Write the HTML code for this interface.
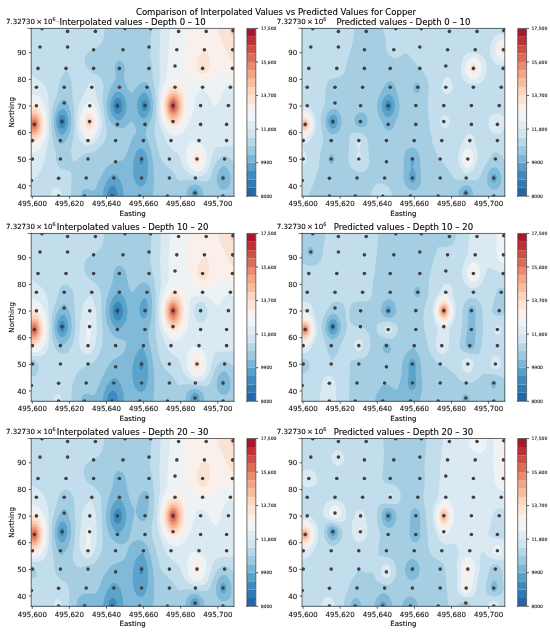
<!DOCTYPE html><html><head><meta charset="utf-8"><style>html,body{margin:0;padding:0;background:#fff;overflow:hidden}svg{display:block}text{stroke:#000;stroke-width:0.2px;stroke-opacity:0.5}</style></head><body><svg width="550px" height="633px" viewBox="0 0 550 633" version="1.1">
 
 <defs>
  <style type="text/css">*{stroke-linejoin: round; stroke-linecap: butt}</style>
 </defs>
 <g id="figure_1">
  <g id="patch_1">
   <path d="M 0 633 L 550 633 L 550 0 L 0 0 z " style="fill: #ffffff"/>
  </g>
  <g id="axes_1">
   <g id="patch_2">
    <path d="M 31.2 196.2 L 234 196.2 L 234 28.4 L 31.2 28.4 z " style="fill: #ffffff"/>
   </g>
   <g id="field0"><rect x="31.2" y="28.4" width="202.8" height="167.8" fill="#2b73b3"/>
<path fill="#3c8abe" fill-rule="evenodd" d="M31.2 28.4L234 28.4 234 196.2 113.5 196.2 112.8 193.8 111.6 193.7 110.9 195 110.7 196.2 31.2 196.2ZM61.8 118.8L60.7 120.1 60.5 121.4 60.5 122.6 61.8 124.5 63.1 123.8 63.7 121.4 63.1 119.4ZM116.7 102.8L115.7 104.5 115.6 106.9 116.7 109 117.9 109.3 119.1 108.1 119.5 106.9 119.3 104.5 117.9 102.6ZM144.7 104.9L144.4 105.7 144.7 106.3 145.1 105.7Z"/>
<path fill="#5ca3cb" fill-rule="evenodd" d="M31.2 28.4L234 28.4 234 196.2 117.7 196.2 117.5 192.6 116.5 189 114.9 186.5 114.1 185.8 112.8 185.5 111.6 185.9 110.3 186.9 109 188.7 107.6 192.6 107.2 196.2 31.2 196.2ZM61.8 114.8L60.5 115.6 59.3 117.6 58.5 121.4 59.3 125.9 60.5 127.9 61.8 128.6 63.1 128.3 64.4 127.2 65.4 125 65.9 121.4 65.6 118.9 64.4 116 63.1 114.9ZM116.7 98.1L115.4 99 114.1 101 113.4 103.2 113.1 106.9 113.5 109.3 114.5 111.7 116.7 113.9 117.9 114.2 119.2 113.8 121.2 111.7 122.1 109.3 122.5 105.7 121.8 102 120.5 99.4 119.2 98.3 117.9 97.9ZM140.9 156.5L140 157.6 139.3 160 139.6 162.7 140.9 164.8 142.2 164.3 143 162.4 143.4 160 142.8 157.6 142.2 156.6ZM143.4 100.2L142.2 101.7 141.6 103.2 141.4 106.9 142.2 109.5 143.4 111 144.7 111.2 146 110.6 147.3 108.4 147.7 104.5 147 102 146 100.5 144.7 99.9Z"/>
<path fill="#81bad8" fill-rule="evenodd" d="M31.2 28.4L234 28.4 234 196.2 198.1 196.2 198.3 193.8 197.9 191.4 197 189.9 195.7 189 194.5 188.9 193.2 189.6 192.1 191.4 191.6 193.8 191.9 196.2 123.6 196.2 122.9 187.7 121 181.7 117.9 176.7 115.4 174.5 114.1 174.2 112.7 174.5 110.3 176.3 106.4 181.7 103.6 189 102.7 196.2 31.2 196.2ZM61.8 109.1L59.3 111.4 57.7 114.1 56.6 117.7 56.2 122.6 56.7 126.6 58 130.6 59.3 132.9 60.5 134.2 61.8 134.7 63.1 134.4 64.4 133.4 66.8 129.8 68 126.2 68.5 121.4 68 116.5 66.3 111.7 64.4 109.3 63.1 108.8ZM116.7 91.8L114.1 93.6 111.6 98 110.3 103.2 110.2 108.1 111.2 112.9 112.9 116.5 115.4 119.3 117.9 120.4 119.2 120.4 122 118.9 124.6 115.3 126.1 110.5 126.4 104.5 124.9 98.4 123 94.7 120.5 92.2 117.9 91.6ZM142.2 93.3L139.7 96 138.3 98.7 137.4 102 137.1 106.9 137.9 111.7 139.4 115.3 140.9 117.2 142.2 118.2 143.4 118.5 144.7 118.3 146 117.5 148.5 113.9 150 109.3 150.3 104.5 149.5 99.6 147.3 94.6 146 93.2 144.7 92.6ZM222.5 175.2L221.6 176.9 221.6 179.3 222.5 180.8 223.8 180.7 224.7 179.3 224.8 176.9 223.8 175.2ZM139.6 148.5L138.3 149.3 136.5 151.5 134.4 156.4 133.3 162.4 133 169.6 133.7 176.9 135.2 181.7 137.6 185.3 139.6 186.6 140.9 186.8 142.2 186.5 143.8 185.3 145.5 182.9 146.5 180.5 147.7 173.3 148 163.6 147.1 156.4 145.2 151.5 143.4 149.2 142.2 148.4 140.9 148.2Z"/>
<path fill="#a5cee3" fill-rule="evenodd" d="M31.2 28.4L234 28.4 234 196.2 203.9 196.2 203.1 191.4 201.2 187.7 198.3 185.3 194.5 184.3 190.8 185.3 188.3 187.7 186.8 191.4 186.1 196.2 152.7 196.2 153.5 189 154 178.1 153.2 163.6 150.8 150.3 146.4 137 145.7 133.4 146.5 129.8 151.1 118.9 152.8 111.7 153.2 103.2 151.6 93.6 149.8 87.6 148.5 84.7 147.3 83.1 144.7 81.9 142.2 82.3 139.6 83.9 137.1 86.5 133.2 91.8 132 92.5 130.7 92.3 129.4 91.2 127.9 88.8 123.9 79.1 123.7 76.7 124.8 70.7 124.3 65.8 123.3 63.4 121.8 61.5 120.5 60.8 119.2 60.7 117.9 61.1 116.7 62.3 115.1 65.8 114.8 69.4 115.8 75.5 115.6 77.9 114.7 80.3 110.3 88.7 108.5 93.6 106.9 100.8 106.6 106.9 107.3 112.9 109 118.9 111.6 123.5 115.4 127.2 119.2 128.6 123 128.2 126.4 126.2 129.4 122.8 130.7 121.9 132 121.8 133.2 122.8 136 128.6 136.4 131 135.8 133.4 133.2 137 131.3 140.7 126 155.2 124.3 158.5 123 159.9 121.8 160.5 114.1 162.4 110.3 164.4 108.1 166 105.2 169.2 102.5 173.3 95 189.2 93.7 190.4 92.4 190.6 87.3 188.7 84.8 189 83.5 189.7 82 191.4 81 193.8 80.5 196.2 31.2 196.2ZM63.1 99.6L60.2 102 56.7 107.9 54.6 114.1 53.7 121.4 54.4 129.8 56.7 138.1 59.3 143.2 60.5 144.1 61.8 144.1 63.7 143.1 65.6 141 68.6 135.8 70.7 129.1 71.4 122.6 71 114.1 69.2 106.9 67.7 103.2 66.2 100.8 64.4 99.5ZM223.8 166L221.2 167.3 218.7 170.7 217.4 174.5 216.8 179.3 217.2 182.9 218.7 186.8 220 188.4 221.2 189.3 223.8 189.9 226.3 189.3 227.6 188.4 228.9 186.8 230.3 182.9 230.7 179.3 230.2 174.5 228.9 170.5 226.3 167 225.1 166.2Z"/>
<path fill="#c2ddec" fill-rule="evenodd" d="M31.2 28.4L104.8 28.4 103.9 36.9 103 40.5 101.8 42.9 100.1 45.1 97.5 47.3 93.7 49.6 89.9 51 87.3 52.9 85.2 56.2 84.5 59.8 85.5 64.6 88.4 69.4 92.3 73.1 97.5 75.2 99.7 76.7 101.6 79.1 103.3 82.7 103.7 87.6 102.7 97.2 102.8 103.2 107 133.4 106 138.3 103.6 143.1 99.4 147.9 95 151.2 92.4 152.3 87.3 153 84.4 153.9 75.8 161 74.6 161.6 73.3 161.1 72 157.4 70.8 150.3 73.1 139.5 73.8 133.4 74.3 120.1 74 105.7 72.3 94.8 72 86.3 71.4 81.5 69.5 75.3 66.9 71 65.6 70.7 61.8 76.5 60.5 79.3 59.2 83.9 58.1 91.2 54.2 102.1 52.2 109.3 51.3 118.9 51.7 132.2 52.6 139.5 55.5 151.5 56.3 161.2 58 165.5 60.5 168.1 63.1 169.3 69.5 170.8 70.7 172 71.3 174.5 71.5 179.3 70.8 196.2 31.2 196.2ZM152 28.4L234 28.4 234 162.6 230.3 158.8 226.3 156.1 223.8 155.7 221.2 157 218.7 159.2 216.1 162.4 214 167.2 210.3 178.1 208.6 180.5 207.2 181.5 204.7 181.8 197 180.3 190.6 179.7 184.3 179.7 180.4 180.6 179 180.5 177.9 179.9 173.8 173.3 171.9 170.8 163.8 163.3 161.3 159.6 160 156.8 157.5 147.8 154.4 133.4 155.8 114.1 155.6 96 155 90 152.7 77.9 152.3 67 150.6 58.6 150.3 55 150.9 46.5 150.6 38.1 151.9 30.8Z"/>
<path fill="#dbeaf2" fill-rule="evenodd" d="M160.6 28.4L234 28.4 234 144.9 228.9 146.5 220 146.8 216.1 148.1 214.9 149 213.1 152.7 210 164.8 207.9 170.8 206.2 173.3 204.9 174.5 202.1 175.7 197 176 193.2 175.3 188.5 173.3 185.7 170.8 183.3 167.2 179.2 156 177.9 153.8 171.5 149.2 167.5 144.3 164.6 138.3 160.1 126.2 158.5 116.5 158.1 104.5 158.5 93.6 159.7 80.3 159.5 55ZM31.2 74.3L42.1 82.7 44.9 86.3 46.7 90 47.8 93.6 48.6 98.4 49.1 122.6 48.6 140.7 44.9 158.8 42.7 166 40.1 171.3 36.3 177 32.4 180.5 32.1 181.7 32 196.2 31.2 196.2ZM89.2 83.9L91.1 83.1 92.4 83.4 93.7 84.7 94.5 86.3 95.7 93.6 98.8 103.7 100.3 110.5 101.5 117.7 101.9 123.8 101.7 127.4 100.7 132.2 98.1 138.3 96.2 140.9 93.7 143.4 91.1 144.9 88.6 145.6 86 145.3 83.5 143.9 80.9 141.6 78.8 138.3 77.4 132.2 76.9 122.6 77.5 112.9 78.8 105.7 80.9 100.1 85.4 91.2 87.3 86.3ZM55.2 187.7L58 188 59.3 188.8 60.4 190.2 61.5 192.6 61.9 196.2 50.9 196.2 51.2 192.6 52.1 190.2 53 189Z"/>
<path fill="#edf2f5" fill-rule="evenodd" d="M170.5 28.4L234 28.4 234 86.4 231.4 84 230.2 83.7 228.9 84 227.3 85.1 225.3 87.6 223.1 91.2 218.7 102.7 217.7 104.5 216.1 106 214.9 106.2 213.6 105.4 212.3 103.5 210.3 98.4 208 94.8 203.4 89 202.1 88.6 197.1 94.8 195.7 97.2 194.7 100.8 193.1 112.9 190.2 120.1 187.3 126.2 185 129.8 181.7 133.4 179.2 135 175.3 135.9 172.8 135.6 170.2 134.2 167.7 131.7 165.1 128.1 163 123.8 161.7 120.1 160.8 115.3 160.2 109.3 160.3 100.8 161.3 92.4 162.6 87.6 166.2 77.9 167.1 74.3 167.5 61ZM31.2 94.8L33.8 94.5 37.6 95.9 40.1 98.1 43 102 44.7 105.7 46 110.5 46.8 116.5 47.1 123.8 47 129.8 46.3 135.8 45.2 139.8 43.2 144.3 40.8 147.9 37.6 150.8 35 152.2 31.2 153.1ZM86.8 103.2L88.6 102.2 89.9 102 91.1 102.4 93.7 104.6 95.7 108.1 97.2 111.7 98.1 115.3 98.7 120.1 98.2 127.4 96.2 133.2 94.6 135.8 92.4 138.1 88.6 140.3 87.3 140 85.1 138.3 82.2 134.4 80.4 129.8 79.7 123.8 79.9 117.7 81.3 111.7 83.5 107ZM191.1 141.9L193.2 141.2 194.5 141.4 202.1 144.8 204.7 147.5 206.3 151.5 206.9 157.6 206.6 161.2 205.8 164.8 204.7 167.2 203.4 169.1 202.1 170.3 199.6 171.5 195.7 171.7 191.9 169.9 189.3 167.2 187.1 162.4 186.3 156.4 186.7 150.3 188.2 145.5 189.4 143.5Z"/>
<path fill="#f9f0eb" fill-rule="evenodd" d="M187 28.4L234 28.4 234 76.5 225.1 74.4 221.2 74 218.7 74.9 213 79.1 211 80.1 205.9 80.8 196.7 80.3 193.7 79.1 190.7 76.7 187.4 71.9 186.2 68.2 185.8 65.8 185.8 58.6 186.7 47.7 186.3 34.4ZM174.8 77.9L176.6 77.3 179.2 77.9 181.7 80.1 184.1 83.9 185.9 88.8 186.9 93.6 187.6 98.4 187.7 104.5 187.4 109.3 186.6 114.1 185.2 118.9 183.5 122.6 181.7 125.3 179.2 128 176.6 129.6 174.1 130.1 171.5 129.5 169 127.6 165.5 122.6 162.9 115.3 162.2 110.5 161.9 105.7 162.7 97.2 165.1 89.4 169 83 171.5 80.2ZM31.2 102L31.2 101.8 33.8 101.1 36.3 101.5 38.8 103.2 40.1 104.8 42.6 109.3 43.9 112.9 44.8 117.7 45.2 122.6 45.1 127.4 44.5 132.2 43.5 135.8 42 139.5 40.1 142.3 37.6 144.8 35 146.3 32.5 146.8 31.2 146.7ZM88.3 109.3L89.9 109.1 91.1 109.5 93.7 112.2 95.4 116.5 96.1 121.4 95.6 126.2 93.7 131 91.1 133.6 88.6 134.2 86 132.8 84.7 131 83.2 127.4 82.5 122.6 82.9 117.7 84.1 114.1 86 110.9ZM194.4 149.1L197 148.7 199.6 149.9 201.1 151.5 202.6 155.2 203 160 202.1 163.6 200.7 166 198.3 167.6 195.7 167.6 193.3 166 191.7 163.6 190.9 161.2 190.6 157.6 191.1 153.9 192.1 151.5 193.2 150Z"/>
<path fill="#fbe3d4" fill-rule="evenodd" d="M218 28.4L234 28.4 234 60.7 232.7 61.6 231.4 60.5 228.9 56.3 220.6 38.1 219 33.2ZM204.3 50.1L205.9 50.6 207.2 51.9 208.5 54.4 209.5 58.6 209.6 63.4 208.6 68.2 206.7 71.9 204.7 73.6 202.1 74.1 200.1 73.1 198.3 70.7 197.2 67 197.1 63.4 198.1 58.6 199.6 55.2 202.1 51.8ZM173.6 85.1L175.3 84.9 177.9 86 179.6 87.6 181.3 90 183.7 96 184.4 99.6 184.7 104.5 183.8 112.9 181.7 118.9 180.3 121.4 177.9 124.2 175.3 125.8 174.1 126.1 171.5 125.6 170.2 124.6 166.9 120.1 165.4 116.5 164.4 112.9 163.7 105.7 164.4 98.4 166.4 92.8 168 90 170.2 87.3ZM31.2 106.9L33.8 105.9 36.3 105.9 38.9 108.6 40.7 111.7 42.1 115.3 43.3 122.6 42.8 129.8 40.8 135.8 37.6 140.2 35 141.9 32.5 142.4 31.2 142.1ZM88.5 114.1L89.9 113.9 91.9 115.3 93.2 117.7 93.7 120.1 93.7 123.8 93 126.2 91.5 128.6 89.9 129.5 88.6 129.5 87.3 128.7 86.3 127.4 85.4 125 85 122.6 85.1 120.1 86 116.9 87.3 114.9ZM195.7 153.9L197 153.6 198.3 154.1 199.6 156 200 157.6 200 160 199.6 161.7 198.3 163.5 197 163.9 195.7 163.5 194.7 162.4 193.8 160 194.1 156.4Z"/>
<path fill="#fbceb7" fill-rule="evenodd" d="M230.1 28.4L234 28.4 234 35.4 232.7 35.6 231.4 34.8 230.5 33.2 229.9 30.8ZM172.8 90L175.3 89.8 176.6 90.4 179.5 93.6 180.7 96 181.8 99.6 182.4 105.7 181.7 111.7 179.3 117.7 176.4 121.4 174.1 122.8 172.8 122.9 170.2 120.8 167.5 116.5 165.9 111.7 165.3 105.7 165.8 100.8 167.3 96 170.2 91.7ZM32.5 110.5L35 110.2 36.3 110.7 38.4 112.9 40.7 117.7 41.5 122.6 41.1 128.6 39.5 133.4 36.6 137 33.8 138.4 32.5 138.4 31.2 137.8 31.2 111.2ZM89.4 117.7L89.9 117.6 91.1 118.7 91.9 121.4 91.1 124.6 89.9 125.8 88.6 125.5 88.2 125 87.2 122.6 87.3 120.1 87.8 118.9 88.6 117.9ZM196.2 158.8L197 157.6 197.8 158.8 197 160.4Z"/>
<path fill="#f7b596" fill-rule="evenodd" d="M172.8 93.6L175.3 93.8 177.9 96.1 179.9 100.8 180.4 105.7 179.9 110.5 178 115.3 175.3 118.4 174.1 119.1 172.8 119.2 170.2 117 168.5 114.1 167.3 110.5 166.8 105.7 167.4 100.8 168.8 97.2 170.2 95.3ZM32.6 114.1L35 113.9 36.3 114.5 37.6 115.9 39.1 118.9 39.9 123.8 39.6 127.4 38.5 131 36.3 133.9 33.8 134.9 32.5 134.6 31.2 133.8 31.2 115.1ZM89.3 121.4L89.9 120.8 90.2 121.4 89.9 122.5Z"/>
<path fill="#ee9677" fill-rule="evenodd" d="M171.5 97.2L172.8 96.6 174.1 96.5 175.3 97.1 177.4 99.6 178.5 103.2 178.7 106.9 177.9 110.7 176.6 113.4 175.3 114.8 174.1 115.5 172.8 115.6 171.5 114.9 170.2 113.4 169 110.8 168.3 108.1 168.2 104.5 168.6 102 169.6 99.6ZM32.1 117.7L33.8 116.8 35 117 36.3 117.8 37.1 118.9 38.1 121.4 38.4 125 38 127.4 37 129.8 35 131.7 33.8 131.9 32.5 131.4 31.2 130 31.2 118.8Z"/>
<path fill="#df765e" fill-rule="evenodd" d="M171.9 99.6L172.8 99.1 174.1 99.2 175.3 100.1 176.5 102 177.1 104.5 177.1 106.9 176.6 109.3 175.3 111.6 174.1 112.6 172.8 112.6 171.5 111.9 170.2 109.9 169.7 108.1 169.4 105.7 169.7 103.2 170.7 100.8ZM32.9 120.1L33.8 119.5 35 119.6 36.3 121 36.9 122.6 36.9 126.2 36.3 127.7 35 129.1 33.8 129.2 32.8 128.6 31.5 126.2 31.6 122.6Z"/>
<path fill="#cf5246" fill-rule="evenodd" d="M171.9 102L172.8 101.3 174.1 101.6 175.3 103.4 175.6 106.9 175.3 108.1 174.1 109.9 172.8 110.2 171.5 109.1 171 108.1 170.7 104.5ZM33.3 122.6L33.8 121.9 35 122.1 35.4 122.6 35.8 125 35 126.7 33.8 126.8 33.2 126.2 32.8 123.8Z"/>
<path fill="#bd2d35" fill-rule="evenodd" d="M172 104.5L172.8 103.4 174.3 104.5 174.3 106.9 172.8 108 172 106.9 171.7 105.7Z"/></g>
   <g id="matplotlib.axis_1">
    <g id="xtick_1">
     <g id="line2d_1">
      
      <g>
       <path d="M 0 0 L 0 2.43 " transform="translate(32.3 196.2)" style="fill: #333333; stroke: #333333; stroke-width: 0.8"/>
      </g>
     </g>
     <g id="text_1">
      <text style="font-size: 7.05px; font-family: 'DejaVu Sans', sans-serif; text-anchor: middle; fill: #222222" x="32.3" y="206.416898" transform="rotate(-0 32.3 206.416898)">495,600</text>
     </g>
    </g>
    <g id="xtick_2">
     <g id="line2d_2">
      <g>
       <path d="M 0 0 L 0 2.43 " transform="translate(69.4 196.2)" style="fill: #333333; stroke: #333333; stroke-width: 0.8"/>
      </g>
     </g>
     <g id="text_2">
      <text style="font-size: 7.05px; font-family: 'DejaVu Sans', sans-serif; text-anchor: middle; fill: #222222" x="69.4" y="206.416898" transform="rotate(-0 69.4 206.416898)">495,620</text>
     </g>
    </g>
    <g id="xtick_3">
     <g id="line2d_3">
      <g>
       <path d="M 0 0 L 0 2.43 " transform="translate(106.5 196.2)" style="fill: #333333; stroke: #333333; stroke-width: 0.8"/>
      </g>
     </g>
     <g id="text_3">
      <text style="font-size: 7.05px; font-family: 'DejaVu Sans', sans-serif; text-anchor: middle; fill: #222222" x="106.5" y="206.416898" transform="rotate(-0 106.5 206.416898)">495,640</text>
     </g>
    </g>
    <g id="xtick_4">
     <g id="line2d_4">
      <g>
       <path d="M 0 0 L 0 2.43 " transform="translate(143.6 196.2)" style="fill: #333333; stroke: #333333; stroke-width: 0.8"/>
      </g>
     </g>
     <g id="text_4">
      <text style="font-size: 7.05px; font-family: 'DejaVu Sans', sans-serif; text-anchor: middle; fill: #222222" x="143.6" y="206.416898" transform="rotate(-0 143.6 206.416898)">495,660</text>
     </g>
    </g>
    <g id="xtick_5">
     <g id="line2d_5">
      <g>
       <path d="M 0 0 L 0 2.43 " transform="translate(180.7 196.2)" style="fill: #333333; stroke: #333333; stroke-width: 0.8"/>
      </g>
     </g>
     <g id="text_5">
      <text style="font-size: 7.05px; font-family: 'DejaVu Sans', sans-serif; text-anchor: middle; fill: #222222" x="180.7" y="206.416898" transform="rotate(-0 180.7 206.416898)">495,680</text>
     </g>
    </g>
    <g id="xtick_6">
     <g id="line2d_6">
      <g>
       <path d="M 0 0 L 0 2.43 " transform="translate(217.8 196.2)" style="fill: #333333; stroke: #333333; stroke-width: 0.8"/>
      </g>
     </g>
     <g id="text_6">
      <text style="font-size: 7.05px; font-family: 'DejaVu Sans', sans-serif; text-anchor: middle; fill: #222222" x="217.8" y="206.416898" transform="rotate(-0 217.8 206.416898)">495,700</text>
     </g>
    </g>
    <g id="text_7">
     <text style="font-size: 7.05px; font-family: 'DejaVu Sans', sans-serif; text-anchor: middle" x="132.6" y="215.639977" transform="rotate(-0 132.6 215.639977)">Easting</text>
    </g>
   </g>
   <g id="matplotlib.axis_2">
    <g id="ytick_1">
     <g id="line2d_7">
      
      <g>
       <path d="M 0 0 L -2.43 0 " transform="translate(31.2 52.7)" style="fill: #333333; stroke: #333333; stroke-width: 0.8"/>
      </g>
     </g>
     <g id="text_8">
      <text style="font-size: 7.05px; font-family: 'DejaVu Sans', sans-serif; text-anchor: end; fill: #222222" x="26.34" y="55.378449" transform="rotate(-0 26.34 55.378449)">90</text>
     </g>
    </g>
    <g id="ytick_2">
     <g id="line2d_8">
      <g>
       <path d="M 0 0 L -2.43 0 " transform="translate(31.2 79.34)" style="fill: #333333; stroke: #333333; stroke-width: 0.8"/>
      </g>
     </g>
     <g id="text_9">
      <text style="font-size: 7.05px; font-family: 'DejaVu Sans', sans-serif; text-anchor: end; fill: #222222" x="26.34" y="82.018449" transform="rotate(-0 26.34 82.018449)">80</text>
     </g>
    </g>
    <g id="ytick_3">
     <g id="line2d_9">
      <g>
       <path d="M 0 0 L -2.43 0 " transform="translate(31.2 105.98)" style="fill: #333333; stroke: #333333; stroke-width: 0.8"/>
      </g>
     </g>
     <g id="text_10">
      <text style="font-size: 7.05px; font-family: 'DejaVu Sans', sans-serif; text-anchor: end; fill: #222222" x="26.34" y="108.658449" transform="rotate(-0 26.34 108.658449)">70</text>
     </g>
    </g>
    <g id="ytick_4">
     <g id="line2d_10">
      <g>
       <path d="M 0 0 L -2.43 0 " transform="translate(31.2 132.62)" style="fill: #333333; stroke: #333333; stroke-width: 0.8"/>
      </g>
     </g>
     <g id="text_11">
      <text style="font-size: 7.05px; font-family: 'DejaVu Sans', sans-serif; text-anchor: end; fill: #222222" x="26.34" y="135.298449" transform="rotate(-0 26.34 135.298449)">60</text>
     </g>
    </g>
    <g id="ytick_5">
     <g id="line2d_11">
      <g>
       <path d="M 0 0 L -2.43 0 " transform="translate(31.2 159.26)" style="fill: #333333; stroke: #333333; stroke-width: 0.8"/>
      </g>
     </g>
     <g id="text_12">
      <text style="font-size: 7.05px; font-family: 'DejaVu Sans', sans-serif; text-anchor: end; fill: #222222" x="26.34" y="161.938449" transform="rotate(-0 26.34 161.938449)">50</text>
     </g>
    </g>
    <g id="ytick_6">
     <g id="line2d_12">
      <g>
       <path d="M 0 0 L -2.43 0 " transform="translate(31.2 185.9)" style="fill: #333333; stroke: #333333; stroke-width: 0.8"/>
      </g>
     </g>
     <g id="text_13">
      <text style="font-size: 7.05px; font-family: 'DejaVu Sans', sans-serif; text-anchor: end; fill: #222222" x="26.34" y="188.578449" transform="rotate(-0 26.34 188.578449)">40</text>
     </g>
    </g>
    <g id="text_14">
     <text style="font-size: 7.05px; font-family: 'DejaVu Sans', sans-serif; text-anchor: middle" x="14.402695" y="112.3" transform="rotate(-90 14.402695 112.3)">Northing</text>
    </g>
   </g>
   <g id="patch_3">
    <path d="M 31.2 196.2 L 31.2 28.4 " style="fill: none; stroke: #333333; stroke-width: 0.7; stroke-linejoin: miter; stroke-linecap: square"/>
   </g>
   <g id="patch_4">
    <path d="M 234 196.2 L 234 28.4 " style="fill: none; stroke: #333333; stroke-width: 0.7; stroke-linejoin: miter; stroke-linecap: square"/>
   </g>
   <g id="patch_5">
    <path d="M 31.2 196.2 L 234 196.2 " style="fill: none; stroke: #333333; stroke-width: 0.7; stroke-linejoin: miter; stroke-linecap: square"/>
   </g>
   <g id="patch_6">
    <path d="M 31.2 28.4 L 234 28.4 " style="fill: none; stroke: #333333; stroke-width: 0.7; stroke-linejoin: miter; stroke-linecap: square"/>
   </g>
   <g id="PathCollection_1">
    
    <g clip-path="url(#p26a045d4e1)">
     <circle cx="42" cy="28.6" r="1.80" style="fill: #404040"/>
     <circle cx="67.6" cy="31.4" r="1.80" style="fill: #404040"/>
     <circle cx="95.4" cy="31.4" r="1.80" style="fill: #404040"/>
     <circle cx="125" cy="28.6" r="1.80" style="fill: #404040"/>
     <circle cx="150.6" cy="28.6" r="1.80" style="fill: #404040"/>
     <circle cx="178.6" cy="31.4" r="1.80" style="fill: #404040"/>
     <circle cx="206.2" cy="31.4" r="1.80" style="fill: #404040"/>
     <circle cx="233" cy="30.6" r="1.80" style="fill: #404040"/>
     <circle cx="40" cy="47" r="1.80" style="fill: #404040"/>
     <circle cx="67.6" cy="47" r="1.80" style="fill: #404040"/>
     <circle cx="93.6" cy="49.8" r="1.80" style="fill: #404040"/>
     <circle cx="123" cy="49.8" r="1.80" style="fill: #404040"/>
     <circle cx="149" cy="47" r="1.80" style="fill: #404040"/>
     <circle cx="176.8" cy="49.8" r="1.80" style="fill: #404040"/>
     <circle cx="204.4" cy="49.8" r="1.80" style="fill: #404040"/>
     <circle cx="232.6" cy="49.8" r="1.80" style="fill: #404040"/>
     <circle cx="38" cy="68.4" r="1.80" style="fill: #404040"/>
     <circle cx="66" cy="68.4" r="1.80" style="fill: #404040"/>
     <circle cx="93.6" cy="68.4" r="1.80" style="fill: #404040"/>
     <circle cx="119.4" cy="68.4" r="1.80" style="fill: #404040"/>
     <circle cx="149" cy="68.4" r="1.80" style="fill: #404040"/>
     <circle cx="175" cy="66" r="1.80" style="fill: #404040"/>
     <circle cx="202.6" cy="68.4" r="1.80" style="fill: #404040"/>
     <circle cx="232.4" cy="68.4" r="1.80" style="fill: #404040"/>
     <circle cx="36.4" cy="87.2" r="1.80" style="fill: #404040"/>
     <circle cx="64.2" cy="87.2" r="1.80" style="fill: #404040"/>
     <circle cx="91.8" cy="87.2" r="1.80" style="fill: #404040"/>
     <circle cx="119.4" cy="87.2" r="1.80" style="fill: #404040"/>
     <circle cx="147" cy="87.2" r="1.80" style="fill: #404040"/>
     <circle cx="175" cy="87.2" r="1.80" style="fill: #404040"/>
     <circle cx="202.6" cy="87.2" r="1.80" style="fill: #404040"/>
     <circle cx="230.4" cy="87.2" r="1.80" style="fill: #404040"/>
     <circle cx="36.4" cy="105.8" r="1.80" style="fill: #404040"/>
     <circle cx="64.2" cy="103" r="1.80" style="fill: #404040"/>
     <circle cx="89.8" cy="105.8" r="1.80" style="fill: #404040"/>
     <circle cx="117.4" cy="105.8" r="1.80" style="fill: #404040"/>
     <circle cx="145" cy="105.6" r="1.80" style="fill: #404040"/>
     <circle cx="173" cy="105.6" r="1.80" style="fill: #404040"/>
     <circle cx="200.6" cy="105.6" r="1.80" style="fill: #404040"/>
     <circle cx="228.4" cy="105.6" r="1.80" style="fill: #404040"/>
     <circle cx="34.4" cy="124.4" r="1.80" style="fill: #404040"/>
     <circle cx="62" cy="121.6" r="1.80" style="fill: #404040"/>
     <circle cx="89.6" cy="121.6" r="1.80" style="fill: #404040"/>
     <circle cx="117.4" cy="124.4" r="1.80" style="fill: #404040"/>
     <circle cx="145" cy="124.4" r="1.80" style="fill: #404040"/>
     <circle cx="173" cy="121.6" r="1.80" style="fill: #404040"/>
     <circle cx="200.6" cy="124.4" r="1.80" style="fill: #404040"/>
     <circle cx="226.6" cy="124.4" r="1.80" style="fill: #404040"/>
     <circle cx="32.4" cy="140.6" r="1.80" style="fill: #404040"/>
     <circle cx="60.4" cy="140.6" r="1.80" style="fill: #404040"/>
     <circle cx="88" cy="140.6" r="1.80" style="fill: #404040"/>
     <circle cx="115.6" cy="140.6" r="1.80" style="fill: #404040"/>
     <circle cx="143.4" cy="140.6" r="1.80" style="fill: #404040"/>
     <circle cx="171" cy="140.6" r="1.80" style="fill: #404040"/>
     <circle cx="199" cy="140.6" r="1.80" style="fill: #404040"/>
     <circle cx="226.6" cy="140.6" r="1.80" style="fill: #404040"/>
     <circle cx="32.4" cy="159" r="1.80" style="fill: #404040"/>
     <circle cx="60.4" cy="159" r="1.80" style="fill: #404040"/>
     <circle cx="88" cy="159" r="1.80" style="fill: #404040"/>
     <circle cx="115.6" cy="161.8" r="1.80" style="fill: #404040"/>
     <circle cx="141.6" cy="159" r="1.80" style="fill: #404040"/>
     <circle cx="169.4" cy="159" r="1.80" style="fill: #404040"/>
     <circle cx="197" cy="159" r="1.80" style="fill: #404040"/>
     <circle cx="224.6" cy="159" r="1.80" style="fill: #404040"/>
     <circle cx="31.4" cy="180.5" r="1.80" style="fill: #404040"/>
     <circle cx="58.6" cy="178.2" r="1.80" style="fill: #404040"/>
     <circle cx="86.2" cy="178" r="1.80" style="fill: #404040"/>
     <circle cx="113.8" cy="178" r="1.80" style="fill: #404040"/>
     <circle cx="141.6" cy="178" r="1.80" style="fill: #404040"/>
     <circle cx="169.4" cy="178" r="1.80" style="fill: #404040"/>
     <circle cx="195.4" cy="178" r="1.80" style="fill: #404040"/>
     <circle cx="223" cy="178" r="1.80" style="fill: #404040"/>
     <circle cx="58.6" cy="196" r="1.80" style="fill: #404040"/>
     <circle cx="84.4" cy="196" r="1.80" style="fill: #404040"/>
     <circle cx="112" cy="196" r="1.80" style="fill: #404040"/>
     <circle cx="139.6" cy="196" r="1.80" style="fill: #404040"/>
     <circle cx="167.4" cy="196" r="1.80" style="fill: #404040"/>
     <circle cx="195" cy="193" r="1.80" style="fill: #404040"/>
     <circle cx="223" cy="196" r="1.80" style="fill: #404040"/>
    </g>
   </g>
   <g id="text_15">
    <text style="font-size: 8.55px; font-family: 'DejaVu Sans', sans-serif; text-anchor: middle" x="132.6" y="25.3" transform="rotate(-0 132.6 25.3)">Interpolated values - Depth 0 – 10</text>
   </g>
  </g>
  <g id="axes_2">
   <g id="patch_7">
    <path d="M 246.9 196.2 L 255.8 196.2 L 255.8 28.4 L 246.9 28.4 z " style="fill: #ffffff"/>
   </g>
   <g id="QuadMesh_1">
    <path d="M 246.9 196.2 L 255.8 196.2 L 255.8 187.81 L 246.9 187.81 L 246.9 196.2 " clip-path="url(#p0f8dd139ea)" style="fill: #2267ac"/>
    <path d="M 246.9 187.81 L 255.8 187.81 L 255.8 179.42 L 246.9 179.42 L 246.9 187.81 " clip-path="url(#p0f8dd139ea)" style="fill: #2f79b5"/>
    <path d="M 246.9 179.42 L 255.8 179.42 L 255.8 171.03 L 246.9 171.03 L 246.9 179.42 " clip-path="url(#p0f8dd139ea)" style="fill: #3e8cbf"/>
    <path d="M 246.9 171.03 L 255.8 171.03 L 255.8 162.64 L 246.9 162.64 L 246.9 171.03 " clip-path="url(#p0f8dd139ea)" style="fill: #59a1ca"/>
    <path d="M 246.9 162.64 L 255.8 162.64 L 255.8 154.25 L 246.9 154.25 L 246.9 162.64 " clip-path="url(#p0f8dd139ea)" style="fill: #7bb6d6"/>
    <path d="M 246.9 154.25 L 255.8 154.25 L 255.8 145.86 L 246.9 145.86 L 246.9 154.25 " clip-path="url(#p0f8dd139ea)" style="fill: #9bc9e0"/>
    <path d="M 246.9 145.86 L 255.8 145.86 L 255.8 137.47 L 246.9 137.47 L 246.9 145.86 " clip-path="url(#p0f8dd139ea)" style="fill: #b6d7e8"/>
    <path d="M 246.9 137.47 L 255.8 137.47 L 255.8 129.08 L 246.9 129.08 L 246.9 137.47 " clip-path="url(#p0f8dd139ea)" style="fill: #d1e5f0"/>
    <path d="M 246.9 129.08 L 255.8 129.08 L 255.8 120.69 L 246.9 120.69 L 246.9 129.08 " clip-path="url(#p0f8dd139ea)" style="fill: #e0ecf3"/>
    <path d="M 246.9 120.69 L 255.8 120.69 L 255.8 112.3 L 246.9 112.3 L 246.9 120.69 " clip-path="url(#p0f8dd139ea)" style="fill: #f0f4f6"/>
    <path d="M 246.9 112.3 L 255.8 112.3 L 255.8 103.91 L 246.9 103.91 L 246.9 112.3 " clip-path="url(#p0f8dd139ea)" style="fill: #f9f0eb"/>
    <path d="M 246.9 103.91 L 255.8 103.91 L 255.8 95.52 L 246.9 95.52 L 246.9 103.91 " clip-path="url(#p0f8dd139ea)" style="fill: #fbe4d6"/>
    <path d="M 246.9 95.52 L 255.8 95.52 L 255.8 87.13 L 246.9 87.13 L 246.9 95.52 " clip-path="url(#p0f8dd139ea)" style="fill: #fcd5bf"/>
    <path d="M 246.9 87.13 L 255.8 87.13 L 255.8 78.74 L 246.9 78.74 L 246.9 87.13 " clip-path="url(#p0f8dd139ea)" style="fill: #f8bda1"/>
    <path d="M 246.9 78.74 L 255.8 78.74 L 255.8 70.35 L 246.9 70.35 L 246.9 78.74 " clip-path="url(#p0f8dd139ea)" style="fill: #f4a683"/>
    <path d="M 246.9 70.35 L 255.8 70.35 L 255.8 61.96 L 246.9 61.96 L 246.9 70.35 " clip-path="url(#p0f8dd139ea)" style="fill: #e98b6e"/>
    <path d="M 246.9 61.96 L 255.8 61.96 L 255.8 53.57 L 246.9 53.57 L 246.9 61.96 " clip-path="url(#p0f8dd139ea)" style="fill: #dc6e57"/>
    <path d="M 246.9 53.57 L 255.8 53.57 L 255.8 45.18 L 246.9 45.18 L 246.9 53.57 " clip-path="url(#p0f8dd139ea)" style="fill: #ce4f45"/>
    <path d="M 246.9 45.18 L 255.8 45.18 L 255.8 36.79 L 246.9 36.79 L 246.9 45.18 " clip-path="url(#p0f8dd139ea)" style="fill: #be3036"/>
    <path d="M 246.9 36.79 L 255.8 36.79 L 255.8 28.4 L 246.9 28.4 L 246.9 36.79 " clip-path="url(#p0f8dd139ea)" style="fill: #ab162a"/>
   </g>
   <g id="matplotlib.axis_3"/>
   <g id="matplotlib.axis_4">
    <g id="ytick_7">
     <g id="line2d_13">
      
      <g>
       <path d="M 0 0 L 2.43 0 " transform="translate(255.8 196.2)" style="fill: #333333; stroke: #333333; stroke-width: 0.8"/>
      </g>
     </g>
     <g id="text_16">
      <text style="font-size: 4.53px; font-family: 'DejaVu Sans', sans-serif; text-anchor: start; fill: #222222" x="260.66" y="197.921046" transform="rotate(-0 260.66 197.921046)">8000</text>
     </g>
    </g>
    <g id="ytick_8">
     <g id="line2d_14">
      <g>
       <path d="M 0 0 L 2.43 0 " transform="translate(255.8 162.64)" style="fill: #333333; stroke: #333333; stroke-width: 0.8"/>
      </g>
     </g>
     <g id="text_17">
      <text style="font-size: 4.53px; font-family: 'DejaVu Sans', sans-serif; text-anchor: start; fill: #222222" x="260.66" y="164.361046" transform="rotate(-0 260.66 164.361046)">9900</text>
     </g>
    </g>
    <g id="ytick_9">
     <g id="line2d_15">
      <g>
       <path d="M 0 0 L 2.43 0 " transform="translate(255.8 129.08)" style="fill: #333333; stroke: #333333; stroke-width: 0.8"/>
      </g>
     </g>
     <g id="text_18">
      <text style="font-size: 4.53px; font-family: 'DejaVu Sans', sans-serif; text-anchor: start; fill: #222222" x="260.66" y="130.801046" transform="rotate(-0 260.66 130.801046)">11,800</text>
     </g>
    </g>
    <g id="ytick_10">
     <g id="line2d_16">
      <g>
       <path d="M 0 0 L 2.43 0 " transform="translate(255.8 95.52)" style="fill: #333333; stroke: #333333; stroke-width: 0.8"/>
      </g>
     </g>
     <g id="text_19">
      <text style="font-size: 4.53px; font-family: 'DejaVu Sans', sans-serif; text-anchor: start; fill: #222222" x="260.66" y="97.241046" transform="rotate(-0 260.66 97.241046)">13,700</text>
     </g>
    </g>
    <g id="ytick_11">
     <g id="line2d_17">
      <g>
       <path d="M 0 0 L 2.43 0 " transform="translate(255.8 61.96)" style="fill: #333333; stroke: #333333; stroke-width: 0.8"/>
      </g>
     </g>
     <g id="text_20">
      <text style="font-size: 4.53px; font-family: 'DejaVu Sans', sans-serif; text-anchor: start; fill: #222222" x="260.66" y="63.681046" transform="rotate(-0 260.66 63.681046)">15,600</text>
     </g>
    </g>
    <g id="ytick_12">
     <g id="line2d_18">
      <g>
       <path d="M 0 0 L 2.43 0 " transform="translate(255.8 28.4)" style="fill: #333333; stroke: #333333; stroke-width: 0.8"/>
      </g>
     </g>
     <g id="text_21">
      <text style="font-size: 4.53px; font-family: 'DejaVu Sans', sans-serif; text-anchor: start; fill: #222222" x="260.66" y="30.121046" transform="rotate(-0 260.66 30.121046)">17,500</text>
     </g>
    </g>
   </g>
   <g id="LineCollection_1"/>
   <g id="patch_8">
    <path d="M 246.9 196.2 L 251.35 196.2 L 255.8 196.2 L 255.8 28.4 L 251.35 28.4 L 246.9 28.4 L 246.9 196.2 z " style="fill: none; stroke: #333333; stroke-width: 0.7; stroke-linejoin: miter; stroke-linecap: square"/>
   </g>
  </g>
  <g id="axes_3">
   <g id="patch_9">
    <path d="M 302 196.2 L 504.8 196.2 L 504.8 28.4 L 302 28.4 z " style="fill: #ffffff"/>
   </g>
   <g id="field1"><rect x="302.0" y="28.4" width="202.8" height="167.8" fill="#2b73b3"/>
<path fill="#3c8abe" fill-rule="evenodd" d="M302 28.4L504.8 28.4 504.8 196.2 302 196.2ZM387.5 105.1L387.5 106.4 388.7 107 389.2 105.7 388.7 104.7Z"/>
<path fill="#5ca3cb" fill-rule="evenodd" d="M302 28.4L504.8 28.4 504.8 196.2 302 196.2ZM332.6 118.6L331.3 119.7 330.9 121.4 331.3 123.5 332.6 124.6 334.3 123.8 334.9 121.4 333.9 118.9ZM387.5 100.5L386.2 101.5 385.2 103.2 384.8 106.9 386.2 110.2 387.5 111.2 388.7 111.2 390 110.5 391.3 108.3 391.6 104.5 391.3 103.2 390 101.1 388.7 100.4Z"/>
<path fill="#81bad8" fill-rule="evenodd" d="M302 28.4L504.8 28.4 504.8 196.2 468.2 196.2 468.8 193.8 468.3 191.4 466.5 189.6 465.3 189.6 464 190.4 462.9 192.6 463 195 463.4 196.2 302 196.2ZM331.3 115L329.8 116.5 328.7 118.9 328.4 121.4 328.6 123.8 329.5 126.2 330.3 127.4 331.3 128.3 332.6 128.7 333.9 128.6 335.8 127.4 337.2 125 337.8 122.6 337.7 120.1 337.1 117.7 335.2 115.1 333.9 114.5 332.6 114.5ZM387.5 94.7L384.9 96.5 382.9 99.6 381.8 103.2 381.6 106.9 382.3 110.5 383.9 114.1 386.2 116.5 387.5 117.2 388.7 117.2 391.3 115.8 393.3 112.9 394.5 109.3 394.8 104.5 394.2 100.8 392.6 97.1 391.3 95.6 390 94.7 388.7 94.5ZM411.7 156.5L410.7 157.6 410.2 160 411.6 167.2 409.3 173.3 408.8 176.9 409.1 179.3 410.2 181.7 411.7 182.8 413 182.9 414.2 182.2 415.4 180.5 416 176.9 415.5 173.3 413.1 167.2 413.3 164.8 414.4 161.2 414.3 158.8 413 156.5ZM493.3 173.9L491.5 175.7 491.1 176.9 491 179.3 492 181.7 493.3 182.6 494.6 182.6 495.9 181.6 496.5 180.5 496.8 176.9 495.5 174.5 494.6 173.9Z"/>
<path fill="#a5cee3" fill-rule="evenodd" d="M302 28.4L504.8 28.4 504.8 196.2 473.4 196.2 472.9 191.4 471 187.7 469.7 186.5 467.8 185.6 465.3 185.2 464 185.4 461.8 186.5 459.7 189 458.5 192.6 458.4 196.2 302 196.2ZM332.6 108.9L330.1 110.1 327.5 113 326 116.5 325.2 121.4 325.8 126.2 327.5 130.5 330.1 133.4 332.6 134.5 335.2 134.1 336.4 133.4 339 130.8 341.1 126.2 341.8 121.4 341.2 116.5 339 111.9 336.4 109.5 335.2 108.9ZM359.4 112.6L356.8 114.2 355.3 116.5 354.4 120.1 354.7 122.6 356.1 125 358.1 126.5 360.7 127.3 363.2 127.1 365.8 125.7 367.1 123.8 367.6 121.4 367.2 117.7 366.1 115.3 364.5 113.5 361.9 112.5ZM388.7 81.3L387.5 82.1 386.2 83.6 379.5 94.8 377.7 99.6 376.9 105.7 377.9 112.9 380.6 120.1 384.9 128.3 386.2 129.6 388.7 130.6 391.3 129.8 393.3 127.4 398.1 115.3 399.3 110.5 399.6 105.7 398.4 97.2 394.6 85.1 392.6 82.1 391.3 81.3 390 81ZM410.4 147.7L407.9 148.8 406.6 150.1 405 152.7 404.3 155.2 403.9 158.8 403.6 178.1 404.5 182.9 406.6 187 409.1 189.3 413 190.5 415.5 189.9 416.8 189.2 419.2 186.5 420.9 181.7 421.2 176.9 419.7 157.6 418.8 153.9 417.6 151.5 415.5 149.1 413 147.8ZM416.8 82.7L414.8 83.9 414 85.1 413.4 87.6 413.6 90 414.2 91.4 415.5 92.6 416.8 93 418.1 92.6 419.3 91.4 420.1 90 420.5 87.6 420 85.1 419.3 83.9 418.1 82.9ZM494.6 167.2L492 168 489.4 170.8 487.7 174.5 486.9 179.3 487.7 184.1 489.5 187.4 492 189.4 494.6 189.8 497.1 189 499.6 186.5 501.1 182.9 501.5 179.3 500.8 174.5 499.3 170.8 497.1 168.2ZM330.1 154.8L328.8 156.8 328.4 160 329.1 162.4 330.1 163.6 331.3 164.1 332.6 163.7 333.9 162.2 334.5 160 334.4 157.6 333.9 156.1 332.6 154.6 331.3 154.2Z"/>
<path fill="#c2ddec" fill-rule="evenodd" d="M302 28.4L354.8 28.4 353.1 40.5 350.3 51.3 347.9 57.9 345.8 68.2 344.7 71.9 342.8 74.7 340.3 76.6 337.7 77.4 332.6 78.2 330.1 79.3 327.8 81.5 326.7 83.9 325.7 90 325 103.2 321.9 111.7 320.8 117.7 320.9 126.2 323.1 137 323.3 139.5 322.9 143.1 319.6 157.6 318.6 168.7 312.8 185.3 307.9 196.2 302 196.2ZM382.5 28.4L504.8 28.4 504.8 160 499.7 153.7 497.1 152.4 494.6 152.6 493.3 153.3 491.6 155.2 484.8 166 479.3 177.4 478 179.3 476.7 180.4 470.4 180 466.5 180.3 461.4 179.5 456.3 179.9 455.1 179.8 454.5 179.3 447.3 168.4 438.3 156.4 435 150.3 432.5 143.1 429.7 127.4 428.2 112.9 427.6 103.2 428.7 92.4 428.7 86.3 427.9 81.5 426.2 76.7 423.2 71.8 417.2 65.8 407.9 53.9 406.6 53.2 405.3 53.3 398.9 57.3 395.1 58.2 392.6 57.7 391.3 57 389 55 387.4 52.5 386.2 48.9 385 35.6ZM352.7 133.4L356.8 132.6 359.4 132.8 361.9 133.6 365.3 135.8 366.3 137 367.5 139.5 369.2 158.8 369 163.6 368.1 167.2 367 169.1 365.3 170.8 363.2 171.8 360.7 172.1 358.1 171.7 355.6 170.8 353.4 169.6 350.5 166.4 348.9 162.4 348.5 158.8 349.2 139.5 350.1 135.8 351 134.6ZM376.6 184.1L378.5 183.5 381.1 183.4 384.9 184.4 387.5 185.9 389.3 187.7 390.7 190.2 391.6 192.6 392.3 196.2 371.3 196.2 371.6 192.6 372.6 189 373.8 186.5Z"/>
<path fill="#dbeaf2" fill-rule="evenodd" d="M498.4 34.4L501 34 504.8 34.1 504.8 65.3 499.7 65.1 497.1 64.4 495.4 63.4 494 62.2 492.2 59.8 490.5 55 490.1 51.3 490.2 47.7 491.5 41.7 492.6 39.3 494.5 36.9 496 35.6ZM469.6 52.5L471.6 52.3 476.7 53.1 480.6 54.6 483.7 57.4 485.2 59.8 486.1 62.2 486.7 65.8 486.7 69.4 486.3 73.1 485.2 76.7 484 79.1 482 81.5 480.4 82.7 478 83.8 471.6 84.1 467.8 83.3 465.3 81.6 464.1 80.3 461.7 75.5 460.9 71.9 460.8 67 462.3 59.8 463.4 57.4 465.3 55 467.8 53.1ZM446.9 76.7L447.4 76.5 448.7 76.9 450.6 79.1 452.2 82.7 452.8 86.3 452.3 90 451.2 92.1 449.6 93.6 447.4 94.2 444.9 93.4 443.6 92.2 442.4 90 441.9 87.6 442.2 83.9 443.5 80.3 444.9 78.1ZM302 106.9L302 106.4 303.3 106 307.1 105.8 310.9 109.4 313.3 112.9 314.8 116.5 315.6 120.1 316 125 315.1 131 313.8 134.6 312.2 137.4 309.7 140.4 307.1 142.5 302 145.4ZM492.4 114.1L495.9 113.2 499.7 113.8 502.4 115.3 504.8 118.3 504.8 128.3 502.2 132.1 499.7 133.7 495.9 134 493.3 133.2 490.9 131 489 127.4 488.3 123.8 488.8 118.9 489.9 116.5ZM442.3 116.5L443.6 115.6 446.1 115.5 447.8 116.5 449.2 118.9 449.6 121.4 449.3 123.8 448.2 126.2 446.1 128 444.9 128.2 443.6 127.9 442.3 127 441 124.8 440.5 122.6 440.6 120.1 441 118.6ZM467.4 134.6L469.1 134.1 471.6 134.6 472.9 135.6 474 137 477 150.3 477.5 156.4 477.3 160 476.4 163.6 474.2 168.5 472.4 170.8 470.4 172.8 467.8 173.8 466.5 173.9 465.3 173.5 463.4 172.1 460.3 167.2 458.6 161.2 458.3 156.4 459 151.5 460.6 146.7 465.3 137 466 135.8ZM356.9 139.5L358.1 138.4 359.4 138.5 360.4 139.5 361 140.7 361 144.3 359.4 148.9 358.1 148.9 356.8 145.7 356.2 141.9ZM302 146.7L302 145.7 305.8 152.5 306.8 157.6 306.6 160 305.8 162.4 304.6 164.2 302 165.4ZM358 151.5L358.1 150.8 359.4 150.8 361.3 156.4 361.1 160 360.4 161.2 359.4 162 358.1 161.9 357.3 161.2 356.3 158.8 356.6 155.2ZM380.9 193.8L382.4 192.8 383.6 193.1 384.9 194.9 385.1 196.2 380.2 196.2Z"/>
<path fill="#edf2f5" fill-rule="evenodd" d="M501.5 39.3L504.8 39.1 504.8 60.4 501 60 498.7 58.6 496.8 56.2 495.6 52.5 495.5 47.7 496.5 44.1 498.4 41.1ZM471.6 57.4L472.9 57.2 475.5 57.6 478 59 480.4 62.2 481.7 67 481.4 71.9 480 75.5 478 77.9 476.7 78.8 474.2 79.6 471.6 79.4 468.9 77.9 466.5 74.8 465.3 70.7 465.3 65.8 466.4 62.2 467.8 59.9 469.1 58.6ZM302.1 111.7L304.6 111 305.8 111 308.4 112.2 309.7 113.3 312.3 117.7 313.4 122.6 313.1 128.6 311.1 133.4 308.4 136.6 307.1 137.3 304.6 138.1 302 137.6ZM465.8 149.1L467.8 148.1 469.1 148.1 470.4 148.8 472.3 151.5 473.7 156.4 473.6 160 472.5 163.6 470.4 166.6 467.8 167.7 465.3 166.8 464 165.5 462.7 162.9 462 160 462.1 156.4 462.6 153.9 464 151.1Z"/>
<path fill="#f9f0eb" fill-rule="evenodd" d="M502.6 42.9L504.8 43 504.8 56.5 503.5 56.8 501.5 56.2 500 55 498.8 52.5 498.4 50.1 498.6 47.7 499.5 45.3 501 43.6ZM472 61L474.2 60.8 476.6 62.2 478.2 64.6 478.9 67 478.7 70.7 477.8 73.1 476.7 74.6 474.2 76 471.6 75.7 470.4 74.8 468.5 71.9 467.9 69.4 468 67 468.6 64.6 470.1 62.2ZM302 115.3L304.6 114.3 307.1 114.8 309.7 117.3 311.3 121.4 311.5 126.2 310.6 129.8 308.4 133.1 305.8 134.5 303.3 134.4 302 133.8ZM467.4 153.9L469.1 154.2 470 155.2 470.6 156.4 470.9 158.8 470.4 161.2 469.6 162.4 467.8 163.4 466.5 163 465.9 162.4 465.2 161.2 464.7 158.8 465.3 156 466.5 154.3Z"/>
<path fill="#fbe3d4" fill-rule="evenodd" d="M502.1 46.5L503.5 46 504.8 46.5 504.8 53 503.5 53.6 502.2 53.2 501 51.3 500.8 48.9ZM471.5 64.6L472.9 63.8 474.2 63.8 475.5 64.8 476.6 67 476.3 70.7 475.5 72.1 474.2 73 472.9 73 471.6 72.3 470.5 70.7 470.2 67ZM302.9 117.7L304.6 117 305.8 117.1 307.1 117.6 309.1 120.1 309.8 122.6 309.8 126.2 309.1 128.6 307.3 131 305.8 131.8 303.3 131.5 302 130.5 302 118.5ZM467 158.8L467.8 157.7 468.6 158.8 467.8 160.2Z"/>
<path fill="#fbceb7" fill-rule="evenodd" d="M503.3 48.9L503.7 48.9 504 50.1 503.5 50.8 502.9 50.1ZM472.4 67L472.9 66.4 474.5 67 474.9 68.2 474.2 70.1 472.9 70.3 472.2 69.4 472 68.2ZM303.1 120.1L304.6 119.3 305.8 119.4 307.1 120.2 308.3 122.6 308.3 126.2 307.1 128.6 305.8 129.5 304.6 129.6 303.3 128.9 302 126.9 302 122Z"/>
<path fill="#f7b596" fill-rule="evenodd" d="M303.4 122.6L304.6 121.4 305.8 121.4 306.8 122.6 307.2 125 306.9 126.2 305.8 127.4 304.6 127.5 303.3 126.2 303 123.8Z"/>
<path fill="#ee9677" fill-rule="evenodd" d="M304.3 123.8L304.6 123.4 305.8 123.5 305.8 125.3 304.6 125.4Z"/></g>
   <g id="matplotlib.axis_5">
    <g id="xtick_7">
     <g id="line2d_19">
      <g>
       <path d="M 0 0 L 0 2.43 " transform="translate(303.1 196.2)" style="fill: #333333; stroke: #333333; stroke-width: 0.8"/>
      </g>
     </g>
     <g id="text_22">
      <text style="font-size: 7.05px; font-family: 'DejaVu Sans', sans-serif; text-anchor: middle; fill: #222222" x="303.1" y="206.416898" transform="rotate(-0 303.1 206.416898)">495,600</text>
     </g>
    </g>
    <g id="xtick_8">
     <g id="line2d_20">
      <g>
       <path d="M 0 0 L 0 2.43 " transform="translate(340.2 196.2)" style="fill: #333333; stroke: #333333; stroke-width: 0.8"/>
      </g>
     </g>
     <g id="text_23">
      <text style="font-size: 7.05px; font-family: 'DejaVu Sans', sans-serif; text-anchor: middle; fill: #222222" x="340.2" y="206.416898" transform="rotate(-0 340.2 206.416898)">495,620</text>
     </g>
    </g>
    <g id="xtick_9">
     <g id="line2d_21">
      <g>
       <path d="M 0 0 L 0 2.43 " transform="translate(377.3 196.2)" style="fill: #333333; stroke: #333333; stroke-width: 0.8"/>
      </g>
     </g>
     <g id="text_24">
      <text style="font-size: 7.05px; font-family: 'DejaVu Sans', sans-serif; text-anchor: middle; fill: #222222" x="377.3" y="206.416898" transform="rotate(-0 377.3 206.416898)">495,640</text>
     </g>
    </g>
    <g id="xtick_10">
     <g id="line2d_22">
      <g>
       <path d="M 0 0 L 0 2.43 " transform="translate(414.4 196.2)" style="fill: #333333; stroke: #333333; stroke-width: 0.8"/>
      </g>
     </g>
     <g id="text_25">
      <text style="font-size: 7.05px; font-family: 'DejaVu Sans', sans-serif; text-anchor: middle; fill: #222222" x="414.4" y="206.416898" transform="rotate(-0 414.4 206.416898)">495,660</text>
     </g>
    </g>
    <g id="xtick_11">
     <g id="line2d_23">
      <g>
       <path d="M 0 0 L 0 2.43 " transform="translate(451.5 196.2)" style="fill: #333333; stroke: #333333; stroke-width: 0.8"/>
      </g>
     </g>
     <g id="text_26">
      <text style="font-size: 7.05px; font-family: 'DejaVu Sans', sans-serif; text-anchor: middle; fill: #222222" x="451.5" y="206.416898" transform="rotate(-0 451.5 206.416898)">495,680</text>
     </g>
    </g>
    <g id="xtick_12">
     <g id="line2d_24">
      <g>
       <path d="M 0 0 L 0 2.43 " transform="translate(488.6 196.2)" style="fill: #333333; stroke: #333333; stroke-width: 0.8"/>
      </g>
     </g>
     <g id="text_27">
      <text style="font-size: 7.05px; font-family: 'DejaVu Sans', sans-serif; text-anchor: middle; fill: #222222" x="488.6" y="206.416898" transform="rotate(-0 488.6 206.416898)">495,700</text>
     </g>
    </g>
    <g id="text_28">
     <text style="font-size: 7.05px; font-family: 'DejaVu Sans', sans-serif; text-anchor: middle" x="403.4" y="215.639977" transform="rotate(-0 403.4 215.639977)">Easting</text>
    </g>
   </g>
   <g id="matplotlib.axis_6">
    <g id="ytick_13">
     <g id="line2d_25">
      <g>
       <path d="M 0 0 L -2.43 0 " transform="translate(302 52.7)" style="fill: #333333; stroke: #333333; stroke-width: 0.8"/>
      </g>
     </g>
     <g id="text_29">
      <text style="font-size: 7.05px; font-family: 'DejaVu Sans', sans-serif; text-anchor: end; fill: #222222" x="297.14" y="55.378449" transform="rotate(-0 297.14 55.378449)">90</text>
     </g>
    </g>
    <g id="ytick_14">
     <g id="line2d_26">
      <g>
       <path d="M 0 0 L -2.43 0 " transform="translate(302 79.34)" style="fill: #333333; stroke: #333333; stroke-width: 0.8"/>
      </g>
     </g>
     <g id="text_30">
      <text style="font-size: 7.05px; font-family: 'DejaVu Sans', sans-serif; text-anchor: end; fill: #222222" x="297.14" y="82.018449" transform="rotate(-0 297.14 82.018449)">80</text>
     </g>
    </g>
    <g id="ytick_15">
     <g id="line2d_27">
      <g>
       <path d="M 0 0 L -2.43 0 " transform="translate(302 105.98)" style="fill: #333333; stroke: #333333; stroke-width: 0.8"/>
      </g>
     </g>
     <g id="text_31">
      <text style="font-size: 7.05px; font-family: 'DejaVu Sans', sans-serif; text-anchor: end; fill: #222222" x="297.14" y="108.658449" transform="rotate(-0 297.14 108.658449)">70</text>
     </g>
    </g>
    <g id="ytick_16">
     <g id="line2d_28">
      <g>
       <path d="M 0 0 L -2.43 0 " transform="translate(302 132.62)" style="fill: #333333; stroke: #333333; stroke-width: 0.8"/>
      </g>
     </g>
     <g id="text_32">
      <text style="font-size: 7.05px; font-family: 'DejaVu Sans', sans-serif; text-anchor: end; fill: #222222" x="297.14" y="135.298449" transform="rotate(-0 297.14 135.298449)">60</text>
     </g>
    </g>
    <g id="ytick_17">
     <g id="line2d_29">
      <g>
       <path d="M 0 0 L -2.43 0 " transform="translate(302 159.26)" style="fill: #333333; stroke: #333333; stroke-width: 0.8"/>
      </g>
     </g>
     <g id="text_33">
      <text style="font-size: 7.05px; font-family: 'DejaVu Sans', sans-serif; text-anchor: end; fill: #222222" x="297.14" y="161.938449" transform="rotate(-0 297.14 161.938449)">50</text>
     </g>
    </g>
    <g id="ytick_18">
     <g id="line2d_30">
      <g>
       <path d="M 0 0 L -2.43 0 " transform="translate(302 185.9)" style="fill: #333333; stroke: #333333; stroke-width: 0.8"/>
      </g>
     </g>
     <g id="text_34">
      <text style="font-size: 7.05px; font-family: 'DejaVu Sans', sans-serif; text-anchor: end; fill: #222222" x="297.14" y="188.578449" transform="rotate(-0 297.14 188.578449)">40</text>
     </g>
    </g>
   </g>
   <g id="patch_10">
    <path d="M 302 196.2 L 302 28.4 " style="fill: none; stroke: #333333; stroke-width: 0.7; stroke-linejoin: miter; stroke-linecap: square"/>
   </g>
   <g id="patch_11">
    <path d="M 504.8 196.2 L 504.8 28.4 " style="fill: none; stroke: #333333; stroke-width: 0.7; stroke-linejoin: miter; stroke-linecap: square"/>
   </g>
   <g id="patch_12">
    <path d="M 302 196.2 L 504.8 196.2 " style="fill: none; stroke: #333333; stroke-width: 0.7; stroke-linejoin: miter; stroke-linecap: square"/>
   </g>
   <g id="patch_13">
    <path d="M 302 28.4 L 504.8 28.4 " style="fill: none; stroke: #333333; stroke-width: 0.7; stroke-linejoin: miter; stroke-linecap: square"/>
   </g>
   <g id="PathCollection_2">
    <g clip-path="url(#pcc8509c935)">
     <circle cx="312.8" cy="28.6" r="1.80" style="fill: #404040"/>
     <circle cx="338.4" cy="31.4" r="1.80" style="fill: #404040"/>
     <circle cx="366.2" cy="31.4" r="1.80" style="fill: #404040"/>
     <circle cx="395.8" cy="28.6" r="1.80" style="fill: #404040"/>
     <circle cx="421.4" cy="28.6" r="1.80" style="fill: #404040"/>
     <circle cx="449.4" cy="31.4" r="1.80" style="fill: #404040"/>
     <circle cx="477" cy="31.4" r="1.80" style="fill: #404040"/>
     <circle cx="503.8" cy="30.6" r="1.80" style="fill: #404040"/>
     <circle cx="310.8" cy="47" r="1.80" style="fill: #404040"/>
     <circle cx="338.4" cy="47" r="1.80" style="fill: #404040"/>
     <circle cx="364.4" cy="49.8" r="1.80" style="fill: #404040"/>
     <circle cx="393.8" cy="49.8" r="1.80" style="fill: #404040"/>
     <circle cx="419.8" cy="47" r="1.80" style="fill: #404040"/>
     <circle cx="447.6" cy="49.8" r="1.80" style="fill: #404040"/>
     <circle cx="475.2" cy="49.8" r="1.80" style="fill: #404040"/>
     <circle cx="503.4" cy="49.8" r="1.80" style="fill: #404040"/>
     <circle cx="308.8" cy="68.4" r="1.80" style="fill: #404040"/>
     <circle cx="336.8" cy="68.4" r="1.80" style="fill: #404040"/>
     <circle cx="364.4" cy="68.4" r="1.80" style="fill: #404040"/>
     <circle cx="390.2" cy="68.4" r="1.80" style="fill: #404040"/>
     <circle cx="419.8" cy="68.4" r="1.80" style="fill: #404040"/>
     <circle cx="445.8" cy="66" r="1.80" style="fill: #404040"/>
     <circle cx="473.4" cy="68.4" r="1.80" style="fill: #404040"/>
     <circle cx="503.2" cy="68.4" r="1.80" style="fill: #404040"/>
     <circle cx="307.2" cy="87.2" r="1.80" style="fill: #404040"/>
     <circle cx="335" cy="87.2" r="1.80" style="fill: #404040"/>
     <circle cx="362.6" cy="87.2" r="1.80" style="fill: #404040"/>
     <circle cx="390.2" cy="87.2" r="1.80" style="fill: #404040"/>
     <circle cx="417.8" cy="87.2" r="1.80" style="fill: #404040"/>
     <circle cx="445.8" cy="87.2" r="1.80" style="fill: #404040"/>
     <circle cx="473.4" cy="87.2" r="1.80" style="fill: #404040"/>
     <circle cx="501.2" cy="87.2" r="1.80" style="fill: #404040"/>
     <circle cx="307.2" cy="105.8" r="1.80" style="fill: #404040"/>
     <circle cx="335" cy="103" r="1.80" style="fill: #404040"/>
     <circle cx="360.6" cy="105.8" r="1.80" style="fill: #404040"/>
     <circle cx="388.2" cy="105.8" r="1.80" style="fill: #404040"/>
     <circle cx="415.8" cy="105.6" r="1.80" style="fill: #404040"/>
     <circle cx="443.8" cy="105.6" r="1.80" style="fill: #404040"/>
     <circle cx="471.4" cy="105.6" r="1.80" style="fill: #404040"/>
     <circle cx="499.2" cy="105.6" r="1.80" style="fill: #404040"/>
     <circle cx="305.2" cy="124.4" r="1.80" style="fill: #404040"/>
     <circle cx="332.8" cy="121.6" r="1.80" style="fill: #404040"/>
     <circle cx="360.4" cy="121.6" r="1.80" style="fill: #404040"/>
     <circle cx="388.2" cy="124.4" r="1.80" style="fill: #404040"/>
     <circle cx="415.8" cy="124.4" r="1.80" style="fill: #404040"/>
     <circle cx="443.8" cy="121.6" r="1.80" style="fill: #404040"/>
     <circle cx="471.4" cy="124.4" r="1.80" style="fill: #404040"/>
     <circle cx="497.4" cy="124.4" r="1.80" style="fill: #404040"/>
     <circle cx="303.2" cy="140.6" r="1.80" style="fill: #404040"/>
     <circle cx="331.2" cy="140.6" r="1.80" style="fill: #404040"/>
     <circle cx="358.8" cy="140.6" r="1.80" style="fill: #404040"/>
     <circle cx="386.4" cy="140.6" r="1.80" style="fill: #404040"/>
     <circle cx="414.2" cy="140.6" r="1.80" style="fill: #404040"/>
     <circle cx="441.8" cy="140.6" r="1.80" style="fill: #404040"/>
     <circle cx="469.8" cy="140.6" r="1.80" style="fill: #404040"/>
     <circle cx="497.4" cy="140.6" r="1.80" style="fill: #404040"/>
     <circle cx="303.2" cy="159" r="1.80" style="fill: #404040"/>
     <circle cx="331.2" cy="159" r="1.80" style="fill: #404040"/>
     <circle cx="358.8" cy="159" r="1.80" style="fill: #404040"/>
     <circle cx="386.4" cy="161.8" r="1.80" style="fill: #404040"/>
     <circle cx="412.4" cy="159" r="1.80" style="fill: #404040"/>
     <circle cx="440.2" cy="159" r="1.80" style="fill: #404040"/>
     <circle cx="467.8" cy="159" r="1.80" style="fill: #404040"/>
     <circle cx="495.4" cy="159" r="1.80" style="fill: #404040"/>
     <circle cx="302.2" cy="180.5" r="1.80" style="fill: #404040"/>
     <circle cx="329.4" cy="178.2" r="1.80" style="fill: #404040"/>
     <circle cx="357" cy="178" r="1.80" style="fill: #404040"/>
     <circle cx="384.6" cy="178" r="1.80" style="fill: #404040"/>
     <circle cx="412.4" cy="178" r="1.80" style="fill: #404040"/>
     <circle cx="440.2" cy="178" r="1.80" style="fill: #404040"/>
     <circle cx="466.2" cy="178" r="1.80" style="fill: #404040"/>
     <circle cx="493.8" cy="178" r="1.80" style="fill: #404040"/>
     <circle cx="329.4" cy="196" r="1.80" style="fill: #404040"/>
     <circle cx="355.2" cy="196" r="1.80" style="fill: #404040"/>
     <circle cx="382.8" cy="196" r="1.80" style="fill: #404040"/>
     <circle cx="410.4" cy="196" r="1.80" style="fill: #404040"/>
     <circle cx="438.2" cy="196" r="1.80" style="fill: #404040"/>
     <circle cx="465.8" cy="193" r="1.80" style="fill: #404040"/>
     <circle cx="493.8" cy="196" r="1.80" style="fill: #404040"/>
    </g>
   </g>
   <g id="text_35">
    <text style="font-size: 8.55px; font-family: 'DejaVu Sans', sans-serif; text-anchor: middle" x="403.4" y="25.3" transform="rotate(-0 403.4 25.3)">Predicted values - Depth 0 – 10</text>
   </g>
  </g>
  <g id="axes_4">
   <g id="patch_14">
    <path d="M 517.7 196.2 L 526.6 196.2 L 526.6 28.4 L 517.7 28.4 z " style="fill: #ffffff"/>
   </g>
   <g id="QuadMesh_2">
    <path d="M 517.7 196.2 L 526.6 196.2 L 526.6 187.81 L 517.7 187.81 L 517.7 196.2 " clip-path="url(#paae025ffdf)" style="fill: #2267ac"/>
    <path d="M 517.7 187.81 L 526.6 187.81 L 526.6 179.42 L 517.7 179.42 L 517.7 187.81 " clip-path="url(#paae025ffdf)" style="fill: #2f79b5"/>
    <path d="M 517.7 179.42 L 526.6 179.42 L 526.6 171.03 L 517.7 171.03 L 517.7 179.42 " clip-path="url(#paae025ffdf)" style="fill: #3e8cbf"/>
    <path d="M 517.7 171.03 L 526.6 171.03 L 526.6 162.64 L 517.7 162.64 L 517.7 171.03 " clip-path="url(#paae025ffdf)" style="fill: #59a1ca"/>
    <path d="M 517.7 162.64 L 526.6 162.64 L 526.6 154.25 L 517.7 154.25 L 517.7 162.64 " clip-path="url(#paae025ffdf)" style="fill: #7bb6d6"/>
    <path d="M 517.7 154.25 L 526.6 154.25 L 526.6 145.86 L 517.7 145.86 L 517.7 154.25 " clip-path="url(#paae025ffdf)" style="fill: #9bc9e0"/>
    <path d="M 517.7 145.86 L 526.6 145.86 L 526.6 137.47 L 517.7 137.47 L 517.7 145.86 " clip-path="url(#paae025ffdf)" style="fill: #b6d7e8"/>
    <path d="M 517.7 137.47 L 526.6 137.47 L 526.6 129.08 L 517.7 129.08 L 517.7 137.47 " clip-path="url(#paae025ffdf)" style="fill: #d1e5f0"/>
    <path d="M 517.7 129.08 L 526.6 129.08 L 526.6 120.69 L 517.7 120.69 L 517.7 129.08 " clip-path="url(#paae025ffdf)" style="fill: #e0ecf3"/>
    <path d="M 517.7 120.69 L 526.6 120.69 L 526.6 112.3 L 517.7 112.3 L 517.7 120.69 " clip-path="url(#paae025ffdf)" style="fill: #f0f4f6"/>
    <path d="M 517.7 112.3 L 526.6 112.3 L 526.6 103.91 L 517.7 103.91 L 517.7 112.3 " clip-path="url(#paae025ffdf)" style="fill: #f9f0eb"/>
    <path d="M 517.7 103.91 L 526.6 103.91 L 526.6 95.52 L 517.7 95.52 L 517.7 103.91 " clip-path="url(#paae025ffdf)" style="fill: #fbe4d6"/>
    <path d="M 517.7 95.52 L 526.6 95.52 L 526.6 87.13 L 517.7 87.13 L 517.7 95.52 " clip-path="url(#paae025ffdf)" style="fill: #fcd5bf"/>
    <path d="M 517.7 87.13 L 526.6 87.13 L 526.6 78.74 L 517.7 78.74 L 517.7 87.13 " clip-path="url(#paae025ffdf)" style="fill: #f8bda1"/>
    <path d="M 517.7 78.74 L 526.6 78.74 L 526.6 70.35 L 517.7 70.35 L 517.7 78.74 " clip-path="url(#paae025ffdf)" style="fill: #f4a683"/>
    <path d="M 517.7 70.35 L 526.6 70.35 L 526.6 61.96 L 517.7 61.96 L 517.7 70.35 " clip-path="url(#paae025ffdf)" style="fill: #e98b6e"/>
    <path d="M 517.7 61.96 L 526.6 61.96 L 526.6 53.57 L 517.7 53.57 L 517.7 61.96 " clip-path="url(#paae025ffdf)" style="fill: #dc6e57"/>
    <path d="M 517.7 53.57 L 526.6 53.57 L 526.6 45.18 L 517.7 45.18 L 517.7 53.57 " clip-path="url(#paae025ffdf)" style="fill: #ce4f45"/>
    <path d="M 517.7 45.18 L 526.6 45.18 L 526.6 36.79 L 517.7 36.79 L 517.7 45.18 " clip-path="url(#paae025ffdf)" style="fill: #be3036"/>
    <path d="M 517.7 36.79 L 526.6 36.79 L 526.6 28.4 L 517.7 28.4 L 517.7 36.79 " clip-path="url(#paae025ffdf)" style="fill: #ab162a"/>
   </g>
   <g id="matplotlib.axis_7"/>
   <g id="matplotlib.axis_8">
    <g id="ytick_19">
     <g id="line2d_31">
      <g>
       <path d="M 0 0 L 2.43 0 " transform="translate(526.6 196.2)" style="fill: #333333; stroke: #333333; stroke-width: 0.8"/>
      </g>
     </g>
     <g id="text_36">
      <text style="font-size: 4.53px; font-family: 'DejaVu Sans', sans-serif; text-anchor: start; fill: #222222" x="531.46" y="197.921046" transform="rotate(-0 531.46 197.921046)">8000</text>
     </g>
    </g>
    <g id="ytick_20">
     <g id="line2d_32">
      <g>
       <path d="M 0 0 L 2.43 0 " transform="translate(526.6 162.64)" style="fill: #333333; stroke: #333333; stroke-width: 0.8"/>
      </g>
     </g>
     <g id="text_37">
      <text style="font-size: 4.53px; font-family: 'DejaVu Sans', sans-serif; text-anchor: start; fill: #222222" x="531.46" y="164.361046" transform="rotate(-0 531.46 164.361046)">9900</text>
     </g>
    </g>
    <g id="ytick_21">
     <g id="line2d_33">
      <g>
       <path d="M 0 0 L 2.43 0 " transform="translate(526.6 129.08)" style="fill: #333333; stroke: #333333; stroke-width: 0.8"/>
      </g>
     </g>
     <g id="text_38">
      <text style="font-size: 4.53px; font-family: 'DejaVu Sans', sans-serif; text-anchor: start; fill: #222222" x="531.46" y="130.801046" transform="rotate(-0 531.46 130.801046)">11,800</text>
     </g>
    </g>
    <g id="ytick_22">
     <g id="line2d_34">
      <g>
       <path d="M 0 0 L 2.43 0 " transform="translate(526.6 95.52)" style="fill: #333333; stroke: #333333; stroke-width: 0.8"/>
      </g>
     </g>
     <g id="text_39">
      <text style="font-size: 4.53px; font-family: 'DejaVu Sans', sans-serif; text-anchor: start; fill: #222222" x="531.46" y="97.241046" transform="rotate(-0 531.46 97.241046)">13,700</text>
     </g>
    </g>
    <g id="ytick_23">
     <g id="line2d_35">
      <g>
       <path d="M 0 0 L 2.43 0 " transform="translate(526.6 61.96)" style="fill: #333333; stroke: #333333; stroke-width: 0.8"/>
      </g>
     </g>
     <g id="text_40">
      <text style="font-size: 4.53px; font-family: 'DejaVu Sans', sans-serif; text-anchor: start; fill: #222222" x="531.46" y="63.681046" transform="rotate(-0 531.46 63.681046)">15,600</text>
     </g>
    </g>
    <g id="ytick_24">
     <g id="line2d_36">
      <g>
       <path d="M 0 0 L 2.43 0 " transform="translate(526.6 28.4)" style="fill: #333333; stroke: #333333; stroke-width: 0.8"/>
      </g>
     </g>
     <g id="text_41">
      <text style="font-size: 4.53px; font-family: 'DejaVu Sans', sans-serif; text-anchor: start; fill: #222222" x="531.46" y="30.121046" transform="rotate(-0 531.46 30.121046)">17,500</text>
     </g>
    </g>
   </g>
   <g id="LineCollection_2"/>
   <g id="patch_15">
    <path d="M 517.7 196.2 L 522.15 196.2 L 526.6 196.2 L 526.6 28.4 L 522.15 28.4 L 517.7 28.4 L 517.7 196.2 z " style="fill: none; stroke: #333333; stroke-width: 0.7; stroke-linejoin: miter; stroke-linecap: square"/>
   </g>
  </g>
  <g id="axes_5">
   <g id="patch_16">
    <path d="M 31.2 401.25 L 234 401.25 L 234 233.45 L 31.2 233.45 z " style="fill: #ffffff"/>
   </g>
   <g id="field2"><rect x="31.2" y="233.5" width="202.8" height="167.8" fill="#2b73b3"/>
<path fill="#3c8abe" fill-rule="evenodd" d="M31.2 233.5L234 233.5 234 401.2 113.5 401.2 112.8 398.9 111.6 398.8 110.7 401.2 31.2 401.2ZM61.8 325.3L61.3 326.4 61.8 327.9 62.7 326.4ZM116.7 307.4L115.5 309.5 115.4 311.9 116.7 314.5 117.9 314.8 119.4 313.1 119.6 309.5 119.2 308.3 117.9 307.1Z"/>
<path fill="#5ca3cb" fill-rule="evenodd" d="M31.2 233.5L234 233.5 234 401.2 117.8 401.2 117.6 397.6 116.5 394 114.9 391.6 114.1 390.9 112.8 390.6 111.6 391 110.3 392.1 109 393.8 107.6 397.6 107.2 401.2 31.2 401.2ZM61.8 321.1L60.1 322.8 59.2 326.4 59.9 330 60.5 331.1 61.8 331.9 63.1 331.7 64.4 330.2 65.2 326.4 64.4 322.7 63.1 321.3ZM116.7 301.9L114.8 303.5 113.5 305.9 112.9 308.3 112.6 311.9 112.9 314.3 114.1 317.6 115.4 319.4 116.7 320.3 117.9 320.6 119.2 320.3 120.5 319.4 121.8 317.5 122.8 314.3 123 309.5 122.2 305.9 120.5 302.9 119.2 301.9 117.9 301.6ZM140.9 361L139.6 362.6 139.1 365 139.6 368.3 140.9 370 142.2 369.5 143.1 367.4 143.5 365 143.1 362.6 142.4 361.4ZM194.5 396.7L193.9 397.6 193.9 398.8 194.5 400.1 195.7 399.9 196.1 398.8 195.7 397Z"/>
<path fill="#81bad8" fill-rule="evenodd" d="M31.2 233.5L234 233.5 234 401.2 199.5 401.2 199.4 397.6 198.6 395.2 197 393.3 195.7 392.7 194.5 392.6 193.2 393 191.3 395.2 190.5 397.6 190.5 401.2 124 401.2 123.3 392.8 121.2 385.6 117.9 379.9 115.8 378.3 114.1 378 112.8 378.4 110.3 380.6 106.3 386.8 103.6 394 102.7 401.2 31.2 401.2ZM61.8 315.1L59.3 317.6 58 320.2 57.2 322.8 56.8 326.4 57.1 330 58.2 333.6 59.9 336.1 61.8 337.2 63.1 337 64.4 336.3 66.4 333.6 67.7 330 68.1 326.4 67.6 321.6 65.7 316.7 64.4 315.2 63.1 314.8ZM119.2 292.4L117.9 292.7 115.4 294.5 112.8 297.7 110.4 303.5 109.4 309.5 109.7 315.5 111.4 321.6 114.1 326.1 116.7 328.7 117.9 329.2 121.8 327.2 124.4 324 126.4 319.2 127.5 311.9 126.8 305.9 125 299.8 121.8 294.3ZM144.7 297.9L143.4 298.7 141.1 302.3 140.1 304.7 139.5 308.3 139.6 311.9 140.6 315.5 142.2 317.8 143.4 318.4 144.7 318.2 146.3 316.7 147.5 314.3 148.3 310.7 148.2 307.1 147.3 302.7 146 299ZM222.5 380.3L221.6 381.9 221.6 384.3 222.5 385.8 223.8 385.8 224.7 384.3 224.7 381.9 223.8 380.3ZM140.9 347.9L137.1 352.3 134.5 357.8 132.8 365 132.3 373.5 132.9 380.7 134.6 386.8 137.1 390.5 138.7 391.6 140.9 392.1 142.2 391.8 144 390.4 145.7 388 146.6 385.6 147.8 379.5 148.2 369.9 147.8 362.6 146 355.2 143.4 347.6 142.2 347Z"/>
<path fill="#a5cee3" fill-rule="evenodd" d="M31.2 233.5L234 233.5 234 401.2 204.8 401.2 204 396.4 202.3 392.8 200.8 391.2 198.3 389.5 194.5 388.6 190.6 389.5 187.9 391.6 186.1 395.2 185.1 401.2 153.3 401.2 154.4 386.8 154.1 374.7 152.3 357.8 148.7 339.7 148.3 336.1 148.7 331.2 151.4 316.7 152.1 310.7 151.9 298.6 150.7 290.2 149.4 286.6 147.3 283.6 146 282.7 143.4 282.4 141.7 282.9 139.6 284.3 136.4 287.8 133.2 292 132 292.3 130.7 291.3 130.1 290.2 128.3 285.4 126.7 275.7 125.2 270.9 122.8 267.3 120.5 265.8 119.2 265.7 117.9 266.1 116.4 267.3 114.8 269.7 114 272.1 112.5 281.7 108.7 292.6 106.7 299.8 105.7 307.1 105.6 313.1 106.2 319.2 107.2 324 108.9 328.8 110.9 332.4 114.1 336 116.7 337.7 120.5 339.3 124.3 340.3 125.6 340.9 126 343.3 125.6 346.9 124.3 351 123 353.3 120.9 355.4 112.8 360.2 109.5 363.8 103.9 374 96.2 391.7 95 393.9 93.7 395.1 92.4 395.3 87.3 393.6 84.8 394 83.5 394.8 82.2 396.4 81.1 398.8 80.7 401.2 31.2 401.2ZM63.1 304.4L60.5 306.8 56.7 313.8 55 319.2 54.1 325.2 54.4 331.2 55.4 336.2 58 342 60.5 345.4 64.4 343.9 66.4 342.1 68.2 339.7 70.6 333.6 71.5 327.6 71.1 319.2 69 310.7 67.4 307.1 65.6 304.7 64.4 304.1ZM222.5 371.5L220 373.7 218.1 377.1 217.1 380.7 216.9 385.6 217.5 389.2 218.7 391.9 220 393.5 221.2 394.3 223.8 394.9 226.3 394.4 227.6 393.4 228.9 391.7 230.2 388 230.6 383.1 229.8 378.3 227.6 373.6 225.1 371.4 223.8 371.2Z"/>
<path fill="#c2ddec" fill-rule="evenodd" d="M31.2 233.5L104.3 233.5 103.1 241.9 101.9 245.5 100.7 247.9 97.6 251.6 93.7 254.6 89.9 256.1 87.3 257.9 85 261.2 84 266 84.4 270.9 86.6 275.7 90 279.3 96.7 284.2 99.1 287.8 100.8 292.6 101.3 297.4 101.6 316.7 102.7 332.4 102.5 340.9 101.9 345.7 99.1 354.2 97.2 357.8 95 361 92.4 363.2 87.3 365 84.8 367.1 79.7 370.1 78.4 371.2 77.1 373.1 73.8 380.7 72.4 385.6 71.7 391.6 71.2 401.2 31.2 401.2 31.2 376 33.8 376.6 36.3 375.3 38.1 372.3 38.6 368.7 38.1 365 37.1 362.6 36.1 361.4 33.8 360 31.2 360.1ZM63.1 285.1L61.4 286.6 59.9 289 53.9 308.3 52 316.7 51.5 326.4 52.1 338.5 52.9 342.5 54.2 346.1 55.9 349.3 58 352 60.5 353.5 63.1 353.9 65.6 353.3 68.2 351.8 70.1 349.3 71.8 345.7 73.3 340.9 74.5 334.9 75.5 322.8 73.6 295 72.9 291.4 70.9 287.8 68.2 285.5 65.6 284.7ZM152.1 233.5L234 233.5 234 368 230.3 363.8 226.3 361 223.8 360.6 221.2 361.9 218.7 364.1 216.1 367.4 214 372.3 210.3 383.1 208.5 385.5 207.2 386.2 204.7 386.5 198.3 385.2 190.6 384.3 184.3 384.3 179.2 385.2 177.9 384.5 172.8 376.7 164.7 368.7 162.4 365 160.7 361.4 158.7 354 155.8 337.3 155.4 330 155.8 292.6 153.1 274.5 150.1 261.2 151 251.6 150.9 243.1ZM200.8 308.2L199.6 308.9 199 310.7 199.6 312.7 200.8 313.5 202.1 311.9 202.2 310.7 202 309.5Z"/>
<path fill="#dbeaf2" fill-rule="evenodd" d="M160.9 233.5L234 233.5 234 350.5 228.9 351.5 220 351.4 214.9 353 213.2 356.6 210.3 368.7 208.5 374.7 206.2 378.3 203.4 380.3 199.6 381 194.5 380.7 189.4 378.7 185.7 375.9 183.4 372.3 178.7 359 177.9 357.8 171.5 353.8 169 351 167.7 349 165.1 343.5 160.6 331.2 158.9 322.8 158.2 311.9 158.9 299.8 161.1 284.2 160.1 262.4ZM199.6 302L197 303.4 195.4 305.9 194.5 309.5 194.4 313.1 195 316.7 196.7 320.4 198.3 321.9 200.8 322.6 203.4 322 204.7 320.9 205.8 319.2 207.1 315.5 207.4 311.9 206.9 308.3 205.2 304.7 204.2 303.5 202.3 302.3ZM31.2 279.3L40.1 285.9 44 290 46.6 295 48.3 302.3 49.2 328.8 49 339.7 48.5 346.9 47.4 350.5 45.9 353 44 354.7 40.1 356 31.2 356ZM91.1 295L94.1 302.3 95.8 309.5 96.8 325.2 96.7 333.6 95.5 343.3 93.7 349.3 91.1 353.1 89.9 354.1 87.3 354.8 84.8 354.3 83.5 353.5 81.9 351.8 80.5 349.3 79.1 344.5 79 337.3 80.5 320.4 82.6 307.1 84.4 302.3 86 299.4 88.6 296.6ZM55.2 395.2L56.7 394.2 58 394.1 59.3 394.6 60.5 395.9 61.4 397.6 62 401.2 53.1 401.2 53.7 397.6Z"/>
<path fill="#edf2f5" fill-rule="evenodd" d="M170.7 233.5L234 233.5 234 297.8 230.2 293 223.8 298.6 219.3 304.7 218.7 305.2 217.4 305.3 216.1 304.6 209.8 298.6 204.7 296.1 200.8 295.3 197 295.2 194.5 295.9 191.9 297.3 190.6 299.2 190 302.3 188.8 321.6 188 326.4 186.9 330 185 333.6 181.7 337.6 179.2 339.6 175.3 340.8 172.8 340.6 170.2 339.2 167.7 336.6 165.1 332.7 163.3 328.8 161.8 324 160.4 314.3 160.6 305.9 162 297.4 163.8 291.7 168.3 281.7 169 279.3 168.6 263.6ZM31.2 299.8L33.8 299.6 37.6 300.9 40.1 303.1 42.2 305.9 44.1 309.5 45.4 313.1 46.5 319.1 47 325.2 47 332.4 46.6 338.5 45.9 342.1 44.5 345.7 42.7 348.5 40.1 350.7 37.6 351.9 33.8 352.6 31.2 352.6ZM88.3 321.6L88.6 321.2 89.9 321.3 91.1 323.2 91.9 327.6 90.2 336.1 89.9 345.7 88.6 347.9 87.3 348 85.8 345.7 85.5 342.1 86.3 336.1 86.3 326.4 87.3 322.9ZM192.7 346.9L194.5 346.7 195.7 347.1 202.1 350 204.7 352.9 206.1 356.6 206.8 362.6 206.5 366.2 205.8 369.9 204.8 372.3 203.4 374.3 201.3 375.9 199.6 376.6 195.7 376.8 191.9 375 189.3 372.3 187.2 367.4 186.6 360.2 187.5 354.2 189.7 349.3 190.7 348.1Z"/>
<path fill="#f9f0eb" fill-rule="evenodd" d="M187.6 233.5L234 233.5 234 283.5 222.5 280.5 220 280.3 217.4 281.7 212.3 286.9 208.5 288.3 204.7 288.6 202.1 288.4 198.3 287.3 195.7 286.1 193.2 284.2 191.4 281.7 190.5 279.3 189.1 274.5 188.3 269.7 187.9 263.6 188.3 251.6 187.1 240.7ZM173.7 286.6L176.6 286.1 179.2 287 181.3 289 183 291.4 184.3 293.9 185.3 297.4 186 302.3 186.3 308.3 185.8 318 184.9 322.8 183.6 326.4 181.5 330 179.2 332.7 176.6 334.5 174.1 335.1 171.5 334.5 170.2 333.6 167.7 330.9 165.7 327.6 163.2 320.4 162.3 311.9 163 303.5 165.3 296.2 167.2 292.6 169 290.2 171.5 287.8ZM31.2 307.1L33.8 306.2 36.3 306.5 38.8 308.3 40.1 309.9 42.5 314.3 43.8 318 44.7 322.8 45.1 327.6 45 332.4 44.5 337.3 43.4 340.9 42.3 343.3 40.1 346.2 37.7 348.1 35 349.3 32.5 349.6 31.2 349.4ZM195.3 354.2L197 354 198.3 354.4 200.8 356.5 202.1 359 202.9 362.6 202.8 366.2 201.6 369.9 199.6 372.1 197 372.9 194.8 372.3 193.2 371 191.7 368.7 190.7 365 190.8 361.4 191.7 357.8 193.2 355.5Z"/>
<path fill="#fbe3d4" fill-rule="evenodd" d="M217.9 233.5L234 233.5 234 264.9 232.7 265.5 231.4 264.5 227.6 258.4 220.4 243.1 218.8 238.3ZM204.6 255.2L205.9 256.1 207.2 257.9 208.5 261.2 209.3 266 209.3 270.9 208.6 274.5 207.1 278.1 204.7 280.4 202.1 280.7 199.9 279.3 198.4 276.9 197.5 273.3 197.5 269.7 198.1 266 199.6 262.1 202.1 258ZM173 292.6L175.3 292.3 176.6 292.7 179.2 294.7 180.4 296.3 181.7 298.7 182.9 302.3 183.9 309.5 183.2 318 181.2 324 177.9 328.9 175.3 330.7 174.1 331.1 171.5 330.5 170.2 329.5 167.2 325.2 165 319.2 164.1 311.9 164.5 305.9 166.4 299.7 169 295.5 171.5 293.3ZM31.6 311.9L33.8 311.1 36.3 311 38.9 313.8 40.6 316.7 42 320.4 42.9 324 43.3 328.8 42.6 336.1 40.7 340.9 37.6 344.6 35 346.2 32.5 346.9 31.2 346.4 31.2 312.1ZM196.2 359L197.5 359 199 360.2 199.6 361.4 200.1 363.8 199.8 366.2 199.3 367.4 198.3 368.6 197 369.1 195.7 368.7 194.6 367.4 193.8 365 194.1 361.4 194.7 360.2Z"/>
<path fill="#fbceb7" fill-rule="evenodd" d="M230 233.5L234 233.5 234 240.6 232.7 240.8 231.1 239.5 230.1 237.1ZM171.4 297.4L172.8 296.8 175.3 296.8 177.9 298.6 179.6 301.1 180.6 303.5 181.7 309.5 181.4 315.5 179.5 321.6 176.6 325.9 174.3 327.6 172.8 327.9 170.2 325.6 167.7 321.2 166.3 316.7 165.7 311.9 166.1 307.1 167 303.5 169 299.7ZM33.3 315.5L35 315.4 36.3 315.9 38.9 318.8 40.9 324 41.5 330 40.9 334.9 38.9 339.6 36.3 342.2 33.8 343.4 32.5 343.5 31.2 342.8 31.2 316.5ZM196.2 363.8L197 362.7 197.8 363.8 197 365.4Z"/>
<path fill="#f7b596" fill-rule="evenodd" d="M171 301.1L172.8 300.1 174.1 300 176.6 301.3 178.7 304.7 179.6 308.3 179.7 313.1 178.6 318 176.6 321.6 174.1 323.8 172.8 323.9 170.2 321.5 168.4 318 167.5 314.3 167.2 310.7 167.7 307.1 169 303.6ZM33.2 319.2L35 319.1 36.3 319.7 37.6 321.1 39 324 39.9 328.8 39.7 332.4 38.5 336.1 36.3 339 33.8 340.1 32.5 339.9 31.2 339 31.2 320.4Z"/>
<path fill="#ee9677" fill-rule="evenodd" d="M171.5 303.5L172.8 302.8 174.1 302.8 175.3 303.5 177.1 305.9 178 309.5 178 313.1 177.4 315.5 176.3 318 174.1 319.9 172.8 320 171.5 319.2 170.5 318 169.3 315.5 168.8 313.1 168.7 309.5 169.2 307.1 170.2 304.9ZM32.3 322.8L33.8 322 35 322.1 36.3 323 37.6 325 38.3 327.6 38.3 331.2 37.6 334 36.3 336 35 336.9 33.8 337.1 32.5 336.6 31.2 335.3 31.2 324.1Z"/>
<path fill="#df765e" fill-rule="evenodd" d="M171.7 305.9L172.8 305.2 174.1 305.4 175.7 307.1 176.4 309.5 176.5 311.9 176 314.3 175.3 315.6 174.1 316.8 172.8 316.9 171.5 316.1 170.1 313.1 170 309.5 170.8 307.1ZM33 325.2L33.8 324.6 35 324.8 36.3 326.1 36.9 327.6 36.9 331.2 36.3 332.9 35 334.3 33.8 334.4 32.6 333.6 31.5 331.2 31.6 327.6Z"/>
<path fill="#cf5246" fill-rule="evenodd" d="M171.8 308.3L172.8 307.4 174.1 307.7 175 309.5 175.1 311.9 174.1 314 172.8 314.4 171.5 313 171.1 310.7ZM33.3 327.6L33.8 327 35 327.1 35.3 327.6 35.8 330 35 331.9 33.8 332 33.2 331.2 32.8 328.8Z"/>
<path fill="#bd2d35" fill-rule="evenodd" d="M172.6 309.5L173.1 309.5 173.9 310.7 172.8 312.2 172.2 310.7Z"/></g>
   <g id="matplotlib.axis_9">
    <g id="xtick_13">
     <g id="line2d_37">
      <g>
       <path d="M 0 0 L 0 2.43 " transform="translate(32.3 401.25)" style="fill: #333333; stroke: #333333; stroke-width: 0.8"/>
      </g>
     </g>
     <g id="text_42">
      <text style="font-size: 7.05px; font-family: 'DejaVu Sans', sans-serif; text-anchor: middle; fill: #222222" x="32.3" y="411.466898" transform="rotate(-0 32.3 411.466898)">495,600</text>
     </g>
    </g>
    <g id="xtick_14">
     <g id="line2d_38">
      <g>
       <path d="M 0 0 L 0 2.43 " transform="translate(69.4 401.25)" style="fill: #333333; stroke: #333333; stroke-width: 0.8"/>
      </g>
     </g>
     <g id="text_43">
      <text style="font-size: 7.05px; font-family: 'DejaVu Sans', sans-serif; text-anchor: middle; fill: #222222" x="69.4" y="411.466898" transform="rotate(-0 69.4 411.466898)">495,620</text>
     </g>
    </g>
    <g id="xtick_15">
     <g id="line2d_39">
      <g>
       <path d="M 0 0 L 0 2.43 " transform="translate(106.5 401.25)" style="fill: #333333; stroke: #333333; stroke-width: 0.8"/>
      </g>
     </g>
     <g id="text_44">
      <text style="font-size: 7.05px; font-family: 'DejaVu Sans', sans-serif; text-anchor: middle; fill: #222222" x="106.5" y="411.466898" transform="rotate(-0 106.5 411.466898)">495,640</text>
     </g>
    </g>
    <g id="xtick_16">
     <g id="line2d_40">
      <g>
       <path d="M 0 0 L 0 2.43 " transform="translate(143.6 401.25)" style="fill: #333333; stroke: #333333; stroke-width: 0.8"/>
      </g>
     </g>
     <g id="text_45">
      <text style="font-size: 7.05px; font-family: 'DejaVu Sans', sans-serif; text-anchor: middle; fill: #222222" x="143.6" y="411.466898" transform="rotate(-0 143.6 411.466898)">495,660</text>
     </g>
    </g>
    <g id="xtick_17">
     <g id="line2d_41">
      <g>
       <path d="M 0 0 L 0 2.43 " transform="translate(180.7 401.25)" style="fill: #333333; stroke: #333333; stroke-width: 0.8"/>
      </g>
     </g>
     <g id="text_46">
      <text style="font-size: 7.05px; font-family: 'DejaVu Sans', sans-serif; text-anchor: middle; fill: #222222" x="180.7" y="411.466898" transform="rotate(-0 180.7 411.466898)">495,680</text>
     </g>
    </g>
    <g id="xtick_18">
     <g id="line2d_42">
      <g>
       <path d="M 0 0 L 0 2.43 " transform="translate(217.8 401.25)" style="fill: #333333; stroke: #333333; stroke-width: 0.8"/>
      </g>
     </g>
     <g id="text_47">
      <text style="font-size: 7.05px; font-family: 'DejaVu Sans', sans-serif; text-anchor: middle; fill: #222222" x="217.8" y="411.466898" transform="rotate(-0 217.8 411.466898)">495,700</text>
     </g>
    </g>
    <g id="text_48">
     <text style="font-size: 7.05px; font-family: 'DejaVu Sans', sans-serif; text-anchor: middle" x="132.6" y="420.689977" transform="rotate(-0 132.6 420.689977)">Easting</text>
    </g>
   </g>
   <g id="matplotlib.axis_10">
    <g id="ytick_25">
     <g id="line2d_43">
      <g>
       <path d="M 0 0 L -2.43 0 " transform="translate(31.2 257.75)" style="fill: #333333; stroke: #333333; stroke-width: 0.8"/>
      </g>
     </g>
     <g id="text_49">
      <text style="font-size: 7.05px; font-family: 'DejaVu Sans', sans-serif; text-anchor: end; fill: #222222" x="26.34" y="260.428449" transform="rotate(-0 26.34 260.428449)">90</text>
     </g>
    </g>
    <g id="ytick_26">
     <g id="line2d_44">
      <g>
       <path d="M 0 0 L -2.43 0 " transform="translate(31.2 284.39)" style="fill: #333333; stroke: #333333; stroke-width: 0.8"/>
      </g>
     </g>
     <g id="text_50">
      <text style="font-size: 7.05px; font-family: 'DejaVu Sans', sans-serif; text-anchor: end; fill: #222222" x="26.34" y="287.068449" transform="rotate(-0 26.34 287.068449)">80</text>
     </g>
    </g>
    <g id="ytick_27">
     <g id="line2d_45">
      <g>
       <path d="M 0 0 L -2.43 0 " transform="translate(31.2 311.03)" style="fill: #333333; stroke: #333333; stroke-width: 0.8"/>
      </g>
     </g>
     <g id="text_51">
      <text style="font-size: 7.05px; font-family: 'DejaVu Sans', sans-serif; text-anchor: end; fill: #222222" x="26.34" y="313.708449" transform="rotate(-0 26.34 313.708449)">70</text>
     </g>
    </g>
    <g id="ytick_28">
     <g id="line2d_46">
      <g>
       <path d="M 0 0 L -2.43 0 " transform="translate(31.2 337.67)" style="fill: #333333; stroke: #333333; stroke-width: 0.8"/>
      </g>
     </g>
     <g id="text_52">
      <text style="font-size: 7.05px; font-family: 'DejaVu Sans', sans-serif; text-anchor: end; fill: #222222" x="26.34" y="340.348449" transform="rotate(-0 26.34 340.348449)">60</text>
     </g>
    </g>
    <g id="ytick_29">
     <g id="line2d_47">
      <g>
       <path d="M 0 0 L -2.43 0 " transform="translate(31.2 364.31)" style="fill: #333333; stroke: #333333; stroke-width: 0.8"/>
      </g>
     </g>
     <g id="text_53">
      <text style="font-size: 7.05px; font-family: 'DejaVu Sans', sans-serif; text-anchor: end; fill: #222222" x="26.34" y="366.988449" transform="rotate(-0 26.34 366.988449)">50</text>
     </g>
    </g>
    <g id="ytick_30">
     <g id="line2d_48">
      <g>
       <path d="M 0 0 L -2.43 0 " transform="translate(31.2 390.95)" style="fill: #333333; stroke: #333333; stroke-width: 0.8"/>
      </g>
     </g>
     <g id="text_54">
      <text style="font-size: 7.05px; font-family: 'DejaVu Sans', sans-serif; text-anchor: end; fill: #222222" x="26.34" y="393.628449" transform="rotate(-0 26.34 393.628449)">40</text>
     </g>
    </g>
    <g id="text_55">
     <text style="font-size: 7.05px; font-family: 'DejaVu Sans', sans-serif; text-anchor: middle" x="14.402695" y="317.35" transform="rotate(-90 14.402695 317.35)">Northing</text>
    </g>
   </g>
   <g id="patch_17">
    <path d="M 31.2 401.25 L 31.2 233.45 " style="fill: none; stroke: #333333; stroke-width: 0.7; stroke-linejoin: miter; stroke-linecap: square"/>
   </g>
   <g id="patch_18">
    <path d="M 234 401.25 L 234 233.45 " style="fill: none; stroke: #333333; stroke-width: 0.7; stroke-linejoin: miter; stroke-linecap: square"/>
   </g>
   <g id="patch_19">
    <path d="M 31.2 401.25 L 234 401.25 " style="fill: none; stroke: #333333; stroke-width: 0.7; stroke-linejoin: miter; stroke-linecap: square"/>
   </g>
   <g id="patch_20">
    <path d="M 31.2 233.45 L 234 233.45 " style="fill: none; stroke: #333333; stroke-width: 0.7; stroke-linejoin: miter; stroke-linecap: square"/>
   </g>
   <g id="PathCollection_3">
    <g clip-path="url(#p59c1ee8912)">
     <circle cx="42" cy="233.65" r="1.80" style="fill: #404040"/>
     <circle cx="67.6" cy="236.45" r="1.80" style="fill: #404040"/>
     <circle cx="95.4" cy="236.45" r="1.80" style="fill: #404040"/>
     <circle cx="125" cy="233.65" r="1.80" style="fill: #404040"/>
     <circle cx="150.6" cy="233.65" r="1.80" style="fill: #404040"/>
     <circle cx="178.6" cy="236.45" r="1.80" style="fill: #404040"/>
     <circle cx="206.2" cy="236.45" r="1.80" style="fill: #404040"/>
     <circle cx="233" cy="235.65" r="1.80" style="fill: #404040"/>
     <circle cx="40" cy="252.05" r="1.80" style="fill: #404040"/>
     <circle cx="67.6" cy="252.05" r="1.80" style="fill: #404040"/>
     <circle cx="93.6" cy="254.85" r="1.80" style="fill: #404040"/>
     <circle cx="123" cy="254.85" r="1.80" style="fill: #404040"/>
     <circle cx="149" cy="252.05" r="1.80" style="fill: #404040"/>
     <circle cx="176.8" cy="254.85" r="1.80" style="fill: #404040"/>
     <circle cx="204.4" cy="254.85" r="1.80" style="fill: #404040"/>
     <circle cx="232.6" cy="254.85" r="1.80" style="fill: #404040"/>
     <circle cx="38" cy="273.45" r="1.80" style="fill: #404040"/>
     <circle cx="66" cy="273.45" r="1.80" style="fill: #404040"/>
     <circle cx="93.6" cy="273.45" r="1.80" style="fill: #404040"/>
     <circle cx="119.4" cy="273.45" r="1.80" style="fill: #404040"/>
     <circle cx="149" cy="273.45" r="1.80" style="fill: #404040"/>
     <circle cx="175" cy="271.05" r="1.80" style="fill: #404040"/>
     <circle cx="202.6" cy="273.45" r="1.80" style="fill: #404040"/>
     <circle cx="232.4" cy="273.45" r="1.80" style="fill: #404040"/>
     <circle cx="36.4" cy="292.25" r="1.80" style="fill: #404040"/>
     <circle cx="64.2" cy="292.25" r="1.80" style="fill: #404040"/>
     <circle cx="91.8" cy="292.25" r="1.80" style="fill: #404040"/>
     <circle cx="119.4" cy="292.25" r="1.80" style="fill: #404040"/>
     <circle cx="147" cy="292.25" r="1.80" style="fill: #404040"/>
     <circle cx="175" cy="292.25" r="1.80" style="fill: #404040"/>
     <circle cx="202.6" cy="292.25" r="1.80" style="fill: #404040"/>
     <circle cx="230.4" cy="292.25" r="1.80" style="fill: #404040"/>
     <circle cx="36.4" cy="310.85" r="1.80" style="fill: #404040"/>
     <circle cx="64.2" cy="308.05" r="1.80" style="fill: #404040"/>
     <circle cx="89.8" cy="310.85" r="1.80" style="fill: #404040"/>
     <circle cx="117.4" cy="310.85" r="1.80" style="fill: #404040"/>
     <circle cx="145" cy="310.65" r="1.80" style="fill: #404040"/>
     <circle cx="173" cy="310.65" r="1.80" style="fill: #404040"/>
     <circle cx="200.6" cy="310.65" r="1.80" style="fill: #404040"/>
     <circle cx="228.4" cy="310.65" r="1.80" style="fill: #404040"/>
     <circle cx="34.4" cy="329.45" r="1.80" style="fill: #404040"/>
     <circle cx="62" cy="326.65" r="1.80" style="fill: #404040"/>
     <circle cx="89.6" cy="326.65" r="1.80" style="fill: #404040"/>
     <circle cx="117.4" cy="329.45" r="1.80" style="fill: #404040"/>
     <circle cx="145" cy="329.45" r="1.80" style="fill: #404040"/>
     <circle cx="173" cy="326.65" r="1.80" style="fill: #404040"/>
     <circle cx="200.6" cy="329.45" r="1.80" style="fill: #404040"/>
     <circle cx="226.6" cy="329.45" r="1.80" style="fill: #404040"/>
     <circle cx="32.4" cy="345.65" r="1.80" style="fill: #404040"/>
     <circle cx="60.4" cy="345.65" r="1.80" style="fill: #404040"/>
     <circle cx="88" cy="345.65" r="1.80" style="fill: #404040"/>
     <circle cx="115.6" cy="345.65" r="1.80" style="fill: #404040"/>
     <circle cx="143.4" cy="345.65" r="1.80" style="fill: #404040"/>
     <circle cx="171" cy="345.65" r="1.80" style="fill: #404040"/>
     <circle cx="199" cy="345.65" r="1.80" style="fill: #404040"/>
     <circle cx="226.6" cy="345.65" r="1.80" style="fill: #404040"/>
     <circle cx="32.4" cy="364.05" r="1.80" style="fill: #404040"/>
     <circle cx="60.4" cy="364.05" r="1.80" style="fill: #404040"/>
     <circle cx="88" cy="364.05" r="1.80" style="fill: #404040"/>
     <circle cx="115.6" cy="366.85" r="1.80" style="fill: #404040"/>
     <circle cx="141.6" cy="364.05" r="1.80" style="fill: #404040"/>
     <circle cx="169.4" cy="364.05" r="1.80" style="fill: #404040"/>
     <circle cx="197" cy="364.05" r="1.80" style="fill: #404040"/>
     <circle cx="224.6" cy="364.05" r="1.80" style="fill: #404040"/>
     <circle cx="31.4" cy="385.55" r="1.80" style="fill: #404040"/>
     <circle cx="58.6" cy="383.25" r="1.80" style="fill: #404040"/>
     <circle cx="86.2" cy="383.05" r="1.80" style="fill: #404040"/>
     <circle cx="113.8" cy="383.05" r="1.80" style="fill: #404040"/>
     <circle cx="141.6" cy="383.05" r="1.80" style="fill: #404040"/>
     <circle cx="169.4" cy="383.05" r="1.80" style="fill: #404040"/>
     <circle cx="195.4" cy="383.05" r="1.80" style="fill: #404040"/>
     <circle cx="223" cy="383.05" r="1.80" style="fill: #404040"/>
     <circle cx="58.6" cy="401.05" r="1.80" style="fill: #404040"/>
     <circle cx="84.4" cy="401.05" r="1.80" style="fill: #404040"/>
     <circle cx="112" cy="401.05" r="1.80" style="fill: #404040"/>
     <circle cx="139.6" cy="401.05" r="1.80" style="fill: #404040"/>
     <circle cx="167.4" cy="401.05" r="1.80" style="fill: #404040"/>
     <circle cx="195" cy="398.05" r="1.80" style="fill: #404040"/>
     <circle cx="223" cy="401.05" r="1.80" style="fill: #404040"/>
    </g>
   </g>
   <g id="text_56">
    <text style="font-size: 8.55px; font-family: 'DejaVu Sans', sans-serif; text-anchor: middle" x="132.6" y="230.35" transform="rotate(-0 132.6 230.35)">Interpolated values - Depth 10 – 20</text>
   </g>
  </g>
  <g id="axes_6">
   <g id="patch_21">
    <path d="M 246.9 401.25 L 255.8 401.25 L 255.8 233.45 L 246.9 233.45 z " style="fill: #ffffff"/>
   </g>
   <g id="QuadMesh_3">
    <path d="M 246.9 401.25 L 255.8 401.25 L 255.8 392.86 L 246.9 392.86 L 246.9 401.25 " clip-path="url(#pb5ca246788)" style="fill: #2267ac"/>
    <path d="M 246.9 392.86 L 255.8 392.86 L 255.8 384.47 L 246.9 384.47 L 246.9 392.86 " clip-path="url(#pb5ca246788)" style="fill: #2f79b5"/>
    <path d="M 246.9 384.47 L 255.8 384.47 L 255.8 376.08 L 246.9 376.08 L 246.9 384.47 " clip-path="url(#pb5ca246788)" style="fill: #3e8cbf"/>
    <path d="M 246.9 376.08 L 255.8 376.08 L 255.8 367.69 L 246.9 367.69 L 246.9 376.08 " clip-path="url(#pb5ca246788)" style="fill: #59a1ca"/>
    <path d="M 246.9 367.69 L 255.8 367.69 L 255.8 359.3 L 246.9 359.3 L 246.9 367.69 " clip-path="url(#pb5ca246788)" style="fill: #7bb6d6"/>
    <path d="M 246.9 359.3 L 255.8 359.3 L 255.8 350.91 L 246.9 350.91 L 246.9 359.3 " clip-path="url(#pb5ca246788)" style="fill: #9bc9e0"/>
    <path d="M 246.9 350.91 L 255.8 350.91 L 255.8 342.52 L 246.9 342.52 L 246.9 350.91 " clip-path="url(#pb5ca246788)" style="fill: #b6d7e8"/>
    <path d="M 246.9 342.52 L 255.8 342.52 L 255.8 334.13 L 246.9 334.13 L 246.9 342.52 " clip-path="url(#pb5ca246788)" style="fill: #d1e5f0"/>
    <path d="M 246.9 334.13 L 255.8 334.13 L 255.8 325.74 L 246.9 325.74 L 246.9 334.13 " clip-path="url(#pb5ca246788)" style="fill: #e0ecf3"/>
    <path d="M 246.9 325.74 L 255.8 325.74 L 255.8 317.35 L 246.9 317.35 L 246.9 325.74 " clip-path="url(#pb5ca246788)" style="fill: #f0f4f6"/>
    <path d="M 246.9 317.35 L 255.8 317.35 L 255.8 308.96 L 246.9 308.96 L 246.9 317.35 " clip-path="url(#pb5ca246788)" style="fill: #f9f0eb"/>
    <path d="M 246.9 308.96 L 255.8 308.96 L 255.8 300.57 L 246.9 300.57 L 246.9 308.96 " clip-path="url(#pb5ca246788)" style="fill: #fbe4d6"/>
    <path d="M 246.9 300.57 L 255.8 300.57 L 255.8 292.18 L 246.9 292.18 L 246.9 300.57 " clip-path="url(#pb5ca246788)" style="fill: #fcd5bf"/>
    <path d="M 246.9 292.18 L 255.8 292.18 L 255.8 283.79 L 246.9 283.79 L 246.9 292.18 " clip-path="url(#pb5ca246788)" style="fill: #f8bda1"/>
    <path d="M 246.9 283.79 L 255.8 283.79 L 255.8 275.4 L 246.9 275.4 L 246.9 283.79 " clip-path="url(#pb5ca246788)" style="fill: #f4a683"/>
    <path d="M 246.9 275.4 L 255.8 275.4 L 255.8 267.01 L 246.9 267.01 L 246.9 275.4 " clip-path="url(#pb5ca246788)" style="fill: #e98b6e"/>
    <path d="M 246.9 267.01 L 255.8 267.01 L 255.8 258.62 L 246.9 258.62 L 246.9 267.01 " clip-path="url(#pb5ca246788)" style="fill: #dc6e57"/>
    <path d="M 246.9 258.62 L 255.8 258.62 L 255.8 250.23 L 246.9 250.23 L 246.9 258.62 " clip-path="url(#pb5ca246788)" style="fill: #ce4f45"/>
    <path d="M 246.9 250.23 L 255.8 250.23 L 255.8 241.84 L 246.9 241.84 L 246.9 250.23 " clip-path="url(#pb5ca246788)" style="fill: #be3036"/>
    <path d="M 246.9 241.84 L 255.8 241.84 L 255.8 233.45 L 246.9 233.45 L 246.9 241.84 " clip-path="url(#pb5ca246788)" style="fill: #ab162a"/>
   </g>
   <g id="matplotlib.axis_11"/>
   <g id="matplotlib.axis_12">
    <g id="ytick_31">
     <g id="line2d_49">
      <g>
       <path d="M 0 0 L 2.43 0 " transform="translate(255.8 401.25)" style="fill: #333333; stroke: #333333; stroke-width: 0.8"/>
      </g>
     </g>
     <g id="text_57">
      <text style="font-size: 4.53px; font-family: 'DejaVu Sans', sans-serif; text-anchor: start; fill: #222222" x="260.66" y="402.971046" transform="rotate(-0 260.66 402.971046)">8000</text>
     </g>
    </g>
    <g id="ytick_32">
     <g id="line2d_50">
      <g>
       <path d="M 0 0 L 2.43 0 " transform="translate(255.8 367.69)" style="fill: #333333; stroke: #333333; stroke-width: 0.8"/>
      </g>
     </g>
     <g id="text_58">
      <text style="font-size: 4.53px; font-family: 'DejaVu Sans', sans-serif; text-anchor: start; fill: #222222" x="260.66" y="369.411046" transform="rotate(-0 260.66 369.411046)">9900</text>
     </g>
    </g>
    <g id="ytick_33">
     <g id="line2d_51">
      <g>
       <path d="M 0 0 L 2.43 0 " transform="translate(255.8 334.13)" style="fill: #333333; stroke: #333333; stroke-width: 0.8"/>
      </g>
     </g>
     <g id="text_59">
      <text style="font-size: 4.53px; font-family: 'DejaVu Sans', sans-serif; text-anchor: start; fill: #222222" x="260.66" y="335.851046" transform="rotate(-0 260.66 335.851046)">11,800</text>
     </g>
    </g>
    <g id="ytick_34">
     <g id="line2d_52">
      <g>
       <path d="M 0 0 L 2.43 0 " transform="translate(255.8 300.57)" style="fill: #333333; stroke: #333333; stroke-width: 0.8"/>
      </g>
     </g>
     <g id="text_60">
      <text style="font-size: 4.53px; font-family: 'DejaVu Sans', sans-serif; text-anchor: start; fill: #222222" x="260.66" y="302.291046" transform="rotate(-0 260.66 302.291046)">13,700</text>
     </g>
    </g>
    <g id="ytick_35">
     <g id="line2d_53">
      <g>
       <path d="M 0 0 L 2.43 0 " transform="translate(255.8 267.01)" style="fill: #333333; stroke: #333333; stroke-width: 0.8"/>
      </g>
     </g>
     <g id="text_61">
      <text style="font-size: 4.53px; font-family: 'DejaVu Sans', sans-serif; text-anchor: start; fill: #222222" x="260.66" y="268.731046" transform="rotate(-0 260.66 268.731046)">15,600</text>
     </g>
    </g>
    <g id="ytick_36">
     <g id="line2d_54">
      <g>
       <path d="M 0 0 L 2.43 0 " transform="translate(255.8 233.45)" style="fill: #333333; stroke: #333333; stroke-width: 0.8"/>
      </g>
     </g>
     <g id="text_62">
      <text style="font-size: 4.53px; font-family: 'DejaVu Sans', sans-serif; text-anchor: start; fill: #222222" x="260.66" y="235.171046" transform="rotate(-0 260.66 235.171046)">17,500</text>
     </g>
    </g>
   </g>
   <g id="LineCollection_3"/>
   <g id="patch_22">
    <path d="M 246.9 401.25 L 251.35 401.25 L 255.8 401.25 L 255.8 233.45 L 251.35 233.45 L 246.9 233.45 L 246.9 401.25 z " style="fill: none; stroke: #333333; stroke-width: 0.7; stroke-linejoin: miter; stroke-linecap: square"/>
   </g>
  </g>
  <g id="axes_7">
   <g id="patch_23">
    <path d="M 302 401.25 L 504.8 401.25 L 504.8 233.45 L 302 233.45 z " style="fill: #ffffff"/>
   </g>
   <g id="field3"><rect x="302.0" y="233.5" width="202.8" height="167.8" fill="#2b73b3"/>
<path fill="#3c8abe" fill-rule="evenodd" d="M302 233.5L504.8 233.5 504.8 401.2 302 401.2ZM332.6 325.7L332.1 326.4 332.6 327.6 333.3 326.4Z"/>
<path fill="#5ca3cb" fill-rule="evenodd" d="M302 233.5L504.8 233.5 504.8 401.2 302 401.2ZM332.6 322.7L331 324 330.3 326.4 330.7 328.8 331.3 329.9 332.6 330.6 333.9 330.3 335.1 328.8 335.5 326.4 334.8 324 333.9 322.9Z"/>
<path fill="#81bad8" fill-rule="evenodd" d="M302 233.5L504.8 233.5 504.8 401.2 302 401.2ZM332.6 319L331.3 319.5 329.4 321.6 328.4 324 328.1 326.4 328.3 328.8 329 331.2 330.1 332.9 331.3 334 332.6 334.4 333.9 334.2 335.2 333.5 336.4 332 337.4 330 337.9 326.4 337.6 324 336.4 321 335.2 319.6 333.9 319ZM387.5 306.2L386.2 307.2 385.6 308.3 385.2 310.7 386.2 313.1 387.5 314 388.7 314.1 390 313.5 391.1 311.9 391.4 309.5 391.1 308.3 390 306.7 388.7 306ZM411.7 358.9L409.9 360.2 408.5 363.8 408.7 373.5 407.9 381.9 408.2 385.6 408.9 388 410.4 389.8 411.7 390.3 413 390.1 415.1 388 416 385.6 416.3 381.9 415.4 373.5 416 366.2 415.6 362.6 414.2 359.8 413 358.9Z"/>
<path fill="#a5cee3" fill-rule="evenodd" d="M302 233.5L504.8 233.5 504.8 401.2 469.2 401.2 469.4 398.8 468.8 396.4 467.8 394.9 466.5 394.1 465.3 394 464 394.6 462.6 396.4 462 398.8 462.3 401.2 419.7 401.2 421.7 391.6 422.4 385.6 420.7 363.8 420.1 360.2 419.1 356.6 414.2 347.3 413 347.4 407.9 351.5 405.3 355 403.4 359 402.2 363.8 401.5 375 398.9 385.8 397.7 388.9 395.1 389.8 389.6 385.6 384.9 383.3 381.1 387 377.8 391.6 375.8 396.4 375 401.2 302 401.2ZM309.7 247L308 249.1 307.8 252.8 309.3 255.2 310.9 255.7 312.2 255.1 313 254 313.4 252.8 313.5 250.4 312.2 247.5 310.9 246.8ZM332.6 313.8L330.1 315.3 327.5 318.5 325.9 322.8 325.4 326.4 325.9 331.2 327.5 335.4 330.1 338.6 332.6 339.6 333.9 339.4 336.4 337.9 338.8 334.9 340.3 331.2 341 326.4 340.4 321.6 338.2 316.7 336.4 314.7 335.2 313.9ZM386.2 299.7L383.6 302 381.7 305.9 381 309.5 381.4 313.1 382.9 315.5 384.9 317 387.5 317.8 391.3 317.4 394.4 315.5 395.8 313.1 396.2 309.5 395.6 305.9 393.8 302.1 391.3 299.7 388.7 299ZM415.5 287.5L414.1 290.2 414.1 293.8 415.5 296.6 416.8 297.2 418.1 296.9 419.3 295.8 420.2 293.8 420.3 290.2 419.3 288.1 418.1 287 416.8 286.8ZM471.6 305.6L470.4 305.9 469.1 307 467.8 310.7 468.4 321.6 465.7 342.1 465.8 344.5 466.6 346.9 467.8 348.4 469.1 349.2 470.4 349.4 471.6 349.1 472.9 348.2 474.4 345.7 475.7 333.6 475.1 321.6 475.6 314.3 475.5 310.7 474.2 307.1 472.9 305.9ZM493.3 380.4L492 381 491.3 381.9 490.7 384.3 491.4 386.8 492 387.7 493.3 388.5 494.6 388.3 495.9 387.1 496.6 384.3 495.9 381.8 494.6 380.6ZM386.2 343.2L384.9 343.5 383.7 344.5 382.9 345.7 382.5 348.1 383.2 350.5 384 351.8 386.2 353.3 387.5 353.5 388.7 353.1 390.2 351.8 390.9 350.5 391.1 348.1 390.7 346.9 388.9 344.5 387.5 343.5Z"/>
<path fill="#c2ddec" fill-rule="evenodd" d="M325.6 233.5L378.3 233.5 378 240.7 374.6 273.3 373 282.9 371.9 293.8 371.1 297.4 369.6 299.8 367 301.3 364.5 301.6 356.8 301.4 353 302.6 351.7 303.8 350.6 305.9 349.5 309.5 349 313.1 349.4 318 350 320.4 351.2 322.8 353 325 354.3 325.7 360.7 326.7 363.2 327.6 365.3 328.8 367 330.7 369 334.9 370 338.5 370.4 342.1 370.3 346.9 369.5 350.5 368.6 353 365.8 356.7 361.9 358.6 351.7 360.7 350.6 361.4 350 362.6 349.1 401.2 302 401.2 302 373.4 304.6 373.3 307.1 371.5 308.8 368.7 309.6 365 309.2 362.6 307.6 360.2 304.6 358.7 302 358.8 302 263.3 307.1 265.3 312.2 265.9 316 265 319.3 262.4 321.4 258.8 322.8 254 323.7 244.1ZM333.9 302L331.3 303.9 325.3 313.1 322.8 319.2 321.8 325.2 322 330 323.1 336.1 326 344.5 327.5 351.7 331 359 331.3 360.8 332.6 360.4 337.4 353 339.9 345.7 343.7 338.5 345.8 333.6 347 326.4 345.7 315.5 345.8 310.7 344.4 305.9 342.2 303.5 339.9 302.3 336.4 301.6ZM455.6 233.5L504.8 233.5 504.8 289.9 503.5 288.3 502.2 287.5 501 287.3 499.7 287.7 498.4 288.6 497.2 290.2 495.4 295 491.6 310.7 492.6 313.1 494.1 314.3 497.1 315.7 501 316 503.5 315.1 504.8 313.9 504.8 378.8 502.3 377.1 495.9 375 489.5 374 484.4 373.8 483.1 374.2 480.6 376.8 474.2 381.6 471.6 382.4 466.5 382.9 463.4 381.9 459 379.5 455.1 374.2 446.1 367 438.5 363.4 435.9 361.6 431.9 356.6 429.2 350.5 424.6 331.2 423.8 325.2 423.4 318 423.8 310.7 428.1 295 429.2 278.1 432.3 264.8 436.7 250.4 437.8 247.9 438.5 247.2 439.8 246.7 447.4 246.8 451.2 245.5 453.5 243.1 454.7 240.7 455.6 237.1ZM469.1 298.4L466.5 300.3 465 302.3 463.8 304.7 462.8 308.3 462 326.4 459.8 343.3 459.7 346.9 460.7 349.3 463.7 351.8 470.4 354 476.7 354.6 478.3 354.2 479.7 353 481 348.1 483.2 330 482.6 320.4 482.6 310.7 480.9 304.7 479.5 302.3 477.4 299.8 475.5 298.5 472.9 297.7 470.4 297.9ZM378.9 322.8L383.6 321.8 388.7 321.6 392.6 322.2 396.2 324 397.6 326.4 397.9 330 397.2 333.6 395.8 336.1 394.4 337.3 392.6 338.2 388.7 338.5 383.3 337.3 379.1 334.9 377.2 332.4 376.4 328.8 376.9 325.2 377.4 324Z"/>
<path fill="#dbeaf2" fill-rule="evenodd" d="M469.4 233.5L504.8 233.5 504.8 273.3 502.2 273.2 499.7 272.6 497.1 271.6 492 268.4 488.2 267.7 486.9 268.9 485 276.9 482.1 282.9 480 285.4 478 286.9 474.2 288.2 470.4 287.9 467.8 286.6 466.4 285.4 464.5 282.9 463.3 280.5 462 274.5 462.1 269.7 463.2 264.8 467.7 254ZM445.1 284.2L447.4 283.7 448.7 284.1 450.3 285.4 451.8 287.8 452.5 290.2 452.8 293.8 455.4 304.7 455.8 310.7 455.5 314.3 454.4 319.2 453.1 322.8 449.8 328.8 449 331.2 449 343.3 448.3 348.1 447.4 350.5 446.1 352.4 444.9 353.5 442.3 354.2 439.8 353.5 438.5 352.5 437.1 350.5 436.2 348.1 435.7 345.7 435.8 342.1 437.9 330 433.6 319.2 432.6 314.3 432.4 309.5 433.1 304.7 435.3 298.6 440.6 290.2 442.3 286.7 443.6 285.1ZM302.4 302.3L305.8 301.5 308.4 302.2 310.1 303.5 311.8 305.9 316.4 322.8 317.1 330 316.6 334.9 315.2 339.7 313.2 344.5 310.9 348.6 309.3 350.5 307.1 352 304.6 352.8 302 352.9 302 302.5ZM385.7 326.4L387.5 325.5 388.7 325.5 390.4 326.4 391.4 327.6 391.8 328.8 391.6 331.2 390 333.2 388.7 333.7 387.5 333.7 386.2 333 384.9 331.4 384.4 328.8ZM495.7 326.4L497.1 325.6 498.4 325.8 499.7 326.8 500.8 328.8 500.9 331.2 500.6 332.4 499.7 333.9 498.4 334.8 497.1 334.8 495.9 334.1 494.6 331.8 494.4 328.8ZM356.6 339.7L358.1 339 359.4 339 360.7 339.6 361.9 341.1 362.9 343.3 363.1 345.7 362.6 348.1 360.8 350.5 359.4 351.3 358.1 351.4 356.3 350.5 355.2 349.3 354.2 346.9 354.3 343.3 355.4 340.9ZM493.2 356.6L494.6 355.8 497.1 355.9 499.5 357.8 500.6 360.2 501 363.8 500.4 366.2 498.4 368.5 497.1 369.1 494.6 369.1 493.3 368.5 492 367.4 490.7 365 490.4 362.6 490.9 360.2 492 357.8ZM463.5 359L466.5 357.8 469.1 358.2 472.1 360.2 473.4 362.6 473.8 365 472.9 368.7 471.4 371.1 469.1 372.7 466.5 372.7 465.3 372.1 464 370.9 462.6 368.7 461.8 366.2 461.7 362.6 462.5 360.2ZM326.3 375.9L328.8 375.4 331.3 376.2 333.6 378.3 334.8 380.7 335.8 386.8 336 401.2 319.6 401.2 322 381.9 323.5 378.3Z"/>
<path fill="#edf2f5" fill-rule="evenodd" d="M496.3 233.5L504.8 233.5 504.8 263.1 502.2 263.1 500.8 262.4 498.5 260 497.4 257.6 496.7 252.8ZM471.8 262.4L474.2 261.7 476.7 262.8 479.1 266 480.2 269.7 480.2 274.5 479.1 278.1 476.7 281.3 474.2 282.5 471.6 282.2 469.3 280.5 467.8 278.1 466.8 274.5 466.9 270.9 467.9 267.3 469.2 264.8ZM444 293.8L446.1 292.9 450.4 298.6 452.6 304.7 453.3 310.7 452.4 316.7 450.5 321.6 448.7 324.3 446.1 327 444.9 328 443.6 328.3 442.3 327.7 439.8 325.1 436.7 320.4 435.1 315.5 434.6 310.7 435.2 305.9 437.2 300.7 439.8 297.1ZM305.4 311.9L307.1 311.2 309.7 314.4 312.2 318.5 314.3 325.2 314.5 331.2 313.3 337.3 310.9 342.2 307.1 346.6 304.6 348.2 303.3 348.4 302 348.1 302 313.8ZM440.7 343.3L441 342.8 442.3 342.4 443.6 344.3 443.6 345.8 443.2 346.9 442.3 347.8 441 347.5 440.6 346.9 440.2 345.7ZM467 362.6L467.8 362.2 469.3 363.8 469.1 365.4 467.8 366.5 466.3 365 466.2 363.8Z"/>
<path fill="#f9f0eb" fill-rule="evenodd" d="M502 234.7L502.7 233.5 504.8 233.5 504.8 239.4 503.5 239.9 502.2 238.4 501.8 235.9ZM502.3 251.6L503.5 250.6 504.8 251.8 504.8 255.9 503.5 257 502.2 256.3 501.7 255.2 501.6 254ZM471.9 268.5L472.9 267.8 474.2 267.8 475.5 268.7 476.7 270.9 477 273.3 476.4 275.7 475.5 277.3 474.2 278.1 472.9 278.2 471.6 277.5 470.1 274.5 470.3 270.9ZM442.1 298.6L444.9 297.9 446.1 298.3 448 299.8 449.6 302.3 450.6 304.7 451.5 309.5 451.1 314.3 449.4 319.2 447.7 321.6 446.1 323 444.9 323.8 443.6 324 441 322.6 438.5 319.5 436.9 315.5 436.3 311.9 436.7 307.1 437.9 303.5 439.8 300.6ZM303.8 316.7L305.8 316.4 307.1 316.7 309.8 319.2 312.1 324 312.8 330 312.1 334.9 309.9 339.7 307.1 342.8 303.3 345.3 302 344 302 317.7Z"/>
<path fill="#fbe3d4" fill-rule="evenodd" d="M472.5 273.3L472.9 272.2 474.2 272.8 474.4 273.3 474.2 273.9 472.9 274.5ZM442.9 301.1L444.9 300.9 446.1 301.4 447.4 302.5 449.3 305.9 450 310.7 449.6 314.3 448 318 446.1 320.1 443.6 320.9 441 319.6 439.8 318.1 438.5 315.5 437.8 311.9 438 308.3 439.2 304.7 441 302.2ZM302.5 320.4L304.6 319.4 305.8 319.4 308.4 320.8 310.4 324 311.3 327.6 311.1 332.4 309.9 336.1 307.1 339.6 304.6 340.8 303.3 340.6 302 339.7 302 320.7Z"/>
<path fill="#fbceb7" fill-rule="evenodd" d="M442.6 303.5L444.9 303.2 446.1 303.9 447.6 305.9 448.6 309.5 448.4 313.1 447.4 315.9 446.1 317.5 444.9 318.3 443.6 318.5 442.3 318.1 440.8 316.7 439.6 314.3 439.1 311.9 439.1 309.5 439.8 306.9 441 304.7ZM302.7 322.8L304.6 321.8 305.8 321.8 307.1 322.3 308.6 324 309.9 327.6 309.9 331.2 309.3 333.6 308 336.1 305.8 337.7 304.6 337.9 303.3 337.5 302 336.4 302 323.4Z"/>
<path fill="#f7b596" fill-rule="evenodd" d="M442 305.9L443.6 305.1 444.9 305.2 446.1 306.3 447.2 308.3 447.5 310.7 447.2 313.1 446.1 315.2 444.9 316.2 443.6 316.4 442.3 315.9 441 314.4 440.5 313.1 440.3 309.5 441 307.2ZM304.2 324L305.8 323.8 307.1 324.6 308.3 326.4 308.9 328.8 308.7 331.2 307.8 333.6 305.8 335.5 304.6 335.6 303.3 335 302 333.3 302 326.3 303.3 324.5Z"/>
<path fill="#ee9677" fill-rule="evenodd" d="M443 307.1L443.6 306.8 444.9 307.1 445.9 308.3 446.4 310.7 445.8 313.1 444.9 314.3 443.6 314.7 442.3 313.9 441.8 313.1 441.2 310.7 441.8 308.3ZM303.5 326.4L304.6 325.6 305.8 325.6 307.5 327.6 307.8 328.8 307.6 331.2 307 332.4 305.8 333.6 304.6 333.6 303.3 332.6 302.6 331.2 302.5 328.8Z"/>
<path fill="#df765e" fill-rule="evenodd" d="M442.4 309.5L443.6 308.3 444.9 308.9 445.4 310.7 444.9 312.5 443.6 313.1 442.5 311.9 442.2 310.7ZM304.2 327.6L304.6 327.2 305.8 327.2 306.8 328.8 306.8 330 305.8 331.8 304.6 331.9 303.5 330 303.6 328.8Z"/>
<path fill="#cf5246" fill-rule="evenodd" d="M443.1 310.7L443.6 309.8 444.3 310.7 443.6 311.6Z"/></g>
   <g id="matplotlib.axis_13">
    <g id="xtick_19">
     <g id="line2d_55">
      <g>
       <path d="M 0 0 L 0 2.43 " transform="translate(303.1 401.25)" style="fill: #333333; stroke: #333333; stroke-width: 0.8"/>
      </g>
     </g>
     <g id="text_63">
      <text style="font-size: 7.05px; font-family: 'DejaVu Sans', sans-serif; text-anchor: middle; fill: #222222" x="303.1" y="411.466898" transform="rotate(-0 303.1 411.466898)">495,600</text>
     </g>
    </g>
    <g id="xtick_20">
     <g id="line2d_56">
      <g>
       <path d="M 0 0 L 0 2.43 " transform="translate(340.2 401.25)" style="fill: #333333; stroke: #333333; stroke-width: 0.8"/>
      </g>
     </g>
     <g id="text_64">
      <text style="font-size: 7.05px; font-family: 'DejaVu Sans', sans-serif; text-anchor: middle; fill: #222222" x="340.2" y="411.466898" transform="rotate(-0 340.2 411.466898)">495,620</text>
     </g>
    </g>
    <g id="xtick_21">
     <g id="line2d_57">
      <g>
       <path d="M 0 0 L 0 2.43 " transform="translate(377.3 401.25)" style="fill: #333333; stroke: #333333; stroke-width: 0.8"/>
      </g>
     </g>
     <g id="text_65">
      <text style="font-size: 7.05px; font-family: 'DejaVu Sans', sans-serif; text-anchor: middle; fill: #222222" x="377.3" y="411.466898" transform="rotate(-0 377.3 411.466898)">495,640</text>
     </g>
    </g>
    <g id="xtick_22">
     <g id="line2d_58">
      <g>
       <path d="M 0 0 L 0 2.43 " transform="translate(414.4 401.25)" style="fill: #333333; stroke: #333333; stroke-width: 0.8"/>
      </g>
     </g>
     <g id="text_66">
      <text style="font-size: 7.05px; font-family: 'DejaVu Sans', sans-serif; text-anchor: middle; fill: #222222" x="414.4" y="411.466898" transform="rotate(-0 414.4 411.466898)">495,660</text>
     </g>
    </g>
    <g id="xtick_23">
     <g id="line2d_59">
      <g>
       <path d="M 0 0 L 0 2.43 " transform="translate(451.5 401.25)" style="fill: #333333; stroke: #333333; stroke-width: 0.8"/>
      </g>
     </g>
     <g id="text_67">
      <text style="font-size: 7.05px; font-family: 'DejaVu Sans', sans-serif; text-anchor: middle; fill: #222222" x="451.5" y="411.466898" transform="rotate(-0 451.5 411.466898)">495,680</text>
     </g>
    </g>
    <g id="xtick_24">
     <g id="line2d_60">
      <g>
       <path d="M 0 0 L 0 2.43 " transform="translate(488.6 401.25)" style="fill: #333333; stroke: #333333; stroke-width: 0.8"/>
      </g>
     </g>
     <g id="text_68">
      <text style="font-size: 7.05px; font-family: 'DejaVu Sans', sans-serif; text-anchor: middle; fill: #222222" x="488.6" y="411.466898" transform="rotate(-0 488.6 411.466898)">495,700</text>
     </g>
    </g>
    <g id="text_69">
     <text style="font-size: 7.05px; font-family: 'DejaVu Sans', sans-serif; text-anchor: middle" x="403.4" y="420.689977" transform="rotate(-0 403.4 420.689977)">Easting</text>
    </g>
   </g>
   <g id="matplotlib.axis_14">
    <g id="ytick_37">
     <g id="line2d_61">
      <g>
       <path d="M 0 0 L -2.43 0 " transform="translate(302 257.75)" style="fill: #333333; stroke: #333333; stroke-width: 0.8"/>
      </g>
     </g>
     <g id="text_70">
      <text style="font-size: 7.05px; font-family: 'DejaVu Sans', sans-serif; text-anchor: end; fill: #222222" x="297.14" y="260.428449" transform="rotate(-0 297.14 260.428449)">90</text>
     </g>
    </g>
    <g id="ytick_38">
     <g id="line2d_62">
      <g>
       <path d="M 0 0 L -2.43 0 " transform="translate(302 284.39)" style="fill: #333333; stroke: #333333; stroke-width: 0.8"/>
      </g>
     </g>
     <g id="text_71">
      <text style="font-size: 7.05px; font-family: 'DejaVu Sans', sans-serif; text-anchor: end; fill: #222222" x="297.14" y="287.068449" transform="rotate(-0 297.14 287.068449)">80</text>
     </g>
    </g>
    <g id="ytick_39">
     <g id="line2d_63">
      <g>
       <path d="M 0 0 L -2.43 0 " transform="translate(302 311.03)" style="fill: #333333; stroke: #333333; stroke-width: 0.8"/>
      </g>
     </g>
     <g id="text_72">
      <text style="font-size: 7.05px; font-family: 'DejaVu Sans', sans-serif; text-anchor: end; fill: #222222" x="297.14" y="313.708449" transform="rotate(-0 297.14 313.708449)">70</text>
     </g>
    </g>
    <g id="ytick_40">
     <g id="line2d_64">
      <g>
       <path d="M 0 0 L -2.43 0 " transform="translate(302 337.67)" style="fill: #333333; stroke: #333333; stroke-width: 0.8"/>
      </g>
     </g>
     <g id="text_73">
      <text style="font-size: 7.05px; font-family: 'DejaVu Sans', sans-serif; text-anchor: end; fill: #222222" x="297.14" y="340.348449" transform="rotate(-0 297.14 340.348449)">60</text>
     </g>
    </g>
    <g id="ytick_41">
     <g id="line2d_65">
      <g>
       <path d="M 0 0 L -2.43 0 " transform="translate(302 364.31)" style="fill: #333333; stroke: #333333; stroke-width: 0.8"/>
      </g>
     </g>
     <g id="text_74">
      <text style="font-size: 7.05px; font-family: 'DejaVu Sans', sans-serif; text-anchor: end; fill: #222222" x="297.14" y="366.988449" transform="rotate(-0 297.14 366.988449)">50</text>
     </g>
    </g>
    <g id="ytick_42">
     <g id="line2d_66">
      <g>
       <path d="M 0 0 L -2.43 0 " transform="translate(302 390.95)" style="fill: #333333; stroke: #333333; stroke-width: 0.8"/>
      </g>
     </g>
     <g id="text_75">
      <text style="font-size: 7.05px; font-family: 'DejaVu Sans', sans-serif; text-anchor: end; fill: #222222" x="297.14" y="393.628449" transform="rotate(-0 297.14 393.628449)">40</text>
     </g>
    </g>
   </g>
   <g id="patch_24">
    <path d="M 302 401.25 L 302 233.45 " style="fill: none; stroke: #333333; stroke-width: 0.7; stroke-linejoin: miter; stroke-linecap: square"/>
   </g>
   <g id="patch_25">
    <path d="M 504.8 401.25 L 504.8 233.45 " style="fill: none; stroke: #333333; stroke-width: 0.7; stroke-linejoin: miter; stroke-linecap: square"/>
   </g>
   <g id="patch_26">
    <path d="M 302 401.25 L 504.8 401.25 " style="fill: none; stroke: #333333; stroke-width: 0.7; stroke-linejoin: miter; stroke-linecap: square"/>
   </g>
   <g id="patch_27">
    <path d="M 302 233.45 L 504.8 233.45 " style="fill: none; stroke: #333333; stroke-width: 0.7; stroke-linejoin: miter; stroke-linecap: square"/>
   </g>
   <g id="PathCollection_4">
    <g clip-path="url(#p6a28f835d8)">
     <circle cx="312.8" cy="233.65" r="1.80" style="fill: #404040"/>
     <circle cx="338.4" cy="236.45" r="1.80" style="fill: #404040"/>
     <circle cx="366.2" cy="236.45" r="1.80" style="fill: #404040"/>
     <circle cx="395.8" cy="233.65" r="1.80" style="fill: #404040"/>
     <circle cx="421.4" cy="233.65" r="1.80" style="fill: #404040"/>
     <circle cx="449.4" cy="236.45" r="1.80" style="fill: #404040"/>
     <circle cx="477" cy="236.45" r="1.80" style="fill: #404040"/>
     <circle cx="503.8" cy="235.65" r="1.80" style="fill: #404040"/>
     <circle cx="310.8" cy="252.05" r="1.80" style="fill: #404040"/>
     <circle cx="338.4" cy="252.05" r="1.80" style="fill: #404040"/>
     <circle cx="364.4" cy="254.85" r="1.80" style="fill: #404040"/>
     <circle cx="393.8" cy="254.85" r="1.80" style="fill: #404040"/>
     <circle cx="419.8" cy="252.05" r="1.80" style="fill: #404040"/>
     <circle cx="447.6" cy="254.85" r="1.80" style="fill: #404040"/>
     <circle cx="475.2" cy="254.85" r="1.80" style="fill: #404040"/>
     <circle cx="503.4" cy="254.85" r="1.80" style="fill: #404040"/>
     <circle cx="308.8" cy="273.45" r="1.80" style="fill: #404040"/>
     <circle cx="336.8" cy="273.45" r="1.80" style="fill: #404040"/>
     <circle cx="364.4" cy="273.45" r="1.80" style="fill: #404040"/>
     <circle cx="390.2" cy="273.45" r="1.80" style="fill: #404040"/>
     <circle cx="419.8" cy="273.45" r="1.80" style="fill: #404040"/>
     <circle cx="445.8" cy="271.05" r="1.80" style="fill: #404040"/>
     <circle cx="473.4" cy="273.45" r="1.80" style="fill: #404040"/>
     <circle cx="503.2" cy="273.45" r="1.80" style="fill: #404040"/>
     <circle cx="307.2" cy="292.25" r="1.80" style="fill: #404040"/>
     <circle cx="335" cy="292.25" r="1.80" style="fill: #404040"/>
     <circle cx="362.6" cy="292.25" r="1.80" style="fill: #404040"/>
     <circle cx="390.2" cy="292.25" r="1.80" style="fill: #404040"/>
     <circle cx="417.8" cy="292.25" r="1.80" style="fill: #404040"/>
     <circle cx="445.8" cy="292.25" r="1.80" style="fill: #404040"/>
     <circle cx="473.4" cy="292.25" r="1.80" style="fill: #404040"/>
     <circle cx="501.2" cy="292.25" r="1.80" style="fill: #404040"/>
     <circle cx="307.2" cy="310.85" r="1.80" style="fill: #404040"/>
     <circle cx="335" cy="308.05" r="1.80" style="fill: #404040"/>
     <circle cx="360.6" cy="310.85" r="1.80" style="fill: #404040"/>
     <circle cx="388.2" cy="310.85" r="1.80" style="fill: #404040"/>
     <circle cx="415.8" cy="310.65" r="1.80" style="fill: #404040"/>
     <circle cx="443.8" cy="310.65" r="1.80" style="fill: #404040"/>
     <circle cx="471.4" cy="310.65" r="1.80" style="fill: #404040"/>
     <circle cx="499.2" cy="310.65" r="1.80" style="fill: #404040"/>
     <circle cx="305.2" cy="329.45" r="1.80" style="fill: #404040"/>
     <circle cx="332.8" cy="326.65" r="1.80" style="fill: #404040"/>
     <circle cx="360.4" cy="326.65" r="1.80" style="fill: #404040"/>
     <circle cx="388.2" cy="329.45" r="1.80" style="fill: #404040"/>
     <circle cx="415.8" cy="329.45" r="1.80" style="fill: #404040"/>
     <circle cx="443.8" cy="326.65" r="1.80" style="fill: #404040"/>
     <circle cx="471.4" cy="329.45" r="1.80" style="fill: #404040"/>
     <circle cx="497.4" cy="329.45" r="1.80" style="fill: #404040"/>
     <circle cx="303.2" cy="345.65" r="1.80" style="fill: #404040"/>
     <circle cx="331.2" cy="345.65" r="1.80" style="fill: #404040"/>
     <circle cx="358.8" cy="345.65" r="1.80" style="fill: #404040"/>
     <circle cx="386.4" cy="345.65" r="1.80" style="fill: #404040"/>
     <circle cx="414.2" cy="345.65" r="1.80" style="fill: #404040"/>
     <circle cx="441.8" cy="345.65" r="1.80" style="fill: #404040"/>
     <circle cx="469.8" cy="345.65" r="1.80" style="fill: #404040"/>
     <circle cx="497.4" cy="345.65" r="1.80" style="fill: #404040"/>
     <circle cx="303.2" cy="364.05" r="1.80" style="fill: #404040"/>
     <circle cx="331.2" cy="364.05" r="1.80" style="fill: #404040"/>
     <circle cx="358.8" cy="364.05" r="1.80" style="fill: #404040"/>
     <circle cx="386.4" cy="366.85" r="1.80" style="fill: #404040"/>
     <circle cx="412.4" cy="364.05" r="1.80" style="fill: #404040"/>
     <circle cx="440.2" cy="364.05" r="1.80" style="fill: #404040"/>
     <circle cx="467.8" cy="364.05" r="1.80" style="fill: #404040"/>
     <circle cx="495.4" cy="364.05" r="1.80" style="fill: #404040"/>
     <circle cx="302.2" cy="385.55" r="1.80" style="fill: #404040"/>
     <circle cx="329.4" cy="383.25" r="1.80" style="fill: #404040"/>
     <circle cx="357" cy="383.05" r="1.80" style="fill: #404040"/>
     <circle cx="384.6" cy="383.05" r="1.80" style="fill: #404040"/>
     <circle cx="412.4" cy="383.05" r="1.80" style="fill: #404040"/>
     <circle cx="440.2" cy="383.05" r="1.80" style="fill: #404040"/>
     <circle cx="466.2" cy="383.05" r="1.80" style="fill: #404040"/>
     <circle cx="493.8" cy="383.05" r="1.80" style="fill: #404040"/>
     <circle cx="329.4" cy="401.05" r="1.80" style="fill: #404040"/>
     <circle cx="355.2" cy="401.05" r="1.80" style="fill: #404040"/>
     <circle cx="382.8" cy="401.05" r="1.80" style="fill: #404040"/>
     <circle cx="410.4" cy="401.05" r="1.80" style="fill: #404040"/>
     <circle cx="438.2" cy="401.05" r="1.80" style="fill: #404040"/>
     <circle cx="465.8" cy="398.05" r="1.80" style="fill: #404040"/>
     <circle cx="493.8" cy="401.05" r="1.80" style="fill: #404040"/>
    </g>
   </g>
   <g id="text_76">
    <text style="font-size: 8.55px; font-family: 'DejaVu Sans', sans-serif; text-anchor: middle" x="403.4" y="230.35" transform="rotate(-0 403.4 230.35)">Predicted values - Depth 10 – 20</text>
   </g>
  </g>
  <g id="axes_8">
   <g id="patch_28">
    <path d="M 517.7 401.25 L 526.6 401.25 L 526.6 233.45 L 517.7 233.45 z " style="fill: #ffffff"/>
   </g>
   <g id="QuadMesh_4">
    <path d="M 517.7 401.25 L 526.6 401.25 L 526.6 392.86 L 517.7 392.86 L 517.7 401.25 " clip-path="url(#p12119a0213)" style="fill: #2267ac"/>
    <path d="M 517.7 392.86 L 526.6 392.86 L 526.6 384.47 L 517.7 384.47 L 517.7 392.86 " clip-path="url(#p12119a0213)" style="fill: #2f79b5"/>
    <path d="M 517.7 384.47 L 526.6 384.47 L 526.6 376.08 L 517.7 376.08 L 517.7 384.47 " clip-path="url(#p12119a0213)" style="fill: #3e8cbf"/>
    <path d="M 517.7 376.08 L 526.6 376.08 L 526.6 367.69 L 517.7 367.69 L 517.7 376.08 " clip-path="url(#p12119a0213)" style="fill: #59a1ca"/>
    <path d="M 517.7 367.69 L 526.6 367.69 L 526.6 359.3 L 517.7 359.3 L 517.7 367.69 " clip-path="url(#p12119a0213)" style="fill: #7bb6d6"/>
    <path d="M 517.7 359.3 L 526.6 359.3 L 526.6 350.91 L 517.7 350.91 L 517.7 359.3 " clip-path="url(#p12119a0213)" style="fill: #9bc9e0"/>
    <path d="M 517.7 350.91 L 526.6 350.91 L 526.6 342.52 L 517.7 342.52 L 517.7 350.91 " clip-path="url(#p12119a0213)" style="fill: #b6d7e8"/>
    <path d="M 517.7 342.52 L 526.6 342.52 L 526.6 334.13 L 517.7 334.13 L 517.7 342.52 " clip-path="url(#p12119a0213)" style="fill: #d1e5f0"/>
    <path d="M 517.7 334.13 L 526.6 334.13 L 526.6 325.74 L 517.7 325.74 L 517.7 334.13 " clip-path="url(#p12119a0213)" style="fill: #e0ecf3"/>
    <path d="M 517.7 325.74 L 526.6 325.74 L 526.6 317.35 L 517.7 317.35 L 517.7 325.74 " clip-path="url(#p12119a0213)" style="fill: #f0f4f6"/>
    <path d="M 517.7 317.35 L 526.6 317.35 L 526.6 308.96 L 517.7 308.96 L 517.7 317.35 " clip-path="url(#p12119a0213)" style="fill: #f9f0eb"/>
    <path d="M 517.7 308.96 L 526.6 308.96 L 526.6 300.57 L 517.7 300.57 L 517.7 308.96 " clip-path="url(#p12119a0213)" style="fill: #fbe4d6"/>
    <path d="M 517.7 300.57 L 526.6 300.57 L 526.6 292.18 L 517.7 292.18 L 517.7 300.57 " clip-path="url(#p12119a0213)" style="fill: #fcd5bf"/>
    <path d="M 517.7 292.18 L 526.6 292.18 L 526.6 283.79 L 517.7 283.79 L 517.7 292.18 " clip-path="url(#p12119a0213)" style="fill: #f8bda1"/>
    <path d="M 517.7 283.79 L 526.6 283.79 L 526.6 275.4 L 517.7 275.4 L 517.7 283.79 " clip-path="url(#p12119a0213)" style="fill: #f4a683"/>
    <path d="M 517.7 275.4 L 526.6 275.4 L 526.6 267.01 L 517.7 267.01 L 517.7 275.4 " clip-path="url(#p12119a0213)" style="fill: #e98b6e"/>
    <path d="M 517.7 267.01 L 526.6 267.01 L 526.6 258.62 L 517.7 258.62 L 517.7 267.01 " clip-path="url(#p12119a0213)" style="fill: #dc6e57"/>
    <path d="M 517.7 258.62 L 526.6 258.62 L 526.6 250.23 L 517.7 250.23 L 517.7 258.62 " clip-path="url(#p12119a0213)" style="fill: #ce4f45"/>
    <path d="M 517.7 250.23 L 526.6 250.23 L 526.6 241.84 L 517.7 241.84 L 517.7 250.23 " clip-path="url(#p12119a0213)" style="fill: #be3036"/>
    <path d="M 517.7 241.84 L 526.6 241.84 L 526.6 233.45 L 517.7 233.45 L 517.7 241.84 " clip-path="url(#p12119a0213)" style="fill: #ab162a"/>
   </g>
   <g id="matplotlib.axis_15"/>
   <g id="matplotlib.axis_16">
    <g id="ytick_43">
     <g id="line2d_67">
      <g>
       <path d="M 0 0 L 2.43 0 " transform="translate(526.6 401.25)" style="fill: #333333; stroke: #333333; stroke-width: 0.8"/>
      </g>
     </g>
     <g id="text_77">
      <text style="font-size: 4.53px; font-family: 'DejaVu Sans', sans-serif; text-anchor: start; fill: #222222" x="531.46" y="402.971046" transform="rotate(-0 531.46 402.971046)">8000</text>
     </g>
    </g>
    <g id="ytick_44">
     <g id="line2d_68">
      <g>
       <path d="M 0 0 L 2.43 0 " transform="translate(526.6 367.69)" style="fill: #333333; stroke: #333333; stroke-width: 0.8"/>
      </g>
     </g>
     <g id="text_78">
      <text style="font-size: 4.53px; font-family: 'DejaVu Sans', sans-serif; text-anchor: start; fill: #222222" x="531.46" y="369.411046" transform="rotate(-0 531.46 369.411046)">9900</text>
     </g>
    </g>
    <g id="ytick_45">
     <g id="line2d_69">
      <g>
       <path d="M 0 0 L 2.43 0 " transform="translate(526.6 334.13)" style="fill: #333333; stroke: #333333; stroke-width: 0.8"/>
      </g>
     </g>
     <g id="text_79">
      <text style="font-size: 4.53px; font-family: 'DejaVu Sans', sans-serif; text-anchor: start; fill: #222222" x="531.46" y="335.851046" transform="rotate(-0 531.46 335.851046)">11,800</text>
     </g>
    </g>
    <g id="ytick_46">
     <g id="line2d_70">
      <g>
       <path d="M 0 0 L 2.43 0 " transform="translate(526.6 300.57)" style="fill: #333333; stroke: #333333; stroke-width: 0.8"/>
      </g>
     </g>
     <g id="text_80">
      <text style="font-size: 4.53px; font-family: 'DejaVu Sans', sans-serif; text-anchor: start; fill: #222222" x="531.46" y="302.291046" transform="rotate(-0 531.46 302.291046)">13,700</text>
     </g>
    </g>
    <g id="ytick_47">
     <g id="line2d_71">
      <g>
       <path d="M 0 0 L 2.43 0 " transform="translate(526.6 267.01)" style="fill: #333333; stroke: #333333; stroke-width: 0.8"/>
      </g>
     </g>
     <g id="text_81">
      <text style="font-size: 4.53px; font-family: 'DejaVu Sans', sans-serif; text-anchor: start; fill: #222222" x="531.46" y="268.731046" transform="rotate(-0 531.46 268.731046)">15,600</text>
     </g>
    </g>
    <g id="ytick_48">
     <g id="line2d_72">
      <g>
       <path d="M 0 0 L 2.43 0 " transform="translate(526.6 233.45)" style="fill: #333333; stroke: #333333; stroke-width: 0.8"/>
      </g>
     </g>
     <g id="text_82">
      <text style="font-size: 4.53px; font-family: 'DejaVu Sans', sans-serif; text-anchor: start; fill: #222222" x="531.46" y="235.171046" transform="rotate(-0 531.46 235.171046)">17,500</text>
     </g>
    </g>
   </g>
   <g id="LineCollection_4"/>
   <g id="patch_29">
    <path d="M 517.7 401.25 L 522.15 401.25 L 526.6 401.25 L 526.6 233.45 L 522.15 233.45 L 517.7 233.45 L 517.7 401.25 z " style="fill: none; stroke: #333333; stroke-width: 0.7; stroke-linejoin: miter; stroke-linecap: square"/>
   </g>
  </g>
  <g id="axes_9">
   <g id="patch_30">
    <path d="M 31.2 606.3 L 234 606.3 L 234 438.5 L 31.2 438.5 z " style="fill: #ffffff"/>
   </g>
   <g id="field4"><rect x="31.2" y="438.5" width="202.8" height="167.8" fill="#2b73b3"/>
<path fill="#3c8abe" fill-rule="evenodd" d="M31.2 438.5L234 438.5 234 606.3 31.2 606.3ZM117.9 514.2L116.7 514.6 116.3 515.8 116.7 517.3 117.9 517.7 118.6 515.8Z"/>
<path fill="#5ca3cb" fill-rule="evenodd" d="M31.2 438.5L234 438.5 234 606.3 116.5 606.3 116.2 602.7 115.5 600.3 114.1 598.4 112.8 597.8 111.6 598.2 109.7 600.3 108.7 602.7 108.3 606.3 31.2 606.3ZM61.8 527.9L60.5 529.1 59.9 531.5 60.5 534.5 61.8 535.7 63.3 535.1 64 533.9 64.4 531.5 63.7 529 63.1 528.1ZM117.9 508.4L116.7 508.7 114.7 510.9 113.8 513.3 113.5 515.8 113.9 519.4 114.9 521.8 116.7 523.7 117.9 523.9 119.2 523.4 120.6 521.8 121.5 519.4 121.9 515.8 121.6 513.3 120.5 510.3 119.2 508.9ZM140.9 566L139.6 567.7 139.2 570.1 139.6 572.9 140.9 574.7 142.2 574.2 143 572.5 143.5 570.1 143.1 567.7 142.4 566.5ZM194.5 601.8L193.9 602.7 193.9 603.9 194.5 605.2 195.7 604.9 196.1 603.9 195.7 602.1Z"/>
<path fill="#81bad8" fill-rule="evenodd" d="M31.2 438.5L234 438.5 234 606.3 199.5 606.3 199.4 602.7 198.5 600.3 197 598.5 195.7 597.8 194.5 597.7 193.2 598.2 191.4 600.3 190.6 602.7 190.5 606.3 123.4 606.3 122.8 597.8 120.5 589.6 117.6 584.6 115.4 582.9 114.1 582.7 112.5 583.4 110.3 585.4 106.5 591.8 103.9 599.1 102.9 606.3 87.4 606.3 86.4 603.9 84.8 602.8 83.1 603.9 82.3 606.3 31.2 606.3ZM61.8 521.6L60.5 522.6 58.8 525.4 57.6 529 57.4 532.7 57.8 536.3 59.2 539.9 60.5 541.8 61.8 542.4 63.1 542.2 64.4 541.2 65.6 539.4 66.9 536.1 67.5 531.5 66.9 526.8 65.6 523.5 64.4 521.9 63.1 521.3ZM119.2 497.6L115.4 500.6 112.8 504.5 110.9 509.7 110.1 515.8 110.6 521.8 112.1 526.6 115.4 532 116.7 533.5 117.9 534 121.3 531.5 123.7 527.8 125.4 523 126.1 517 125.8 512.1 124.3 506.1 121.8 500.6ZM142.2 552.4L138.3 555.9 136.8 558 135 561.6 133.4 567.7 132.5 576.1 132.8 584.6 134.5 591.5 137.1 595.5 138.7 596.6 140.9 597.1 143.4 596 144.7 594.6 146.1 591.8 147.5 585.8 148.1 576.1 148 570.1 147.1 564 143.4 552.8ZM222.5 582.9L221.2 584 220.4 585.8 220.1 589.4 221.2 592.3 222.5 593.3 223.8 593.4 225.1 592.4 226 590.6 226.3 587 225.1 583.7 223.8 582.8Z"/>
<path fill="#a5cee3" fill-rule="evenodd" d="M31.2 438.5L234 438.5 234 606.3 204.7 606.3 204 601.5 202.2 597.8 200.8 596.4 198.3 594.7 194.5 593.8 190.6 594.6 188.1 596.7 186.3 600.3 185.2 606.3 153.1 606.3 154 596.6 154.1 583.4 152.7 567.7 150.8 556.8 148.6 549.6 146 544.5 144.7 543 142.2 541.1 140.9 540.5 138.3 540.1 135.8 540.8 132.4 542.3 129.7 544.7 128.6 547.1 125.6 556.4 124.3 559.1 123 560.6 115.4 563.7 112.8 565.1 110.3 567.1 107.7 570.1 103.7 576.1 98.8 588.6 96.2 592.6 95 593.5 93.7 593.7 89.9 593.5 83.5 594 80.9 595.3 78.7 597.8 77.5 600.3 76.2 606.3 31.2 606.3ZM63.1 509.3L60.5 512.1 56.7 520.1 55.2 525.4 54.4 531.5 55 539.9 57.3 549.6 59.3 553.8 60.5 554.7 61.8 554.8 63.1 554.1 65.1 552 68.2 546.3 70.2 539.9 71.3 532.7 70.7 524 68.4 514.6 66.9 511.1 65.6 509.6 64.4 509ZM119.2 471L117.9 471.3 116.6 472.3 115 474.7 114.1 477.1 112.5 486.8 109 497.8 107.2 504.9 106.2 512.1 106 518.2 106.5 524.2 107.4 529 109 533.8 110.9 537.5 112.8 540 115.4 542.1 119.2 543.9 121.8 544.2 125.6 543 126.9 542.1 128.5 539.9 131.3 530.2 134.5 512.5 135.1 512.1 134.5 511.6 133.8 508.5 132 504.7 129.3 497.7 127.2 489.2 125.8 479.5 124.7 475.9 122.3 472.3 120.5 471.2ZM143.4 491.2L140.9 493.7 138.9 497.7 136.7 504.9 135.8 510.1 135.1 510.9 135.8 511.6 136.4 514.6 138.2 518.2 140.2 520.6 142.2 521.6 144.7 521 146 519.8 147.3 517 149.3 498.9 148.9 495.2 147.3 492.1 146 491.1 144.7 490.9ZM223.8 574.8L221.2 575.9 219.7 577.3 218.1 579.7 216.3 584.6 215.8 590.6 216.7 595.4 218.7 599.2 221.2 600.9 225.1 601.3 227.8 600.3 230.2 597.2 231.4 593 231.7 588.2 230.9 583.4 228.9 578.7 226.3 575.7 225.1 575Z"/>
<path fill="#c2ddec" fill-rule="evenodd" d="M31.2 438.5L104.4 438.5 103.2 447 102.1 450.6 100.8 453 98.8 455.5 95 458.8 93.7 459.7 89.9 461.2 87.3 463 85 466.3 83.9 471.1 84.4 475.9 86.5 480.8 88.6 483.2 95 487.6 97.5 490.1 99.8 494 101.2 498.9 102.5 536.3 102.4 544.7 101.2 552 99.8 555.6 97.8 559.2 95 562.6 92.4 564.3 87.3 565.3 80.9 567.5 78.4 567.3 76.7 566.5 74.7 564 73.6 561.6 72.9 559.2 72.7 555.6 75.3 533.9 75.4 521.8 73.8 498.9 72.7 495.2 69.9 491.6 66.9 490 64.4 489.8 61.8 491.1 60.5 492.7 58.9 496.4 52.9 517.8 51.7 527.8 51.7 543.5 52.1 549.6 53.8 560.4 54.8 570.1 55.8 573.7 57.2 576.1 59.3 578.2 65.2 582.2 67.2 584.6 68.5 587 69.4 593 69.2 606.3 31.2 606.3 31.2 576.7 32.5 577.9 33.8 578.1 35 577.5 36 576.1 36.6 573.7 36.1 570.1 34.8 567.7 32.5 566.5 31.2 567.2ZM152 438.5L234 438.5 234 572.9 230.3 568.9 226.3 566.2 223.8 565.8 221.2 567 218.7 569 215.8 572.5 213.6 577.2 209.8 588.2 208.5 590.1 207.2 591 204.7 591.5 198.3 590.2 190.6 589.4 184.3 589.6 179.2 590.6 177.9 590 172.8 582 163.8 573.3 161.3 569.5 160 566.7 156.4 552 152.8 539.9 151.6 532.7 151.7 527.8 153.6 513.2 154.3 500.1 154.1 494 152.6 479.5 150 466.3 150.9 456.6 150.7 448.2Z"/>
<path fill="#dbeaf2" fill-rule="evenodd" d="M160.6 438.5L234 438.5 234 556.3 228.9 557 221.2 557.2 217.4 558.4 214.9 560.1 212.9 564 209 577.3 207.5 580.9 205.9 583.2 204.7 584.3 202.1 585.3 197 585.9 193.2 585.1 188.1 582.7 184.9 579.7 183.4 577.3 180.4 569.1 177.9 564 171.5 559.3 169 556.5 166.8 553.2 163.8 547.2 159.3 535.1 157.6 526.6 157.1 518.2 157.7 507.3 160 490.4 159.4 468.7ZM31.2 484.4L40.1 491.1 43.9 495.2 46.5 500.5 48.2 508.5 49.2 532.7 48.8 543.5 47.9 550.8 46.5 555 44 559 41.4 560.9 37.6 561.9 31.2 562.1ZM91.1 500.1L93.7 505.9 95.7 513.3 96.8 530.2 96.7 538.7 95.6 547.1 93.7 553.2 91 556.8 89.9 557.6 87.3 558.2 84.8 557.4 83.5 556.4 81.9 554.4 80.7 552 79.4 545.9 79.5 538.7 80.9 524 82.1 515.8 83.2 510.9 84.5 507.3 86 504.7 88.6 501.8ZM56.7 599.1L58 598.9 59.3 599.6 60.5 601.1 61.5 603.9 61.6 606.3 53.7 606.3 53.8 603.9 54.4 601.5 55.4 599.9Z"/>
<path fill="#edf2f5" fill-rule="evenodd" d="M170.5 438.5L234 438.5 234 504 230.2 498.4 226.3 503.2 223.2 508.5 221.6 513.3 219.4 523 218.7 524.5 217.4 525.4 216.1 525.5 214.9 525 212.3 522.9 206.4 513.3 204.3 510.9 202.2 509.7 200.8 509.5 198.3 510.3 196.6 512.1 195.4 514.6 190.1 531.5 186.4 538.7 184.3 541.5 181.7 544 179.2 545.5 175.3 546.3 172.8 545.9 170.2 544.5 167.7 542.1 165.1 538.5 163.3 535.1 161.5 530.2 160.4 525.4 159.8 519.4 159.9 512.1 161.2 503.7 162.9 497.7 167.2 486.8 167.7 484.4 167.3 475.9 167.5 469.9ZM31.2 504.9L33.8 504.7 37.6 506 40.1 508.2 42.7 511.9 44.5 515.8 45.6 519.4 46.6 525.4 47 531.5 46.9 537.5 46.3 543.5 45.2 548.2 44 551.1 41.6 554.4 38.9 556.6 36.3 557.7 32.5 558.2 31.2 558.2ZM88.5 526.6L89.9 526.5 91.1 528.3 91.9 532.7 90.3 541.1 90.2 548.4 89.8 550.8 88.6 552.6 87.3 552.6 86.1 550.8 85.7 548.4 86.4 541.1 86.2 533.9 87 529ZM193.1 552L195.7 552.5 202.2 555.6 204.7 558.6 206 562.8 206.4 566.5 206.3 570.1 204.8 576.1 203.4 578.4 202.1 579.6 200.8 580.5 198.3 581.3 194.5 580.9 190.9 578.5 188.4 574.9 187.3 571.3 186.9 564 187.9 558 188.8 555.6 190.5 553.2 191.9 552.2Z"/>
<path fill="#f9f0eb" fill-rule="evenodd" d="M186.6 438.5L234 438.5 234 488.9 226.3 487.6 221.2 487.9 218.7 489.3 212.3 495.5 209.8 496.7 205.9 497.4 202.1 497.3 198 496.4 194.5 494.8 192.1 492.8 189.5 489.2 187.5 484.4 185 477.1 184.1 472.3 184 468.7 185.6 455.4 185.9 443.3ZM174.7 490.4L176.6 490 179.2 490.5 181.7 492.3 184.3 495.7 185.7 498.9 187 503.7 187.7 513.3 187.4 519.4 186.6 524.2 185.2 529 183.6 532.7 181.7 535.6 179.2 538.3 176.6 539.8 174.1 540.3 171.5 539.7 169 537.8 165.4 532.7 162.9 525.4 162.1 520.6 161.9 515.8 162.9 507.3 165.4 500.1 169 494.5 171.5 492.1ZM31.2 512.1L33.8 511.3 36.3 511.6 38.7 513.3 40.1 515.1 42.4 519.4 43.7 523 44.7 527.8 45 532.7 44.9 537.5 44.3 542.3 42.1 548.4 40.1 551.1 37.6 553.3 35 554.5 32.5 554.9 31.2 554.7ZM194.8 560.4L197 560 199.6 561.3 201.4 564 202.1 566.5 202.2 570.1 201.3 573.7 199.6 576 197 577 194.6 576.1 193.3 574.9 192 572.5 191.4 570.1 191.5 566.5 192 564 193.2 561.8Z"/>
<path fill="#fbe3d4" fill-rule="evenodd" d="M217.1 438.5L234 438.5 234 470.9 232.7 471.8 231.4 470.8 227.6 464.9 220.7 450.6 218.3 444.5ZM204.4 460.2L205.9 460.5 207.2 461.6 209 465.1 210 469.9 210.1 475.9 209.1 480.8 207.2 484.4 204.7 486.5 202.1 486.8 199.6 485.3 198.1 483.2 197.1 479.5 196.9 474.7 197.9 469.9 199.6 466 202.1 462.3ZM172.4 497.7L174.1 497.2 176.6 497.5 178.9 498.9 180.4 500.5 182.3 503.7 183.2 506.1 184.5 513.3 184.2 520.6 182.3 527.8 180.4 531.3 178.4 533.9 176.6 535.3 174.1 536.3 172.8 536.2 170.6 535.1 167.7 531.5 165.1 525.4 163.8 518.2 164.2 510.9 166 504.9 169 500.2 170.2 498.9ZM31.6 517L33.8 516.1 36.3 516 38.9 518.9 40.5 521.8 42 525.4 42.8 529 43.2 533.9 42.4 541.1 40.5 545.9 37.6 549.6 35 551.3 32.5 552 31.2 551.5 31.2 517.2ZM197 565.3L198.6 566.5 199.2 568.9 198.7 571.3 198.3 572 197 572.7 195.7 572.1 195.2 571.3 194.6 568.9 195.3 566.5 195.7 565.8Z"/>
<path fill="#fbceb7" fill-rule="evenodd" d="M230 438.5L234 438.5 234 445.7 232.7 445.9 231 444.5 230 442.1ZM171 502.5L172.8 501.7 175.3 501.7 178.3 503.7 180 506.1 181 508.5 182.1 514.6 181.7 520.6 179.8 526.6 176.6 531.2 174.1 532.9 172.8 533 170.2 530.8 167.7 526.7 166.4 523 165.6 518.2 165.7 513.3 166.8 508.5 169 504.4ZM33.2 520.6L35 520.5 36.3 521 38.9 523.9 40.8 529 41.4 535.1 40.8 539.9 38.9 544.4 36.3 547.2 33.8 548.4 32.5 548.5 31.2 547.8 31.2 521.6Z"/>
<path fill="#f7b596" fill-rule="evenodd" d="M170.7 506.1L172.8 505 174.1 504.9 176.6 506.1 178.9 509.7 179.9 513.3 180 518.2 178.9 523 176.6 527 174.1 529 172.8 529 170.2 526.7 168.2 523 167.3 519.4 167.1 515.8 167.5 512.1 168.8 508.5ZM33.2 524.2L35 524.1 36.3 524.8 37.6 526.2 39.3 530.2 39.8 533.9 39.6 537.5 38.4 541.1 36.3 543.9 33.8 545 32.5 544.8 31.2 544 31.2 525.4Z"/>
<path fill="#ee9677" fill-rule="evenodd" d="M171.3 508.5L172.8 507.8 174.1 507.8 175.3 508.4 177.2 510.9 178 513.3 178.2 517 177.6 520.6 176.5 523 175.3 524.4 174.1 525.2 172.8 525.2 171.5 524.5 170.3 523 169.2 520.6 168.6 518.2 168.6 514.6 169.1 512.1 170.2 509.7ZM32.3 527.8L33.8 527.1 35 527.2 36.3 528.1 37.6 530.1 38.3 532.7 38.3 536.3 37.6 538.8 36.3 540.9 35 541.8 33.8 542.1 32.5 541.6 31.2 540.2 31.2 529.1Z"/>
<path fill="#df765e" fill-rule="evenodd" d="M171.6 510.9L172.8 510.2 174.1 510.3 175.3 511.4 176.3 513.3 176.7 515.8 176.4 518.2 175.3 520.9 174.1 522 172.8 522.1 171.5 521.3 170.1 518.2 169.9 514.6 170.7 512.1ZM33 530.2L33.8 529.7 35 529.8 36.3 531.2 36.8 532.7 36.9 536.3 36.3 537.8 35 539.3 33.8 539.4 32.7 538.7 31.5 536.3 31.6 532.7Z"/>
<path fill="#cf5246" fill-rule="evenodd" d="M171.7 513.3L172.8 512.4 174.1 512.7 175.1 514.6 175.1 517 174.1 519.2 172.8 519.5 171.5 518.2 171 515.8ZM33.3 532.7L33.8 532.1 35 532.2 35.3 532.7 35.8 535.1 35 536.9 33.8 537 33.2 536.3 32.8 533.9Z"/>
<path fill="#bd2d35" fill-rule="evenodd" d="M172.6 514.6L173.2 514.6 173.9 515.8 172.8 517.3 172.1 515.8Z"/></g>
   <g id="matplotlib.axis_17">
    <g id="xtick_25">
     <g id="line2d_73">
      <g>
       <path d="M 0 0 L 0 2.43 " transform="translate(32.3 606.3)" style="fill: #333333; stroke: #333333; stroke-width: 0.8"/>
      </g>
     </g>
     <g id="text_83">
      <text style="font-size: 7.05px; font-family: 'DejaVu Sans', sans-serif; text-anchor: middle; fill: #222222" x="32.3" y="616.516898" transform="rotate(-0 32.3 616.516898)">495,600</text>
     </g>
    </g>
    <g id="xtick_26">
     <g id="line2d_74">
      <g>
       <path d="M 0 0 L 0 2.43 " transform="translate(69.4 606.3)" style="fill: #333333; stroke: #333333; stroke-width: 0.8"/>
      </g>
     </g>
     <g id="text_84">
      <text style="font-size: 7.05px; font-family: 'DejaVu Sans', sans-serif; text-anchor: middle; fill: #222222" x="69.4" y="616.516898" transform="rotate(-0 69.4 616.516898)">495,620</text>
     </g>
    </g>
    <g id="xtick_27">
     <g id="line2d_75">
      <g>
       <path d="M 0 0 L 0 2.43 " transform="translate(106.5 606.3)" style="fill: #333333; stroke: #333333; stroke-width: 0.8"/>
      </g>
     </g>
     <g id="text_85">
      <text style="font-size: 7.05px; font-family: 'DejaVu Sans', sans-serif; text-anchor: middle; fill: #222222" x="106.5" y="616.516898" transform="rotate(-0 106.5 616.516898)">495,640</text>
     </g>
    </g>
    <g id="xtick_28">
     <g id="line2d_76">
      <g>
       <path d="M 0 0 L 0 2.43 " transform="translate(143.6 606.3)" style="fill: #333333; stroke: #333333; stroke-width: 0.8"/>
      </g>
     </g>
     <g id="text_86">
      <text style="font-size: 7.05px; font-family: 'DejaVu Sans', sans-serif; text-anchor: middle; fill: #222222" x="143.6" y="616.516898" transform="rotate(-0 143.6 616.516898)">495,660</text>
     </g>
    </g>
    <g id="xtick_29">
     <g id="line2d_77">
      <g>
       <path d="M 0 0 L 0 2.43 " transform="translate(180.7 606.3)" style="fill: #333333; stroke: #333333; stroke-width: 0.8"/>
      </g>
     </g>
     <g id="text_87">
      <text style="font-size: 7.05px; font-family: 'DejaVu Sans', sans-serif; text-anchor: middle; fill: #222222" x="180.7" y="616.516898" transform="rotate(-0 180.7 616.516898)">495,680</text>
     </g>
    </g>
    <g id="xtick_30">
     <g id="line2d_78">
      <g>
       <path d="M 0 0 L 0 2.43 " transform="translate(217.8 606.3)" style="fill: #333333; stroke: #333333; stroke-width: 0.8"/>
      </g>
     </g>
     <g id="text_88">
      <text style="font-size: 7.05px; font-family: 'DejaVu Sans', sans-serif; text-anchor: middle; fill: #222222" x="217.8" y="616.516898" transform="rotate(-0 217.8 616.516898)">495,700</text>
     </g>
    </g>
    <g id="text_89">
     <text style="font-size: 7.05px; font-family: 'DejaVu Sans', sans-serif; text-anchor: middle" x="132.6" y="625.739977" transform="rotate(-0 132.6 625.739977)">Easting</text>
    </g>
   </g>
   <g id="matplotlib.axis_18">
    <g id="ytick_49">
     <g id="line2d_79">
      <g>
       <path d="M 0 0 L -2.43 0 " transform="translate(31.2 462.8)" style="fill: #333333; stroke: #333333; stroke-width: 0.8"/>
      </g>
     </g>
     <g id="text_90">
      <text style="font-size: 7.05px; font-family: 'DejaVu Sans', sans-serif; text-anchor: end; fill: #222222" x="26.34" y="465.478449" transform="rotate(-0 26.34 465.478449)">90</text>
     </g>
    </g>
    <g id="ytick_50">
     <g id="line2d_80">
      <g>
       <path d="M 0 0 L -2.43 0 " transform="translate(31.2 489.44)" style="fill: #333333; stroke: #333333; stroke-width: 0.8"/>
      </g>
     </g>
     <g id="text_91">
      <text style="font-size: 7.05px; font-family: 'DejaVu Sans', sans-serif; text-anchor: end; fill: #222222" x="26.34" y="492.118449" transform="rotate(-0 26.34 492.118449)">80</text>
     </g>
    </g>
    <g id="ytick_51">
     <g id="line2d_81">
      <g>
       <path d="M 0 0 L -2.43 0 " transform="translate(31.2 516.08)" style="fill: #333333; stroke: #333333; stroke-width: 0.8"/>
      </g>
     </g>
     <g id="text_92">
      <text style="font-size: 7.05px; font-family: 'DejaVu Sans', sans-serif; text-anchor: end; fill: #222222" x="26.34" y="518.758449" transform="rotate(-0 26.34 518.758449)">70</text>
     </g>
    </g>
    <g id="ytick_52">
     <g id="line2d_82">
      <g>
       <path d="M 0 0 L -2.43 0 " transform="translate(31.2 542.72)" style="fill: #333333; stroke: #333333; stroke-width: 0.8"/>
      </g>
     </g>
     <g id="text_93">
      <text style="font-size: 7.05px; font-family: 'DejaVu Sans', sans-serif; text-anchor: end; fill: #222222" x="26.34" y="545.398449" transform="rotate(-0 26.34 545.398449)">60</text>
     </g>
    </g>
    <g id="ytick_53">
     <g id="line2d_83">
      <g>
       <path d="M 0 0 L -2.43 0 " transform="translate(31.2 569.36)" style="fill: #333333; stroke: #333333; stroke-width: 0.8"/>
      </g>
     </g>
     <g id="text_94">
      <text style="font-size: 7.05px; font-family: 'DejaVu Sans', sans-serif; text-anchor: end; fill: #222222" x="26.34" y="572.038449" transform="rotate(-0 26.34 572.038449)">50</text>
     </g>
    </g>
    <g id="ytick_54">
     <g id="line2d_84">
      <g>
       <path d="M 0 0 L -2.43 0 " transform="translate(31.2 596)" style="fill: #333333; stroke: #333333; stroke-width: 0.8"/>
      </g>
     </g>
     <g id="text_95">
      <text style="font-size: 7.05px; font-family: 'DejaVu Sans', sans-serif; text-anchor: end; fill: #222222" x="26.34" y="598.678449" transform="rotate(-0 26.34 598.678449)">40</text>
     </g>
    </g>
    <g id="text_96">
     <text style="font-size: 7.05px; font-family: 'DejaVu Sans', sans-serif; text-anchor: middle" x="14.402695" y="522.4" transform="rotate(-90 14.402695 522.4)">Northing</text>
    </g>
   </g>
   <g id="patch_31">
    <path d="M 31.2 606.3 L 31.2 438.5 " style="fill: none; stroke: #333333; stroke-width: 0.7; stroke-linejoin: miter; stroke-linecap: square"/>
   </g>
   <g id="patch_32">
    <path d="M 234 606.3 L 234 438.5 " style="fill: none; stroke: #333333; stroke-width: 0.7; stroke-linejoin: miter; stroke-linecap: square"/>
   </g>
   <g id="patch_33">
    <path d="M 31.2 606.3 L 234 606.3 " style="fill: none; stroke: #333333; stroke-width: 0.7; stroke-linejoin: miter; stroke-linecap: square"/>
   </g>
   <g id="patch_34">
    <path d="M 31.2 438.5 L 234 438.5 " style="fill: none; stroke: #333333; stroke-width: 0.7; stroke-linejoin: miter; stroke-linecap: square"/>
   </g>
   <g id="PathCollection_5">
    <g clip-path="url(#pd78ac9f2c9)">
     <circle cx="42" cy="438.7" r="1.80" style="fill: #404040"/>
     <circle cx="67.6" cy="441.5" r="1.80" style="fill: #404040"/>
     <circle cx="95.4" cy="441.5" r="1.80" style="fill: #404040"/>
     <circle cx="125" cy="438.7" r="1.80" style="fill: #404040"/>
     <circle cx="150.6" cy="438.7" r="1.80" style="fill: #404040"/>
     <circle cx="178.6" cy="441.5" r="1.80" style="fill: #404040"/>
     <circle cx="206.2" cy="441.5" r="1.80" style="fill: #404040"/>
     <circle cx="233" cy="440.7" r="1.80" style="fill: #404040"/>
     <circle cx="40" cy="457.1" r="1.80" style="fill: #404040"/>
     <circle cx="67.6" cy="457.1" r="1.80" style="fill: #404040"/>
     <circle cx="93.6" cy="459.9" r="1.80" style="fill: #404040"/>
     <circle cx="123" cy="459.9" r="1.80" style="fill: #404040"/>
     <circle cx="149" cy="457.1" r="1.80" style="fill: #404040"/>
     <circle cx="176.8" cy="459.9" r="1.80" style="fill: #404040"/>
     <circle cx="204.4" cy="459.9" r="1.80" style="fill: #404040"/>
     <circle cx="232.6" cy="459.9" r="1.80" style="fill: #404040"/>
     <circle cx="38" cy="478.5" r="1.80" style="fill: #404040"/>
     <circle cx="66" cy="478.5" r="1.80" style="fill: #404040"/>
     <circle cx="93.6" cy="478.5" r="1.80" style="fill: #404040"/>
     <circle cx="119.4" cy="478.5" r="1.80" style="fill: #404040"/>
     <circle cx="149" cy="478.5" r="1.80" style="fill: #404040"/>
     <circle cx="175" cy="476.1" r="1.80" style="fill: #404040"/>
     <circle cx="202.6" cy="478.5" r="1.80" style="fill: #404040"/>
     <circle cx="232.4" cy="478.5" r="1.80" style="fill: #404040"/>
     <circle cx="36.4" cy="497.3" r="1.80" style="fill: #404040"/>
     <circle cx="64.2" cy="497.3" r="1.80" style="fill: #404040"/>
     <circle cx="91.8" cy="497.3" r="1.80" style="fill: #404040"/>
     <circle cx="119.4" cy="497.3" r="1.80" style="fill: #404040"/>
     <circle cx="147" cy="497.3" r="1.80" style="fill: #404040"/>
     <circle cx="175" cy="497.3" r="1.80" style="fill: #404040"/>
     <circle cx="202.6" cy="497.3" r="1.80" style="fill: #404040"/>
     <circle cx="230.4" cy="497.3" r="1.80" style="fill: #404040"/>
     <circle cx="36.4" cy="515.9" r="1.80" style="fill: #404040"/>
     <circle cx="64.2" cy="513.1" r="1.80" style="fill: #404040"/>
     <circle cx="89.8" cy="515.9" r="1.80" style="fill: #404040"/>
     <circle cx="117.4" cy="515.9" r="1.80" style="fill: #404040"/>
     <circle cx="145" cy="515.7" r="1.80" style="fill: #404040"/>
     <circle cx="173" cy="515.7" r="1.80" style="fill: #404040"/>
     <circle cx="200.6" cy="515.7" r="1.80" style="fill: #404040"/>
     <circle cx="228.4" cy="515.7" r="1.80" style="fill: #404040"/>
     <circle cx="34.4" cy="534.5" r="1.80" style="fill: #404040"/>
     <circle cx="62" cy="531.7" r="1.80" style="fill: #404040"/>
     <circle cx="89.6" cy="531.7" r="1.80" style="fill: #404040"/>
     <circle cx="117.4" cy="534.5" r="1.80" style="fill: #404040"/>
     <circle cx="145" cy="534.5" r="1.80" style="fill: #404040"/>
     <circle cx="173" cy="531.7" r="1.80" style="fill: #404040"/>
     <circle cx="200.6" cy="534.5" r="1.80" style="fill: #404040"/>
     <circle cx="226.6" cy="534.5" r="1.80" style="fill: #404040"/>
     <circle cx="32.4" cy="550.7" r="1.80" style="fill: #404040"/>
     <circle cx="60.4" cy="550.7" r="1.80" style="fill: #404040"/>
     <circle cx="88" cy="550.7" r="1.80" style="fill: #404040"/>
     <circle cx="115.6" cy="550.7" r="1.80" style="fill: #404040"/>
     <circle cx="143.4" cy="550.7" r="1.80" style="fill: #404040"/>
     <circle cx="171" cy="550.7" r="1.80" style="fill: #404040"/>
     <circle cx="199" cy="550.7" r="1.80" style="fill: #404040"/>
     <circle cx="226.6" cy="550.7" r="1.80" style="fill: #404040"/>
     <circle cx="32.4" cy="569.1" r="1.80" style="fill: #404040"/>
     <circle cx="60.4" cy="569.1" r="1.80" style="fill: #404040"/>
     <circle cx="88" cy="569.1" r="1.80" style="fill: #404040"/>
     <circle cx="115.6" cy="571.9" r="1.80" style="fill: #404040"/>
     <circle cx="141.6" cy="569.1" r="1.80" style="fill: #404040"/>
     <circle cx="169.4" cy="569.1" r="1.80" style="fill: #404040"/>
     <circle cx="197" cy="569.1" r="1.80" style="fill: #404040"/>
     <circle cx="224.6" cy="569.1" r="1.80" style="fill: #404040"/>
     <circle cx="31.4" cy="590.6" r="1.80" style="fill: #404040"/>
     <circle cx="58.6" cy="588.3" r="1.80" style="fill: #404040"/>
     <circle cx="86.2" cy="588.1" r="1.80" style="fill: #404040"/>
     <circle cx="113.8" cy="588.1" r="1.80" style="fill: #404040"/>
     <circle cx="141.6" cy="588.1" r="1.80" style="fill: #404040"/>
     <circle cx="169.4" cy="588.1" r="1.80" style="fill: #404040"/>
     <circle cx="195.4" cy="588.1" r="1.80" style="fill: #404040"/>
     <circle cx="223" cy="588.1" r="1.80" style="fill: #404040"/>
     <circle cx="58.6" cy="606.1" r="1.80" style="fill: #404040"/>
     <circle cx="84.4" cy="606.1" r="1.80" style="fill: #404040"/>
     <circle cx="112" cy="606.1" r="1.80" style="fill: #404040"/>
     <circle cx="139.6" cy="606.1" r="1.80" style="fill: #404040"/>
     <circle cx="167.4" cy="606.1" r="1.80" style="fill: #404040"/>
     <circle cx="195" cy="603.1" r="1.80" style="fill: #404040"/>
     <circle cx="223" cy="606.1" r="1.80" style="fill: #404040"/>
    </g>
   </g>
   <g id="text_97">
    <text style="font-size: 8.55px; font-family: 'DejaVu Sans', sans-serif; text-anchor: middle" x="132.6" y="435.4" transform="rotate(-0 132.6 435.4)">Interpolated values - Depth 20 – 30</text>
   </g>
  </g>
  <g id="axes_10">
   <g id="patch_35">
    <path d="M 246.9 606.3 L 255.8 606.3 L 255.8 438.5 L 246.9 438.5 z " style="fill: #ffffff"/>
   </g>
   <g id="QuadMesh_5">
    <path d="M 246.9 606.3 L 255.8 606.3 L 255.8 597.91 L 246.9 597.91 L 246.9 606.3 " clip-path="url(#pc7654ac9b4)" style="fill: #2267ac"/>
    <path d="M 246.9 597.91 L 255.8 597.91 L 255.8 589.52 L 246.9 589.52 L 246.9 597.91 " clip-path="url(#pc7654ac9b4)" style="fill: #2f79b5"/>
    <path d="M 246.9 589.52 L 255.8 589.52 L 255.8 581.13 L 246.9 581.13 L 246.9 589.52 " clip-path="url(#pc7654ac9b4)" style="fill: #3e8cbf"/>
    <path d="M 246.9 581.13 L 255.8 581.13 L 255.8 572.74 L 246.9 572.74 L 246.9 581.13 " clip-path="url(#pc7654ac9b4)" style="fill: #59a1ca"/>
    <path d="M 246.9 572.74 L 255.8 572.74 L 255.8 564.35 L 246.9 564.35 L 246.9 572.74 " clip-path="url(#pc7654ac9b4)" style="fill: #7bb6d6"/>
    <path d="M 246.9 564.35 L 255.8 564.35 L 255.8 555.96 L 246.9 555.96 L 246.9 564.35 " clip-path="url(#pc7654ac9b4)" style="fill: #9bc9e0"/>
    <path d="M 246.9 555.96 L 255.8 555.96 L 255.8 547.57 L 246.9 547.57 L 246.9 555.96 " clip-path="url(#pc7654ac9b4)" style="fill: #b6d7e8"/>
    <path d="M 246.9 547.57 L 255.8 547.57 L 255.8 539.18 L 246.9 539.18 L 246.9 547.57 " clip-path="url(#pc7654ac9b4)" style="fill: #d1e5f0"/>
    <path d="M 246.9 539.18 L 255.8 539.18 L 255.8 530.79 L 246.9 530.79 L 246.9 539.18 " clip-path="url(#pc7654ac9b4)" style="fill: #e0ecf3"/>
    <path d="M 246.9 530.79 L 255.8 530.79 L 255.8 522.4 L 246.9 522.4 L 246.9 530.79 " clip-path="url(#pc7654ac9b4)" style="fill: #f0f4f6"/>
    <path d="M 246.9 522.4 L 255.8 522.4 L 255.8 514.01 L 246.9 514.01 L 246.9 522.4 " clip-path="url(#pc7654ac9b4)" style="fill: #f9f0eb"/>
    <path d="M 246.9 514.01 L 255.8 514.01 L 255.8 505.62 L 246.9 505.62 L 246.9 514.01 " clip-path="url(#pc7654ac9b4)" style="fill: #fbe4d6"/>
    <path d="M 246.9 505.62 L 255.8 505.62 L 255.8 497.23 L 246.9 497.23 L 246.9 505.62 " clip-path="url(#pc7654ac9b4)" style="fill: #fcd5bf"/>
    <path d="M 246.9 497.23 L 255.8 497.23 L 255.8 488.84 L 246.9 488.84 L 246.9 497.23 " clip-path="url(#pc7654ac9b4)" style="fill: #f8bda1"/>
    <path d="M 246.9 488.84 L 255.8 488.84 L 255.8 480.45 L 246.9 480.45 L 246.9 488.84 " clip-path="url(#pc7654ac9b4)" style="fill: #f4a683"/>
    <path d="M 246.9 480.45 L 255.8 480.45 L 255.8 472.06 L 246.9 472.06 L 246.9 480.45 " clip-path="url(#pc7654ac9b4)" style="fill: #e98b6e"/>
    <path d="M 246.9 472.06 L 255.8 472.06 L 255.8 463.67 L 246.9 463.67 L 246.9 472.06 " clip-path="url(#pc7654ac9b4)" style="fill: #dc6e57"/>
    <path d="M 246.9 463.67 L 255.8 463.67 L 255.8 455.28 L 246.9 455.28 L 246.9 463.67 " clip-path="url(#pc7654ac9b4)" style="fill: #ce4f45"/>
    <path d="M 246.9 455.28 L 255.8 455.28 L 255.8 446.89 L 246.9 446.89 L 246.9 455.28 " clip-path="url(#pc7654ac9b4)" style="fill: #be3036"/>
    <path d="M 246.9 446.89 L 255.8 446.89 L 255.8 438.5 L 246.9 438.5 L 246.9 446.89 " clip-path="url(#pc7654ac9b4)" style="fill: #ab162a"/>
   </g>
   <g id="matplotlib.axis_19"/>
   <g id="matplotlib.axis_20">
    <g id="ytick_55">
     <g id="line2d_85">
      <g>
       <path d="M 0 0 L 2.43 0 " transform="translate(255.8 606.3)" style="fill: #333333; stroke: #333333; stroke-width: 0.8"/>
      </g>
     </g>
     <g id="text_98">
      <text style="font-size: 4.53px; font-family: 'DejaVu Sans', sans-serif; text-anchor: start; fill: #222222" x="260.66" y="608.021046" transform="rotate(-0 260.66 608.021046)">8000</text>
     </g>
    </g>
    <g id="ytick_56">
     <g id="line2d_86">
      <g>
       <path d="M 0 0 L 2.43 0 " transform="translate(255.8 572.74)" style="fill: #333333; stroke: #333333; stroke-width: 0.8"/>
      </g>
     </g>
     <g id="text_99">
      <text style="font-size: 4.53px; font-family: 'DejaVu Sans', sans-serif; text-anchor: start; fill: #222222" x="260.66" y="574.461046" transform="rotate(-0 260.66 574.461046)">9900</text>
     </g>
    </g>
    <g id="ytick_57">
     <g id="line2d_87">
      <g>
       <path d="M 0 0 L 2.43 0 " transform="translate(255.8 539.18)" style="fill: #333333; stroke: #333333; stroke-width: 0.8"/>
      </g>
     </g>
     <g id="text_100">
      <text style="font-size: 4.53px; font-family: 'DejaVu Sans', sans-serif; text-anchor: start; fill: #222222" x="260.66" y="540.901046" transform="rotate(-0 260.66 540.901046)">11,800</text>
     </g>
    </g>
    <g id="ytick_58">
     <g id="line2d_88">
      <g>
       <path d="M 0 0 L 2.43 0 " transform="translate(255.8 505.62)" style="fill: #333333; stroke: #333333; stroke-width: 0.8"/>
      </g>
     </g>
     <g id="text_101">
      <text style="font-size: 4.53px; font-family: 'DejaVu Sans', sans-serif; text-anchor: start; fill: #222222" x="260.66" y="507.341046" transform="rotate(-0 260.66 507.341046)">13,700</text>
     </g>
    </g>
    <g id="ytick_59">
     <g id="line2d_89">
      <g>
       <path d="M 0 0 L 2.43 0 " transform="translate(255.8 472.06)" style="fill: #333333; stroke: #333333; stroke-width: 0.8"/>
      </g>
     </g>
     <g id="text_102">
      <text style="font-size: 4.53px; font-family: 'DejaVu Sans', sans-serif; text-anchor: start; fill: #222222" x="260.66" y="473.781046" transform="rotate(-0 260.66 473.781046)">15,600</text>
     </g>
    </g>
    <g id="ytick_60">
     <g id="line2d_90">
      <g>
       <path d="M 0 0 L 2.43 0 " transform="translate(255.8 438.5)" style="fill: #333333; stroke: #333333; stroke-width: 0.8"/>
      </g>
     </g>
     <g id="text_103">
      <text style="font-size: 4.53px; font-family: 'DejaVu Sans', sans-serif; text-anchor: start; fill: #222222" x="260.66" y="440.221046" transform="rotate(-0 260.66 440.221046)">17,500</text>
     </g>
    </g>
   </g>
   <g id="LineCollection_5"/>
   <g id="patch_36">
    <path d="M 246.9 606.3 L 251.35 606.3 L 255.8 606.3 L 255.8 438.5 L 251.35 438.5 L 246.9 438.5 L 246.9 606.3 z " style="fill: none; stroke: #333333; stroke-width: 0.7; stroke-linejoin: miter; stroke-linecap: square"/>
   </g>
  </g>
  <g id="axes_11">
   <g id="patch_37">
    <path d="M 302 606.3 L 504.8 606.3 L 504.8 438.5 L 302 438.5 z " style="fill: #ffffff"/>
   </g>
   <g id="field5"><rect x="302.0" y="438.5" width="202.8" height="167.8" fill="#3c8abe"/>
<path fill="#5ca3cb" fill-rule="evenodd" d="M302 438.5L504.8 438.5 504.8 606.3 302 606.3ZM332.6 530.8L332.1 531.5 332.6 533 333.4 531.5ZM387.5 515.3L387.5 517 388.7 517.3 389.2 515.8 388.7 514.9Z"/>
<path fill="#81bad8" fill-rule="evenodd" d="M302 438.5L504.8 438.5 504.8 606.3 386.5 606.3 386.1 603.9 384.9 602 383.6 601.2 382.4 601.1 380.4 602.7 379.8 603.9 379.3 606.3 302 606.3ZM331.3 528.8L330.2 530.2 329.9 531.5 330.1 533.9 331.3 535.8 332.6 536.3 333.9 536.1 335 535.1 335.6 533.9 335.7 531.5 335.3 530.2 333.9 528.7 332.6 528.3ZM387.5 511.5L386.2 512.2 385.3 513.3 384.7 517 385.3 519.4 386.2 520.7 387.5 521.7 388.7 521.9 390 521.5 391.3 520.1 392.1 518.2 392.2 515.8 391.4 513.3 390.3 512.1 388.7 511.4ZM411.7 566.6L410.8 567.7 410.6 570.1 411.7 571.7 413 571.8 414.1 570.1 414.2 568.9 413.9 567.7 413 566.6Z"/>
<path fill="#a5cee3" fill-rule="evenodd" d="M302 438.5L504.8 438.5 504.8 606.3 418.1 606.3 417.4 602.7 415.5 599.2 413 597.1 410.4 596.4 407.9 596.8 404.9 599.1 402.9 602.7 402.1 606.3 392.5 606.3 391.6 601.5 389.2 596.6 386.2 593.8 383.6 593.1 382.4 593.3 379.8 594.6 377.3 597.3 375.2 601.5 374.1 606.3 361.4 606.3 360.7 602.7 359.4 600.1 358.1 598.8 356.8 598.2 355.6 598.1 354.3 598.6 353 599.7 351.9 601.5 351 603.9 350.8 606.3 302 606.3ZM330.1 526.4L328.4 527.8 327.3 530.2 327.2 532.7 327.6 535.1 328.6 537.5 330.1 539.2 331.3 540.1 333.9 540.3 335.2 539.7 337.3 537.5 338.5 533.9 338.4 531.5 337.5 529 335.2 526.7 332.6 525.8ZM386.2 508L383.6 509.6 382.1 512.1 381.4 515.8 381.7 519.4 382.9 523 384.9 526 387.5 527.8 390 528 392.6 526.6 395.1 523 396.2 519.4 396.2 514.6 394.5 510.9 392.6 509.1 388.7 507.8ZM414.2 508.1L413 508.9 411.7 510.5 410.3 514.6 409.9 518.2 409.7 533.9 410.1 537.5 411.2 539.9 413 541.8 415.5 542.5 416.8 542.1 418.2 541.1 419.6 538.7 420.3 536.3 420.2 517 419.4 512.1 418.1 509.5 416.8 508.4 415.5 507.9ZM493.3 580.9L492 582.2 490.9 584.6 490.6 588.2 490.9 589.4 492 591.2 493.3 591.9 494.6 591.9 495.9 591.2 497.1 589.4 497.6 585.8 497 583.4 495.9 581.3 494.6 580.5ZM410.4 558.9L407.9 560.7 405.9 564 405 567.7 405 571.3 405.9 574.9 407.9 578.1 410.4 579.8 413 580.1 415.5 579.2 418.1 576.1 419.3 572.5 419.5 567.7 418.5 564 416.1 560.4 413 558.7Z"/>
<path fill="#c2ddec" fill-rule="evenodd" d="M302 438.5L383 438.5 383.9 447 383.8 460.2 382.5 474.7 382.7 479.5 384.2 482 386.2 483.1 393.8 484.9 396.4 486 398.5 488 400.2 491.6 400.7 494 400.7 497.7 400 501.3 398.9 503.4 396.4 504.3 391.3 504.1 384.9 503.4 381.1 504.3 379.8 505.3 378.4 507.3 377.6 509.7 376.8 514.6 376.8 518.2 377.4 523 380.4 533.9 378.3 548.4 378 554.4 378.5 555.5 379.8 556 386.2 556.9 390 558.1 392.6 559.9 393.9 561.6 395.6 565.3 396.3 570.1 396 574.9 394.4 579.7 392.6 582.3 390 584.2 387.5 584.9 382.4 584.2 378.6 582.2 376.3 579.7 372.2 572.3 370.9 572.3 368.3 572.9 365.8 572.8 359.4 569.9 358.1 570.9 354.3 576.2 350.8 582.2 345 597.8 344.2 601.5 343.7 606.3 302 606.3ZM327.5 523.8L325.4 525.4 324.1 529 323.9 533.9 325 538.7 326.9 542.3 328.8 544.3 331.3 545.7 333.9 545.9 335.2 545.7 338.5 543.5 340.9 539.9 342.2 535.1 342.1 530.2 340.9 527.8 339.9 526.6 336.4 524.4 331.3 523.1ZM426.7 438.5L504.8 438.5 504.8 606.3 471.1 606.3 469.8 603.9 468.6 602.7 466.9 601.5 465.3 601.1 458.2 603.9 457.4 605.1 457.3 606.3 448.6 606.3 445.9 580.9 445.2 571.3 444.2 566.5 443 564 441 561.7 433.4 557.3 431.6 555.6 430.3 553.2 428.2 545.9 427.7 535.1 426.5 525.4 426 513.3 423.5 497.7 423.8 490.4 424.9 479.5 424.3 466.3ZM493.3 564.7L491 566.5 489.8 568.9 486.4 582.2 485.5 588.2 486.2 591.8 487.8 594.2 490.8 596 494.6 596.5 497.1 596.2 499.4 595.4 502.2 593 503.3 590.6 503.4 585.8 502.3 571.3 501.7 568.9 499.9 566.5 498.1 565.3 495.9 564.4Z"/>
<path fill="#dbeaf2" fill-rule="evenodd" d="M443 438.5L504.8 438.5 504.8 511.1 502.2 508.8 499.7 508 497.1 508.6 494.6 510.9 492.7 515.8 488.5 532.7 488.3 535.1 488.8 536.3 490.8 537.1 497.1 538.4 502.2 538.7 504.8 540.1 504.8 557.8 503.5 558.8 501 559.7 498.4 559.8 494.5 559.2 490.7 558 486.4 555.6 483.1 551 481.8 552.3 479.6 556.8 479.9 568.9 477.3 580.9 476.2 590.6 475.3 593 473.5 595.4 471.6 596.7 469.1 597.3 464 597 461.4 596 458.6 593 457.2 589.4 456.9 585.8 457.2 576.1 456.6 565.3 457.2 560.4 459.1 552 457.3 547.1 456.3 545.3 455.1 543.9 453.8 543.7 448.7 544.7 446.1 544.6 443.6 543.8 441 542 439.3 539.9 437.6 536.3 434.3 526.6 433 520.6 432.5 514.6 433 509.7 434.3 504.9 438.2 495.2 439.5 483.2 439.9 469.9ZM336 450.6L339 450.3 341.5 451.6 343.4 454.2 344.1 456.6 344 460.2 343.2 462.6 341.5 464.6 339 465.8 336.4 465.7 333.9 464.2 332.6 462.6 331.6 460.2 331.5 456.6 332.2 454.2 333.9 451.9ZM304.3 469.9L307.1 469.1 310.9 469.6 313.5 471.1 315.5 473.5 316.7 477.1 316.6 482 315.6 484.4 313.5 486.5 310.9 487.3 308.4 487.3 304.6 486.4 302 484.9 302 471.8ZM388.1 494L390 493.2 391.3 493.7 392.4 495.2 392.5 497.7 391.3 499.3 390 499.6 388.7 499 387.6 497.7 387.4 495.2ZM328.2 501.3L331.3 500.2 339 500.5 341.5 501.6 343.6 503.7 345.4 507.3 346.2 512.1 345.8 517 345.1 519.4 344.1 520.9 341.5 521.8 335.2 521.2 328.9 519.4 325.9 518.2 324.1 517 323.1 514.6 323.4 508.5 324.1 506.1 325.5 503.7ZM357.3 510.9L359.4 510 360.7 510.2 363.2 512.2 364.5 514.6 365.7 518.2 367.5 526.6 367.4 532.7 366.1 537.5 363.4 541.1 360.7 542.5 358.1 542.4 356.8 541.8 354.8 539.9 352.8 536.3 351.8 531.5 351.7 526.6 352.7 520.6 354.8 514.6 356.2 512.1ZM302 514.6L304.6 514.9 309.7 516.4 312.2 518 313.6 519.4 315.4 521.8 317 525.4 317.9 529 318.3 533.9 318.1 537.5 317.5 541.1 316.4 544.7 314.1 549.6 311.7 553.2 308.4 557 305.8 558.5 302 559.6ZM383.4 565.3L384.9 564.5 387.5 564.6 389.7 566.5 390.9 568.9 391.2 572.5 390.6 574.9 389.1 577.3 387.5 578.4 384.9 578.3 383.6 577.6 382.3 576.1 381.2 573.7 380.9 571.3 381.2 568.9 382.2 566.5ZM324.8 597.8L327.5 596.7 330.1 597 331.3 597.8 332.6 599.1 334 601.5 334.8 606.3 321.2 606.3 322.1 601.5 323.6 599.1ZM491.9 601.5L494.6 601.3 497.1 602.3 498.9 603.9 500 606.3 486.9 606.3 488.2 603.6 489.5 602.5Z"/>
<path fill="#edf2f5" fill-rule="evenodd" d="M469.1 438.5L487.1 438.5 486.8 444.5 486.2 447 485 449.4 483.1 451.5 480.6 453 478 453.4 474.2 452.3 471.6 450.1 469.9 447 469 443.3ZM493.4 438.5L504.8 438.5 504.8 490.7 502.2 490.8 501 490.5 498.4 488.9 495.9 485.6 494.2 480.8 493.2 459 493.8 448.2ZM444.1 498.9L446.1 497.8 448.7 500.1 450.6 502.5 452 504.9 453.4 508.5 454.3 514.6 453.5 521.8 451.9 526.6 448.3 532.7 446.1 534.7 444.9 535.2 443.6 535.2 442.3 534.5 440.6 532.7 438.5 529 436.2 523 435.2 517 435.7 510.9 437.4 506.1 439.8 502.5ZM332.2 506.1L333.9 505.4 336.4 505.5 337.7 506.1 339.9 508.5 340.8 510.9 340.9 514.6 339.7 517 337.8 518.2 335.2 518.5 333.8 518.2 331.6 517 329.6 514.6 329 512.1 329.4 509.7 330.8 507.3ZM302.9 520.6L304.6 520.3 307.1 520.8 309.2 521.8 310.9 523.3 312.5 525.4 313.6 527.8 314.4 530.2 314.8 533.9 314.1 539.9 312.7 543.5 311.2 545.9 309.7 547.8 307.1 549.6 303.3 550.6 302 550 302 520.9ZM358.7 529L359.4 528.1 360.7 527.9 361.9 529.3 362.3 531.5 362.1 532.7 360.7 534.3 359.4 534 358.5 532.7 358.3 530.2ZM495.2 545.9L497.1 545.2 498.4 545.5 499.7 546.3 500.9 548.4 501.3 550.8 501 552 499.7 554.2 498.4 554.9 497.1 555 495.9 554.6 494.2 553.2 493.6 552 493.2 549.6 493.5 548.4ZM467.7 556.8L470.4 557.3 472.9 560 474.6 564 475.1 568.9 472.4 585.8 471.5 589.4 470.4 591.6 469.1 592.9 466.5 593.8 464 593 462.7 591.8 461.1 588.2 460.8 584.6 460.7 568.9 461.4 564 462.7 560.8 465.3 557.8ZM385.9 570.1L386.6 570.1 387.6 571.3 387.5 572.8 386.2 573.7 385.1 572.5 385 571.3Z"/>
<path fill="#f9f0eb" fill-rule="evenodd" d="M475.3 439.7L476.4 438.5 478 438.5 479 439.7 479.2 442.1 478 444.3 476.7 444.5 475.5 443.4 475 442.1ZM502 438.5L504.8 438.5 504.8 482.8 503.5 483.3 502.2 483.1 500.9 482 499.8 479.5 499.4 477.1 500 468.7 499.5 459 500.1 455.4 502 449.4 502 447 501.3 442.1ZM442 504.9L444.9 504 446.1 504.2 448.5 506.1 450.5 509.7 451.5 514.6 451.2 519.4 449.7 524.2 447.4 527.8 444.9 530.4 443.6 531 439 524.2 437.7 520.6 437.2 517 437.4 513.3 438.3 509.7 439.8 507.1ZM334.2 509.7L335.2 509.5 336.4 510.1 337.5 512.1 337 514.6 335.2 515.7 333.9 515.2 332.7 513.3 333 510.9ZM302.5 524.2L304.6 523.6 305.8 523.7 308.4 524.8 311 527.8 312.5 532.7 312.3 537.5 310.5 542.3 308.4 544.9 307.1 545.7 304.6 546.4 302 545.5 302 524.5ZM466.4 562.8L467.8 562.4 469.1 562.7 470.4 563.7 471.6 566.1 472.1 568.9 471.6 572.8 469.3 579.7 468.6 588.2 467.8 589.7 466.5 590.5 465.3 590.2 464.6 589.4 463.9 587 464.7 579.7 463.5 570.1 464.4 565.3 465.3 563.9Z"/>
<path fill="#fbe3d4" fill-rule="evenodd" d="M441.7 508.5L443.6 507.5 444.9 507.5 446.1 508 447.8 509.7 449.2 513.3 449.4 517 448.7 520.6 447.4 523.1 446.1 524.5 444.9 525.2 443.6 525.3 442.3 524.6 441 523.3 439.8 521 439 518.2 438.9 514.6 439.4 512.1 440.6 509.7ZM303.4 526.6L305.8 526.3 308.4 527.8 310 530.2 310.6 532.7 310.7 536.3 309.7 539.7 308.4 541.6 305.8 543.2 303.3 542.9 302 542 302 527.5ZM467.7 566.5L469.1 567.2 469.7 568.9 469.1 571.6 467.8 572.5 466.5 571.8 466 570.1 466.3 567.7Z"/>
<path fill="#fbceb7" fill-rule="evenodd" d="M442.2 510.9L443.6 510.2 444.9 510.3 446.1 511.1 447.4 513.6 447.7 515.8 447.4 518.4 446.1 520.9 444.9 521.9 443.6 522 442.3 521.3 440.6 518.2 440.4 514.6 441 512.5ZM303.5 529L304.6 528.6 305.8 528.6 307.1 529.3 308.4 530.9 309 532.7 309.3 535.1 308.8 537.5 307.2 539.9 305.8 540.7 304.6 540.8 303.3 540.2 302 538.8 302 530.6Z"/>
<path fill="#f7b596" fill-rule="evenodd" d="M442.3 513.3L443.6 512.4 444.9 512.7 446 514.6 446.1 517 444.9 519.1 443.6 519.4 442.2 518.2 441.6 515.8ZM303.4 531.5L304.6 530.6 305.8 530.7 307.6 532.7 307.9 533.9 307.6 536.3 307 537.5 305.8 538.5 304.6 538.6 303.3 537.6 302.6 536.3 302.4 533.9Z"/>
<path fill="#ee9677" fill-rule="evenodd" d="M443.4 514.6L444 514.6 444.9 515.8 443.6 517.2 442.8 515.8ZM304.4 532.7L305.8 532.6 306.6 533.9 306.6 535.1 305.8 536.5 304.6 536.6 303.7 535.1 303.7 533.9Z"/></g>
   <g id="matplotlib.axis_21">
    <g id="xtick_31">
     <g id="line2d_91">
      <g>
       <path d="M 0 0 L 0 2.43 " transform="translate(303.1 606.3)" style="fill: #333333; stroke: #333333; stroke-width: 0.8"/>
      </g>
     </g>
     <g id="text_104">
      <text style="font-size: 7.05px; font-family: 'DejaVu Sans', sans-serif; text-anchor: middle; fill: #222222" x="303.1" y="616.516898" transform="rotate(-0 303.1 616.516898)">495,600</text>
     </g>
    </g>
    <g id="xtick_32">
     <g id="line2d_92">
      <g>
       <path d="M 0 0 L 0 2.43 " transform="translate(340.2 606.3)" style="fill: #333333; stroke: #333333; stroke-width: 0.8"/>
      </g>
     </g>
     <g id="text_105">
      <text style="font-size: 7.05px; font-family: 'DejaVu Sans', sans-serif; text-anchor: middle; fill: #222222" x="340.2" y="616.516898" transform="rotate(-0 340.2 616.516898)">495,620</text>
     </g>
    </g>
    <g id="xtick_33">
     <g id="line2d_93">
      <g>
       <path d="M 0 0 L 0 2.43 " transform="translate(377.3 606.3)" style="fill: #333333; stroke: #333333; stroke-width: 0.8"/>
      </g>
     </g>
     <g id="text_106">
      <text style="font-size: 7.05px; font-family: 'DejaVu Sans', sans-serif; text-anchor: middle; fill: #222222" x="377.3" y="616.516898" transform="rotate(-0 377.3 616.516898)">495,640</text>
     </g>
    </g>
    <g id="xtick_34">
     <g id="line2d_94">
      <g>
       <path d="M 0 0 L 0 2.43 " transform="translate(414.4 606.3)" style="fill: #333333; stroke: #333333; stroke-width: 0.8"/>
      </g>
     </g>
     <g id="text_107">
      <text style="font-size: 7.05px; font-family: 'DejaVu Sans', sans-serif; text-anchor: middle; fill: #222222" x="414.4" y="616.516898" transform="rotate(-0 414.4 616.516898)">495,660</text>
     </g>
    </g>
    <g id="xtick_35">
     <g id="line2d_95">
      <g>
       <path d="M 0 0 L 0 2.43 " transform="translate(451.5 606.3)" style="fill: #333333; stroke: #333333; stroke-width: 0.8"/>
      </g>
     </g>
     <g id="text_108">
      <text style="font-size: 7.05px; font-family: 'DejaVu Sans', sans-serif; text-anchor: middle; fill: #222222" x="451.5" y="616.516898" transform="rotate(-0 451.5 616.516898)">495,680</text>
     </g>
    </g>
    <g id="xtick_36">
     <g id="line2d_96">
      <g>
       <path d="M 0 0 L 0 2.43 " transform="translate(488.6 606.3)" style="fill: #333333; stroke: #333333; stroke-width: 0.8"/>
      </g>
     </g>
     <g id="text_109">
      <text style="font-size: 7.05px; font-family: 'DejaVu Sans', sans-serif; text-anchor: middle; fill: #222222" x="488.6" y="616.516898" transform="rotate(-0 488.6 616.516898)">495,700</text>
     </g>
    </g>
    <g id="text_110">
     <text style="font-size: 7.05px; font-family: 'DejaVu Sans', sans-serif; text-anchor: middle" x="403.4" y="625.739977" transform="rotate(-0 403.4 625.739977)">Easting</text>
    </g>
   </g>
   <g id="matplotlib.axis_22">
    <g id="ytick_61">
     <g id="line2d_97">
      <g>
       <path d="M 0 0 L -2.43 0 " transform="translate(302 462.8)" style="fill: #333333; stroke: #333333; stroke-width: 0.8"/>
      </g>
     </g>
     <g id="text_111">
      <text style="font-size: 7.05px; font-family: 'DejaVu Sans', sans-serif; text-anchor: end; fill: #222222" x="297.14" y="465.478449" transform="rotate(-0 297.14 465.478449)">90</text>
     </g>
    </g>
    <g id="ytick_62">
     <g id="line2d_98">
      <g>
       <path d="M 0 0 L -2.43 0 " transform="translate(302 489.44)" style="fill: #333333; stroke: #333333; stroke-width: 0.8"/>
      </g>
     </g>
     <g id="text_112">
      <text style="font-size: 7.05px; font-family: 'DejaVu Sans', sans-serif; text-anchor: end; fill: #222222" x="297.14" y="492.118449" transform="rotate(-0 297.14 492.118449)">80</text>
     </g>
    </g>
    <g id="ytick_63">
     <g id="line2d_99">
      <g>
       <path d="M 0 0 L -2.43 0 " transform="translate(302 516.08)" style="fill: #333333; stroke: #333333; stroke-width: 0.8"/>
      </g>
     </g>
     <g id="text_113">
      <text style="font-size: 7.05px; font-family: 'DejaVu Sans', sans-serif; text-anchor: end; fill: #222222" x="297.14" y="518.758449" transform="rotate(-0 297.14 518.758449)">70</text>
     </g>
    </g>
    <g id="ytick_64">
     <g id="line2d_100">
      <g>
       <path d="M 0 0 L -2.43 0 " transform="translate(302 542.72)" style="fill: #333333; stroke: #333333; stroke-width: 0.8"/>
      </g>
     </g>
     <g id="text_114">
      <text style="font-size: 7.05px; font-family: 'DejaVu Sans', sans-serif; text-anchor: end; fill: #222222" x="297.14" y="545.398449" transform="rotate(-0 297.14 545.398449)">60</text>
     </g>
    </g>
    <g id="ytick_65">
     <g id="line2d_101">
      <g>
       <path d="M 0 0 L -2.43 0 " transform="translate(302 569.36)" style="fill: #333333; stroke: #333333; stroke-width: 0.8"/>
      </g>
     </g>
     <g id="text_115">
      <text style="font-size: 7.05px; font-family: 'DejaVu Sans', sans-serif; text-anchor: end; fill: #222222" x="297.14" y="572.038449" transform="rotate(-0 297.14 572.038449)">50</text>
     </g>
    </g>
    <g id="ytick_66">
     <g id="line2d_102">
      <g>
       <path d="M 0 0 L -2.43 0 " transform="translate(302 596)" style="fill: #333333; stroke: #333333; stroke-width: 0.8"/>
      </g>
     </g>
     <g id="text_116">
      <text style="font-size: 7.05px; font-family: 'DejaVu Sans', sans-serif; text-anchor: end; fill: #222222" x="297.14" y="598.678449" transform="rotate(-0 297.14 598.678449)">40</text>
     </g>
    </g>
   </g>
   <g id="patch_38">
    <path d="M 302 606.3 L 302 438.5 " style="fill: none; stroke: #333333; stroke-width: 0.7; stroke-linejoin: miter; stroke-linecap: square"/>
   </g>
   <g id="patch_39">
    <path d="M 504.8 606.3 L 504.8 438.5 " style="fill: none; stroke: #333333; stroke-width: 0.7; stroke-linejoin: miter; stroke-linecap: square"/>
   </g>
   <g id="patch_40">
    <path d="M 302 606.3 L 504.8 606.3 " style="fill: none; stroke: #333333; stroke-width: 0.7; stroke-linejoin: miter; stroke-linecap: square"/>
   </g>
   <g id="patch_41">
    <path d="M 302 438.5 L 504.8 438.5 " style="fill: none; stroke: #333333; stroke-width: 0.7; stroke-linejoin: miter; stroke-linecap: square"/>
   </g>
   <g id="PathCollection_6">
    <g clip-path="url(#pba2892f14e)">
     <circle cx="312.8" cy="438.7" r="1.80" style="fill: #404040"/>
     <circle cx="338.4" cy="441.5" r="1.80" style="fill: #404040"/>
     <circle cx="366.2" cy="441.5" r="1.80" style="fill: #404040"/>
     <circle cx="395.8" cy="438.7" r="1.80" style="fill: #404040"/>
     <circle cx="421.4" cy="438.7" r="1.80" style="fill: #404040"/>
     <circle cx="449.4" cy="441.5" r="1.80" style="fill: #404040"/>
     <circle cx="477" cy="441.5" r="1.80" style="fill: #404040"/>
     <circle cx="503.8" cy="440.7" r="1.80" style="fill: #404040"/>
     <circle cx="310.8" cy="457.1" r="1.80" style="fill: #404040"/>
     <circle cx="338.4" cy="457.1" r="1.80" style="fill: #404040"/>
     <circle cx="364.4" cy="459.9" r="1.80" style="fill: #404040"/>
     <circle cx="393.8" cy="459.9" r="1.80" style="fill: #404040"/>
     <circle cx="419.8" cy="457.1" r="1.80" style="fill: #404040"/>
     <circle cx="447.6" cy="459.9" r="1.80" style="fill: #404040"/>
     <circle cx="475.2" cy="459.9" r="1.80" style="fill: #404040"/>
     <circle cx="503.4" cy="459.9" r="1.80" style="fill: #404040"/>
     <circle cx="308.8" cy="478.5" r="1.80" style="fill: #404040"/>
     <circle cx="336.8" cy="478.5" r="1.80" style="fill: #404040"/>
     <circle cx="364.4" cy="478.5" r="1.80" style="fill: #404040"/>
     <circle cx="390.2" cy="478.5" r="1.80" style="fill: #404040"/>
     <circle cx="419.8" cy="478.5" r="1.80" style="fill: #404040"/>
     <circle cx="445.8" cy="476.1" r="1.80" style="fill: #404040"/>
     <circle cx="473.4" cy="478.5" r="1.80" style="fill: #404040"/>
     <circle cx="503.2" cy="478.5" r="1.80" style="fill: #404040"/>
     <circle cx="307.2" cy="497.3" r="1.80" style="fill: #404040"/>
     <circle cx="335" cy="497.3" r="1.80" style="fill: #404040"/>
     <circle cx="362.6" cy="497.3" r="1.80" style="fill: #404040"/>
     <circle cx="390.2" cy="497.3" r="1.80" style="fill: #404040"/>
     <circle cx="417.8" cy="497.3" r="1.80" style="fill: #404040"/>
     <circle cx="445.8" cy="497.3" r="1.80" style="fill: #404040"/>
     <circle cx="473.4" cy="497.3" r="1.80" style="fill: #404040"/>
     <circle cx="501.2" cy="497.3" r="1.80" style="fill: #404040"/>
     <circle cx="307.2" cy="515.9" r="1.80" style="fill: #404040"/>
     <circle cx="335" cy="513.1" r="1.80" style="fill: #404040"/>
     <circle cx="360.6" cy="515.9" r="1.80" style="fill: #404040"/>
     <circle cx="388.2" cy="515.9" r="1.80" style="fill: #404040"/>
     <circle cx="415.8" cy="515.7" r="1.80" style="fill: #404040"/>
     <circle cx="443.8" cy="515.7" r="1.80" style="fill: #404040"/>
     <circle cx="471.4" cy="515.7" r="1.80" style="fill: #404040"/>
     <circle cx="499.2" cy="515.7" r="1.80" style="fill: #404040"/>
     <circle cx="305.2" cy="534.5" r="1.80" style="fill: #404040"/>
     <circle cx="332.8" cy="531.7" r="1.80" style="fill: #404040"/>
     <circle cx="360.4" cy="531.7" r="1.80" style="fill: #404040"/>
     <circle cx="388.2" cy="534.5" r="1.80" style="fill: #404040"/>
     <circle cx="415.8" cy="534.5" r="1.80" style="fill: #404040"/>
     <circle cx="443.8" cy="531.7" r="1.80" style="fill: #404040"/>
     <circle cx="471.4" cy="534.5" r="1.80" style="fill: #404040"/>
     <circle cx="497.4" cy="534.5" r="1.80" style="fill: #404040"/>
     <circle cx="303.2" cy="550.7" r="1.80" style="fill: #404040"/>
     <circle cx="331.2" cy="550.7" r="1.80" style="fill: #404040"/>
     <circle cx="358.8" cy="550.7" r="1.80" style="fill: #404040"/>
     <circle cx="386.4" cy="550.7" r="1.80" style="fill: #404040"/>
     <circle cx="414.2" cy="550.7" r="1.80" style="fill: #404040"/>
     <circle cx="441.8" cy="550.7" r="1.80" style="fill: #404040"/>
     <circle cx="469.8" cy="550.7" r="1.80" style="fill: #404040"/>
     <circle cx="497.4" cy="550.7" r="1.80" style="fill: #404040"/>
     <circle cx="303.2" cy="569.1" r="1.80" style="fill: #404040"/>
     <circle cx="331.2" cy="569.1" r="1.80" style="fill: #404040"/>
     <circle cx="358.8" cy="569.1" r="1.80" style="fill: #404040"/>
     <circle cx="386.4" cy="571.9" r="1.80" style="fill: #404040"/>
     <circle cx="412.4" cy="569.1" r="1.80" style="fill: #404040"/>
     <circle cx="440.2" cy="569.1" r="1.80" style="fill: #404040"/>
     <circle cx="467.8" cy="569.1" r="1.80" style="fill: #404040"/>
     <circle cx="495.4" cy="569.1" r="1.80" style="fill: #404040"/>
     <circle cx="302.2" cy="590.6" r="1.80" style="fill: #404040"/>
     <circle cx="329.4" cy="588.3" r="1.80" style="fill: #404040"/>
     <circle cx="357" cy="588.1" r="1.80" style="fill: #404040"/>
     <circle cx="384.6" cy="588.1" r="1.80" style="fill: #404040"/>
     <circle cx="412.4" cy="588.1" r="1.80" style="fill: #404040"/>
     <circle cx="440.2" cy="588.1" r="1.80" style="fill: #404040"/>
     <circle cx="466.2" cy="588.1" r="1.80" style="fill: #404040"/>
     <circle cx="493.8" cy="588.1" r="1.80" style="fill: #404040"/>
     <circle cx="329.4" cy="606.1" r="1.80" style="fill: #404040"/>
     <circle cx="355.2" cy="606.1" r="1.80" style="fill: #404040"/>
     <circle cx="382.8" cy="606.1" r="1.80" style="fill: #404040"/>
     <circle cx="410.4" cy="606.1" r="1.80" style="fill: #404040"/>
     <circle cx="438.2" cy="606.1" r="1.80" style="fill: #404040"/>
     <circle cx="465.8" cy="603.1" r="1.80" style="fill: #404040"/>
     <circle cx="493.8" cy="606.1" r="1.80" style="fill: #404040"/>
    </g>
   </g>
   <g id="text_117">
    <text style="font-size: 8.55px; font-family: 'DejaVu Sans', sans-serif; text-anchor: middle" x="403.4" y="435.4" transform="rotate(-0 403.4 435.4)">Predicted values - Depth 20 – 30</text>
   </g>
  </g>
  <g id="axes_12">
   <g id="patch_42">
    <path d="M 517.7 606.3 L 526.6 606.3 L 526.6 438.5 L 517.7 438.5 z " style="fill: #ffffff"/>
   </g>
   <g id="QuadMesh_6">
    <path d="M 517.7 606.3 L 526.6 606.3 L 526.6 597.91 L 517.7 597.91 L 517.7 606.3 " clip-path="url(#p0423b6ae27)" style="fill: #2267ac"/>
    <path d="M 517.7 597.91 L 526.6 597.91 L 526.6 589.52 L 517.7 589.52 L 517.7 597.91 " clip-path="url(#p0423b6ae27)" style="fill: #2f79b5"/>
    <path d="M 517.7 589.52 L 526.6 589.52 L 526.6 581.13 L 517.7 581.13 L 517.7 589.52 " clip-path="url(#p0423b6ae27)" style="fill: #3e8cbf"/>
    <path d="M 517.7 581.13 L 526.6 581.13 L 526.6 572.74 L 517.7 572.74 L 517.7 581.13 " clip-path="url(#p0423b6ae27)" style="fill: #59a1ca"/>
    <path d="M 517.7 572.74 L 526.6 572.74 L 526.6 564.35 L 517.7 564.35 L 517.7 572.74 " clip-path="url(#p0423b6ae27)" style="fill: #7bb6d6"/>
    <path d="M 517.7 564.35 L 526.6 564.35 L 526.6 555.96 L 517.7 555.96 L 517.7 564.35 " clip-path="url(#p0423b6ae27)" style="fill: #9bc9e0"/>
    <path d="M 517.7 555.96 L 526.6 555.96 L 526.6 547.57 L 517.7 547.57 L 517.7 555.96 " clip-path="url(#p0423b6ae27)" style="fill: #b6d7e8"/>
    <path d="M 517.7 547.57 L 526.6 547.57 L 526.6 539.18 L 517.7 539.18 L 517.7 547.57 " clip-path="url(#p0423b6ae27)" style="fill: #d1e5f0"/>
    <path d="M 517.7 539.18 L 526.6 539.18 L 526.6 530.79 L 517.7 530.79 L 517.7 539.18 " clip-path="url(#p0423b6ae27)" style="fill: #e0ecf3"/>
    <path d="M 517.7 530.79 L 526.6 530.79 L 526.6 522.4 L 517.7 522.4 L 517.7 530.79 " clip-path="url(#p0423b6ae27)" style="fill: #f0f4f6"/>
    <path d="M 517.7 522.4 L 526.6 522.4 L 526.6 514.01 L 517.7 514.01 L 517.7 522.4 " clip-path="url(#p0423b6ae27)" style="fill: #f9f0eb"/>
    <path d="M 517.7 514.01 L 526.6 514.01 L 526.6 505.62 L 517.7 505.62 L 517.7 514.01 " clip-path="url(#p0423b6ae27)" style="fill: #fbe4d6"/>
    <path d="M 517.7 505.62 L 526.6 505.62 L 526.6 497.23 L 517.7 497.23 L 517.7 505.62 " clip-path="url(#p0423b6ae27)" style="fill: #fcd5bf"/>
    <path d="M 517.7 497.23 L 526.6 497.23 L 526.6 488.84 L 517.7 488.84 L 517.7 497.23 " clip-path="url(#p0423b6ae27)" style="fill: #f8bda1"/>
    <path d="M 517.7 488.84 L 526.6 488.84 L 526.6 480.45 L 517.7 480.45 L 517.7 488.84 " clip-path="url(#p0423b6ae27)" style="fill: #f4a683"/>
    <path d="M 517.7 480.45 L 526.6 480.45 L 526.6 472.06 L 517.7 472.06 L 517.7 480.45 " clip-path="url(#p0423b6ae27)" style="fill: #e98b6e"/>
    <path d="M 517.7 472.06 L 526.6 472.06 L 526.6 463.67 L 517.7 463.67 L 517.7 472.06 " clip-path="url(#p0423b6ae27)" style="fill: #dc6e57"/>
    <path d="M 517.7 463.67 L 526.6 463.67 L 526.6 455.28 L 517.7 455.28 L 517.7 463.67 " clip-path="url(#p0423b6ae27)" style="fill: #ce4f45"/>
    <path d="M 517.7 455.28 L 526.6 455.28 L 526.6 446.89 L 517.7 446.89 L 517.7 455.28 " clip-path="url(#p0423b6ae27)" style="fill: #be3036"/>
    <path d="M 517.7 446.89 L 526.6 446.89 L 526.6 438.5 L 517.7 438.5 L 517.7 446.89 " clip-path="url(#p0423b6ae27)" style="fill: #ab162a"/>
   </g>
   <g id="matplotlib.axis_23"/>
   <g id="matplotlib.axis_24">
    <g id="ytick_67">
     <g id="line2d_103">
      <g>
       <path d="M 0 0 L 2.43 0 " transform="translate(526.6 606.3)" style="fill: #333333; stroke: #333333; stroke-width: 0.8"/>
      </g>
     </g>
     <g id="text_118">
      <text style="font-size: 4.53px; font-family: 'DejaVu Sans', sans-serif; text-anchor: start; fill: #222222" x="531.46" y="608.021046" transform="rotate(-0 531.46 608.021046)">8000</text>
     </g>
    </g>
    <g id="ytick_68">
     <g id="line2d_104">
      <g>
       <path d="M 0 0 L 2.43 0 " transform="translate(526.6 572.74)" style="fill: #333333; stroke: #333333; stroke-width: 0.8"/>
      </g>
     </g>
     <g id="text_119">
      <text style="font-size: 4.53px; font-family: 'DejaVu Sans', sans-serif; text-anchor: start; fill: #222222" x="531.46" y="574.461046" transform="rotate(-0 531.46 574.461046)">9900</text>
     </g>
    </g>
    <g id="ytick_69">
     <g id="line2d_105">
      <g>
       <path d="M 0 0 L 2.43 0 " transform="translate(526.6 539.18)" style="fill: #333333; stroke: #333333; stroke-width: 0.8"/>
      </g>
     </g>
     <g id="text_120">
      <text style="font-size: 4.53px; font-family: 'DejaVu Sans', sans-serif; text-anchor: start; fill: #222222" x="531.46" y="540.901046" transform="rotate(-0 531.46 540.901046)">11,800</text>
     </g>
    </g>
    <g id="ytick_70">
     <g id="line2d_106">
      <g>
       <path d="M 0 0 L 2.43 0 " transform="translate(526.6 505.62)" style="fill: #333333; stroke: #333333; stroke-width: 0.8"/>
      </g>
     </g>
     <g id="text_121">
      <text style="font-size: 4.53px; font-family: 'DejaVu Sans', sans-serif; text-anchor: start; fill: #222222" x="531.46" y="507.341046" transform="rotate(-0 531.46 507.341046)">13,700</text>
     </g>
    </g>
    <g id="ytick_71">
     <g id="line2d_107">
      <g>
       <path d="M 0 0 L 2.43 0 " transform="translate(526.6 472.06)" style="fill: #333333; stroke: #333333; stroke-width: 0.8"/>
      </g>
     </g>
     <g id="text_122">
      <text style="font-size: 4.53px; font-family: 'DejaVu Sans', sans-serif; text-anchor: start; fill: #222222" x="531.46" y="473.781046" transform="rotate(-0 531.46 473.781046)">15,600</text>
     </g>
    </g>
    <g id="ytick_72">
     <g id="line2d_108">
      <g>
       <path d="M 0 0 L 2.43 0 " transform="translate(526.6 438.5)" style="fill: #333333; stroke: #333333; stroke-width: 0.8"/>
      </g>
     </g>
     <g id="text_123">
      <text style="font-size: 4.53px; font-family: 'DejaVu Sans', sans-serif; text-anchor: start; fill: #222222" x="531.46" y="440.221046" transform="rotate(-0 531.46 440.221046)">17,500</text>
     </g>
    </g>
   </g>
   <g id="LineCollection_6"/>
   <g id="patch_43">
    <path d="M 517.7 606.3 L 522.15 606.3 L 526.6 606.3 L 526.6 438.5 L 522.15 438.5 L 517.7 438.5 L 517.7 606.3 z " style="fill: none; stroke: #333333; stroke-width: 0.7; stroke-linejoin: miter; stroke-linecap: square"/>
   </g>
  </g>
  <g id="line2d_109">
   <path d="M 57.1 21.8 L 58.7 21.8 " style="fill: none; stroke: #777777; stroke-width: 0.6; stroke-linecap: square"/>
  </g>
  <g id="line2d_110">
   <path d="M 28.2 28.4 L 31.2 28.4 " style="fill: none; stroke: #333333; stroke-width: 0.7; stroke-linecap: square"/>
  </g>
  <g id="line2d_111">
   <path d="M 299 28.4 L 302 28.4 " style="fill: none; stroke: #333333; stroke-width: 0.7; stroke-linecap: square"/>
  </g>
  <g id="line2d_112">
   <path d="M 57.1 226.85 L 58.7 226.85 " style="fill: none; stroke: #777777; stroke-width: 0.6; stroke-linecap: square"/>
  </g>
  <g id="line2d_113">
   <path d="M 28.2 233.45 L 31.2 233.45 " style="fill: none; stroke: #333333; stroke-width: 0.7; stroke-linecap: square"/>
  </g>
  <g id="line2d_114">
   <path d="M 299 233.45 L 302 233.45 " style="fill: none; stroke: #333333; stroke-width: 0.7; stroke-linecap: square"/>
  </g>
  <g id="line2d_115">
   <path d="M 57.1 431.9 L 58.7 431.9 " style="fill: none; stroke: #777777; stroke-width: 0.6; stroke-linecap: square"/>
  </g>
  <g id="line2d_116">
   <path d="M 28.2 438.5 L 31.2 438.5 " style="fill: none; stroke: #333333; stroke-width: 0.7; stroke-linecap: square"/>
  </g>
  <g id="line2d_117">
   <path d="M 299 438.5 L 302 438.5 " style="fill: none; stroke: #333333; stroke-width: 0.7; stroke-linecap: square"/>
  </g>
  <g id="text_124">
   
   <g transform="translate(6 24.5)">
    <text>
     <tspan x="0" y="-0.678125" style="font-size: 7.05px; font-family: 'DejaVu Sans', sans-serif">7</tspan>
     <tspan x="4.453613" y="-0.678125" style="font-size: 7.05px; font-family: 'DejaVu Sans', sans-serif">.</tspan>
     <tspan x="6.678711" y="-0.678125" style="font-size: 7.05px; font-family: 'DejaVu Sans', sans-serif">3</tspan>
     <tspan x="11.132324" y="-0.678125" style="font-size: 7.05px; font-family: 'DejaVu Sans', sans-serif">2</tspan>
     <tspan x="15.585938" y="-0.678125" style="font-size: 7.05px; font-family: 'DejaVu Sans', sans-serif">7</tspan>
     <tspan x="20.039551" y="-0.678125" style="font-size: 7.05px; font-family: 'DejaVu Sans', sans-serif">3</tspan>
     <tspan x="24.493164" y="-0.678125" style="font-size: 7.05px; font-family: 'DejaVu Sans', sans-serif">0</tspan>
     <tspan x="30.310547" y="-0.678125" style="font-size: 7.05px; font-family: 'DejaVu Sans', sans-serif">×</tspan>
     <tspan x="37.539551" y="-0.678125" style="font-size: 7.05px; font-family: 'DejaVu Sans', sans-serif">1</tspan>
     <tspan x="41.993164" y="-0.678125" style="font-size: 7.05px; font-family: 'DejaVu Sans', sans-serif">0</tspan>
     <tspan x="46.51377" y="-3.357812" style="font-size: 4.935px; font-family: 'DejaVu Sans', sans-serif">6</tspan>
    </text>
   </g>
  </g>
  <g id="text_125">
   
   <g transform="translate(276.8 24.5)">
    <text>
     <tspan x="0" y="-0.678125" style="font-size: 7.05px; font-family: 'DejaVu Sans', sans-serif">7</tspan>
     <tspan x="4.453613" y="-0.678125" style="font-size: 7.05px; font-family: 'DejaVu Sans', sans-serif">.</tspan>
     <tspan x="6.678711" y="-0.678125" style="font-size: 7.05px; font-family: 'DejaVu Sans', sans-serif">3</tspan>
     <tspan x="11.132324" y="-0.678125" style="font-size: 7.05px; font-family: 'DejaVu Sans', sans-serif">2</tspan>
     <tspan x="15.585938" y="-0.678125" style="font-size: 7.05px; font-family: 'DejaVu Sans', sans-serif">7</tspan>
     <tspan x="20.039551" y="-0.678125" style="font-size: 7.05px; font-family: 'DejaVu Sans', sans-serif">3</tspan>
     <tspan x="24.493164" y="-0.678125" style="font-size: 7.05px; font-family: 'DejaVu Sans', sans-serif">0</tspan>
     <tspan x="30.310547" y="-0.678125" style="font-size: 7.05px; font-family: 'DejaVu Sans', sans-serif">×</tspan>
     <tspan x="37.539551" y="-0.678125" style="font-size: 7.05px; font-family: 'DejaVu Sans', sans-serif">1</tspan>
     <tspan x="41.993164" y="-0.678125" style="font-size: 7.05px; font-family: 'DejaVu Sans', sans-serif">0</tspan>
     <tspan x="46.51377" y="-3.357812" style="font-size: 4.935px; font-family: 'DejaVu Sans', sans-serif">6</tspan>
    </text>
   </g>
  </g>
  <g id="text_126">
   
   <g transform="translate(6 229.55)">
    <text>
     <tspan x="0" y="-0.678125" style="font-size: 7.05px; font-family: 'DejaVu Sans', sans-serif">7</tspan>
     <tspan x="4.453613" y="-0.678125" style="font-size: 7.05px; font-family: 'DejaVu Sans', sans-serif">.</tspan>
     <tspan x="6.678711" y="-0.678125" style="font-size: 7.05px; font-family: 'DejaVu Sans', sans-serif">3</tspan>
     <tspan x="11.132324" y="-0.678125" style="font-size: 7.05px; font-family: 'DejaVu Sans', sans-serif">2</tspan>
     <tspan x="15.585938" y="-0.678125" style="font-size: 7.05px; font-family: 'DejaVu Sans', sans-serif">7</tspan>
     <tspan x="20.039551" y="-0.678125" style="font-size: 7.05px; font-family: 'DejaVu Sans', sans-serif">3</tspan>
     <tspan x="24.493164" y="-0.678125" style="font-size: 7.05px; font-family: 'DejaVu Sans', sans-serif">0</tspan>
     <tspan x="30.310547" y="-0.678125" style="font-size: 7.05px; font-family: 'DejaVu Sans', sans-serif">×</tspan>
     <tspan x="37.539551" y="-0.678125" style="font-size: 7.05px; font-family: 'DejaVu Sans', sans-serif">1</tspan>
     <tspan x="41.993164" y="-0.678125" style="font-size: 7.05px; font-family: 'DejaVu Sans', sans-serif">0</tspan>
     <tspan x="46.51377" y="-3.357812" style="font-size: 4.935px; font-family: 'DejaVu Sans', sans-serif">6</tspan>
    </text>
   </g>
  </g>
  <g id="text_127">
   
   <g transform="translate(276.8 229.55)">
    <text>
     <tspan x="0" y="-0.678125" style="font-size: 7.05px; font-family: 'DejaVu Sans', sans-serif">7</tspan>
     <tspan x="4.453613" y="-0.678125" style="font-size: 7.05px; font-family: 'DejaVu Sans', sans-serif">.</tspan>
     <tspan x="6.678711" y="-0.678125" style="font-size: 7.05px; font-family: 'DejaVu Sans', sans-serif">3</tspan>
     <tspan x="11.132324" y="-0.678125" style="font-size: 7.05px; font-family: 'DejaVu Sans', sans-serif">2</tspan>
     <tspan x="15.585938" y="-0.678125" style="font-size: 7.05px; font-family: 'DejaVu Sans', sans-serif">7</tspan>
     <tspan x="20.039551" y="-0.678125" style="font-size: 7.05px; font-family: 'DejaVu Sans', sans-serif">3</tspan>
     <tspan x="24.493164" y="-0.678125" style="font-size: 7.05px; font-family: 'DejaVu Sans', sans-serif">0</tspan>
     <tspan x="30.310547" y="-0.678125" style="font-size: 7.05px; font-family: 'DejaVu Sans', sans-serif">×</tspan>
     <tspan x="37.539551" y="-0.678125" style="font-size: 7.05px; font-family: 'DejaVu Sans', sans-serif">1</tspan>
     <tspan x="41.993164" y="-0.678125" style="font-size: 7.05px; font-family: 'DejaVu Sans', sans-serif">0</tspan>
     <tspan x="46.51377" y="-3.357812" style="font-size: 4.935px; font-family: 'DejaVu Sans', sans-serif">6</tspan>
    </text>
   </g>
  </g>
  <g id="text_128">
   
   <g transform="translate(6 434.6)">
    <text>
     <tspan x="0" y="-0.678125" style="font-size: 7.05px; font-family: 'DejaVu Sans', sans-serif">7</tspan>
     <tspan x="4.453613" y="-0.678125" style="font-size: 7.05px; font-family: 'DejaVu Sans', sans-serif">.</tspan>
     <tspan x="6.678711" y="-0.678125" style="font-size: 7.05px; font-family: 'DejaVu Sans', sans-serif">3</tspan>
     <tspan x="11.132324" y="-0.678125" style="font-size: 7.05px; font-family: 'DejaVu Sans', sans-serif">2</tspan>
     <tspan x="15.585938" y="-0.678125" style="font-size: 7.05px; font-family: 'DejaVu Sans', sans-serif">7</tspan>
     <tspan x="20.039551" y="-0.678125" style="font-size: 7.05px; font-family: 'DejaVu Sans', sans-serif">3</tspan>
     <tspan x="24.493164" y="-0.678125" style="font-size: 7.05px; font-family: 'DejaVu Sans', sans-serif">0</tspan>
     <tspan x="30.310547" y="-0.678125" style="font-size: 7.05px; font-family: 'DejaVu Sans', sans-serif">×</tspan>
     <tspan x="37.539551" y="-0.678125" style="font-size: 7.05px; font-family: 'DejaVu Sans', sans-serif">1</tspan>
     <tspan x="41.993164" y="-0.678125" style="font-size: 7.05px; font-family: 'DejaVu Sans', sans-serif">0</tspan>
     <tspan x="46.51377" y="-3.357812" style="font-size: 4.935px; font-family: 'DejaVu Sans', sans-serif">6</tspan>
    </text>
   </g>
  </g>
  <g id="text_129">
   
   <g transform="translate(276.8 434.6)">
    <text>
     <tspan x="0" y="-0.678125" style="font-size: 7.05px; font-family: 'DejaVu Sans', sans-serif">7</tspan>
     <tspan x="4.453613" y="-0.678125" style="font-size: 7.05px; font-family: 'DejaVu Sans', sans-serif">.</tspan>
     <tspan x="6.678711" y="-0.678125" style="font-size: 7.05px; font-family: 'DejaVu Sans', sans-serif">3</tspan>
     <tspan x="11.132324" y="-0.678125" style="font-size: 7.05px; font-family: 'DejaVu Sans', sans-serif">2</tspan>
     <tspan x="15.585938" y="-0.678125" style="font-size: 7.05px; font-family: 'DejaVu Sans', sans-serif">7</tspan>
     <tspan x="20.039551" y="-0.678125" style="font-size: 7.05px; font-family: 'DejaVu Sans', sans-serif">3</tspan>
     <tspan x="24.493164" y="-0.678125" style="font-size: 7.05px; font-family: 'DejaVu Sans', sans-serif">0</tspan>
     <tspan x="30.310547" y="-0.678125" style="font-size: 7.05px; font-family: 'DejaVu Sans', sans-serif">×</tspan>
     <tspan x="37.539551" y="-0.678125" style="font-size: 7.05px; font-family: 'DejaVu Sans', sans-serif">1</tspan>
     <tspan x="41.993164" y="-0.678125" style="font-size: 7.05px; font-family: 'DejaVu Sans', sans-serif">0</tspan>
     <tspan x="46.51377" y="-3.357812" style="font-size: 4.935px; font-family: 'DejaVu Sans', sans-serif">6</tspan>
    </text>
   </g>
  </g>
  <g id="text_130">
   <text style="font-size: 8.5px; font-family: 'DejaVu Sans', sans-serif; text-anchor: middle" x="276" y="14.5" transform="rotate(-0 276 14.5)">Comparison of Interpolated Values vs Predicted Values for Copper</text>
  </g>
 </g>
 <defs>
  <clipPath id="p26a045d4e1">
   <rect x="31.2" y="28.4" width="202.8" height="167.8"/>
  </clipPath>
  <clipPath id="p0f8dd139ea">
   <rect x="246.9" y="28.4" width="8.9" height="167.8"/>
  </clipPath>
  <clipPath id="pcc8509c935">
   <rect x="302" y="28.4" width="202.8" height="167.8"/>
  </clipPath>
  <clipPath id="paae025ffdf">
   <rect x="517.7" y="28.4" width="8.9" height="167.8"/>
  </clipPath>
  <clipPath id="p59c1ee8912">
   <rect x="31.2" y="233.45" width="202.8" height="167.8"/>
  </clipPath>
  <clipPath id="pb5ca246788">
   <rect x="246.9" y="233.45" width="8.9" height="167.8"/>
  </clipPath>
  <clipPath id="p6a28f835d8">
   <rect x="302" y="233.45" width="202.8" height="167.8"/>
  </clipPath>
  <clipPath id="p12119a0213">
   <rect x="517.7" y="233.45" width="8.9" height="167.8"/>
  </clipPath>
  <clipPath id="pd78ac9f2c9">
   <rect x="31.2" y="438.5" width="202.8" height="167.8"/>
  </clipPath>
  <clipPath id="pc7654ac9b4">
   <rect x="246.9" y="438.5" width="8.9" height="167.8"/>
  </clipPath>
  <clipPath id="pba2892f14e">
   <rect x="302" y="438.5" width="202.8" height="167.8"/>
  </clipPath>
  <clipPath id="p0423b6ae27">
   <rect x="517.7" y="438.5" width="8.9" height="167.8"/>
  </clipPath>
 </defs>
</svg>
</body></html>
